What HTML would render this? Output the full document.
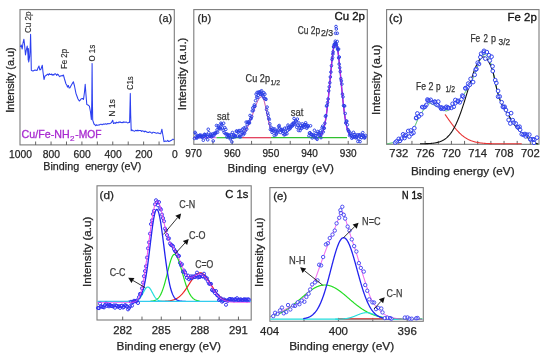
<!DOCTYPE html>
<html><head><meta charset="utf-8"><style>
html,body{margin:0;padding:0;background:#fff;width:550px;height:358px;overflow:hidden}
svg{display:block;filter:blur(0.35px)}
text{font-family:"Liberation Sans", sans-serif}
</style></head><body>
<svg width="550" height="358" viewBox="0 0 550 358">
<rect width="550" height="358" fill="#fff"/>
<rect x="20" y="9.6" width="154.3" height="135.3" fill="none" stroke="#7c7c7c" stroke-width="1.1"/>
<path d="M35.63 144.9 L35.63 141.5 M51.06 144.9 L51.06 141.5 M66.49 144.9 L66.49 141.5 M81.92 144.9 L81.92 141.5 M97.35 144.9 L97.35 141.5 M112.78 144.9 L112.78 141.5 M128.21 144.9 L128.21 141.5 M143.64 144.9 L143.64 141.5 M159.07 144.9 L159.07 141.5 " stroke="#555" stroke-width="0.9" fill="none"/>
<text x="9.04" y="157.5" font-size="10.3" fill="#262626" font-weight="normal" textLength="22.91" lengthAdjust="spacingAndGlyphs" stroke="#262626" stroke-width="0.25">1000</text>
<text x="42.76" y="157.5" font-size="10.3" fill="#262626" font-weight="normal" textLength="17.19" lengthAdjust="spacingAndGlyphs" stroke="#262626" stroke-width="0.25">800</text>
<text x="73.62" y="157.5" font-size="10.3" fill="#262626" font-weight="normal" textLength="17.19" lengthAdjust="spacingAndGlyphs" stroke="#262626" stroke-width="0.25">600</text>
<text x="104.48" y="157.5" font-size="10.3" fill="#262626" font-weight="normal" textLength="17.19" lengthAdjust="spacingAndGlyphs" stroke="#262626" stroke-width="0.25">400</text>
<text x="135.34" y="157.5" font-size="10.3" fill="#262626" font-weight="normal" textLength="17.19" lengthAdjust="spacingAndGlyphs" stroke="#262626" stroke-width="0.25">200</text>
<text x="171.94" y="157.5" font-size="10.3" fill="#262626" font-weight="normal" textLength="5.73" lengthAdjust="spacingAndGlyphs" stroke="#262626" stroke-width="0.25">0</text>
<text x="43.3" y="169.8" font-size="10.8" fill="#262626" font-weight="normal" textLength="98.02" lengthAdjust="spacingAndGlyphs" stroke="#262626" stroke-width="0.25">Binding&#160;&#160;energy (eV)</text>
<text transform="translate(14.2 112.8) rotate(-90)" x="0" y="0" font-size="10" fill="#262626" font-weight="normal" textLength="65.28" lengthAdjust="spacingAndGlyphs" stroke="#262626" stroke-width="0.25">Intensity (a.u)</text>
<text x="158.8" y="22.4" font-size="10.6" fill="#262626" font-weight="normal" textLength="13.22" lengthAdjust="spacingAndGlyphs" stroke="#262626" stroke-width="0.25">(a)</text>
<path d="M20.3 47 L21.2 45 L22.2 49 L23 43 L23.9 39.2 L24.6 45 L25.5 55 L26.3 50 L27.2 46 L28 55 L28.2 60 L28.4 48.5 L28.7 62 L29.6 57 L30.1 50 L30.6 34.2 L31 52 L31.3 70.3 L32.15 70.65 L33 71 L34 70.5 L35 70 L36 70.25 L37 70.5 L38 68 L39 66 L39.8 70 L41 69 L42.3 65.2 L43 72 L44 79.5 L45 76 L46 75.5 L47 74.59 L47.75 74.06 L48.5 75.1 L49.25 73.62 L50 74.58 L50.75 74.44 L51.5 73.97 L52.25 75.27 L53 74.42 L53.75 75.09 L54.5 73.99 L55.25 73.79 L56 74.32 L56.75 75.51 L57.5 74.12 L58.25 74.6 L59 75.8 L59.75 76.67 L60.5 75.93 L61.25 75.63 L62 76 L63.4 75 L64.5 79 L65.25 81.5 L66 84 L66.75 85 L67.5 87.11 L68.33 85.51 L69.17 87.97 L70 87.7 L71 85.85 L72 84 L72.7 82.9 L73.4 81.8 L74.5 86 L75.25 89.8 L76 93.6 L77 96.3 L78 99 L79.3 101 L80.15 100.25 L81 99.01 L81.83 98.63 L82.67 98.54 L83.5 99.4 L84.5 92 L85.2 84.3 L86 95 L86.8 104.5 L88 105 L88.7 105.55 L89.4 106.1 L90.5 112 L91.4 119.6 L91.8 100 L92.1 63.4 L92.4 100 L92.7 120.2 L94 124 L95 124.94 L95.71 125.6 L96.43 124.71 L97.14 125.22 L97.86 125.27 L98.57 124.88 L99.29 125.09 L100 124.41 L100.71 124.26 L101.43 124.32 L102.14 124.81 L102.86 124.33 L103.57 124.03 L104.29 124.26 L105 123.94 L105.71 123.67 L106.43 124.28 L107.14 124.1 L107.86 123.43 L108.57 123.81 L109.29 123.69 L110 123.6 L110.75 123.05 L111.5 122.5 L112.7 120.2 L113.5 123.51 L114.25 123.23 L115 122.55 L115.75 123.4 L116.5 122.15 L117.25 122.47 L118 122.85 L118.7 121.98 L119.4 122.39 L120.1 121.73 L120.8 122.53 L121.5 122.61 L122.2 122.3 L122.9 122.66 L123.6 121.85 L124.3 122.31 L125 122.13 L125.77 122.19 L126.53 122.11 L127.3 122.71 L128.07 122.93 L128.83 122.38 L129.6 122.5 L130.3 93.4 L130.7 115 L131.2 130.72 L131.96 129.91 L132.72 130.77 L133.48 130.7 L134.24 131.17 L135 130.93 L135.71 130.28 L136.43 130.49 L137.14 130.94 L137.86 130.14 L138.57 130.81 L139.29 130.48 L140 130.48 L140.71 130.48 L141.43 131.5 L142.14 130.71 L142.86 130.94 L143.57 131.21 L144.29 131.93 L145 130.93 L145.71 131.54 L146.43 131.78 L147.14 132.34 L147.86 132.36 L148.57 132.53 L149.29 131.84 L150 132.14 L150.71 132.17 L151.43 132.98 L152.14 133.19 L152.86 132.21 L153.57 132.35 L154.29 132.53 L155 132.64 L155.72 133.07 L156.45 133.3 L157.18 132.94 L157.9 132.68 L158.62 133.33 L159.35 133.35 L160.08 133.7 L160.8 133.7 L161.9 129.2 L162.5 133 L163.25 137 L164 141.61 L164.75 141.26 L165.5 141.02 L166.25 141.16 L167 141.24 L167.75 140.4 L168.5 141.54 L169.25 141.38 L170 141 L171 140.5 L172 140 L173 139 L174 140" fill="none" stroke="#2b3ff0" stroke-width="1.05" stroke-linejoin="round" />
<text transform="translate(31.4 33.1) rotate(-90)" x="0" y="0" font-size="9" fill="#2a2a2a" font-weight="normal" textLength="21.69" lengthAdjust="spacingAndGlyphs" stroke="#2a2a2a" stroke-width="0.15">Cu 2p</text>
<text transform="translate(66.9 69.1) rotate(-90)" x="0" y="0" font-size="9" fill="#2a2a2a" font-weight="normal" textLength="20.12" lengthAdjust="spacingAndGlyphs" stroke="#2a2a2a" stroke-width="0.15">Fe 2p</text>
<text transform="translate(95 61.6) rotate(-90)" x="0" y="0" font-size="9" fill="#2a2a2a" font-weight="normal" textLength="16.91" lengthAdjust="spacingAndGlyphs" stroke="#2a2a2a" stroke-width="0.15">O 1s</text>
<text transform="translate(115 116.8) rotate(-90)" x="0" y="0" font-size="9" fill="#2a2a2a" font-weight="normal" textLength="17.61" lengthAdjust="spacingAndGlyphs" stroke="#2a2a2a" stroke-width="0.15">N 1s</text>
<text transform="translate(132.8 90.1) rotate(-90)" x="0" y="0" font-size="9" fill="#2a2a2a" font-weight="normal" textLength="13.79" lengthAdjust="spacingAndGlyphs" stroke="#2a2a2a" stroke-width="0.15">C1s</text>
<text x="21.6" y="137.8" font-size="10.2" fill="#a82ad0" font-weight="normal" textLength="48.01" lengthAdjust="spacingAndGlyphs" stroke="#a82ad0" stroke-width="0.3">Cu/Fe-NH</text>
<text x="70" y="140.8" font-size="7.2" fill="#a82ad0" font-weight="normal" textLength="4.51" lengthAdjust="spacingAndGlyphs" stroke="#a82ad0" stroke-width="0.2">2</text>
<text x="75.3" y="137.8" font-size="10.2" fill="#a82ad0" font-weight="normal" textLength="26.2" lengthAdjust="spacingAndGlyphs" stroke="#a82ad0" stroke-width="0.3">-MOF</text>
<rect x="193.8" y="9.6" width="173.5" height="134.7" fill="none" stroke="#7c7c7c" stroke-width="1.1"/>
<path d="M212.93 144.3 L212.93 140.9 M232.25 144.3 L232.25 140.9 M251.57 144.3 L251.57 140.9 M270.9 144.3 L270.9 140.9 M290.23 144.3 L290.23 140.9 M309.55 144.3 L309.55 140.9 M328.88 144.3 L328.88 140.9 M348.2 144.3 L348.2 140.9 " stroke="#555" stroke-width="0.9" fill="none"/>
<text x="185.25" y="156.8" font-size="10" fill="#262626" font-weight="normal" textLength="16.69" lengthAdjust="spacingAndGlyphs" stroke="#262626" stroke-width="0.25">970</text>
<text x="223.9" y="156.8" font-size="10" fill="#262626" font-weight="normal" textLength="16.69" lengthAdjust="spacingAndGlyphs" stroke="#262626" stroke-width="0.25">960</text>
<text x="262.55" y="156.8" font-size="10" fill="#262626" font-weight="normal" textLength="16.69" lengthAdjust="spacingAndGlyphs" stroke="#262626" stroke-width="0.25">950</text>
<text x="301.2" y="156.8" font-size="10" fill="#262626" font-weight="normal" textLength="16.69" lengthAdjust="spacingAndGlyphs" stroke="#262626" stroke-width="0.25">940</text>
<text x="339.85" y="156.8" font-size="10" fill="#262626" font-weight="normal" textLength="16.69" lengthAdjust="spacingAndGlyphs" stroke="#262626" stroke-width="0.25">930</text>
<text x="227.6" y="172" font-size="11" fill="#262626" font-weight="normal" textLength="106.32" lengthAdjust="spacingAndGlyphs" stroke="#262626" stroke-width="0.25">Binding&#160;&#160;energy (eV)</text>
<text transform="translate(186.3 110.2) rotate(-90)" x="0" y="0" font-size="10.6" fill="#262626" font-weight="normal" textLength="72.61" lengthAdjust="spacingAndGlyphs" stroke="#262626" stroke-width="0.25">Intensity (a.u.)</text>
<text x="197.5" y="22.4" font-size="10.6" fill="#262626" font-weight="normal" textLength="13.63" lengthAdjust="spacingAndGlyphs" stroke="#262626" stroke-width="0.25">(b)</text>
<text x="334.5" y="20.3" font-size="11.3" fill="#151515" font-weight="normal" textLength="30.38" lengthAdjust="spacingAndGlyphs" stroke="#151515" stroke-width="0.35">Cu 2p</text>
<path d="M194 137.7 L216.5 137.7" fill="none" stroke="#e040e0" stroke-width="0.9" stroke-linejoin="round" />
<path d="M216.5 137.7 L242 137.7" fill="none" stroke="#30c030" stroke-width="1.2" stroke-linejoin="round" />
<path d="M242 137.7 L271 137.7" fill="none" stroke="#e03050" stroke-width="1.2" stroke-linejoin="round" />
<path d="M271 137.7 L347 137.7" fill="none" stroke="#30c030" stroke-width="1.2" stroke-linejoin="round" />
<path d="M240 136.05 L240.25 135.92 L240.5 135.79 L240.75 135.65 L241 135.5 L241.25 135.34 L241.5 135.17 L241.75 134.99 L242 134.8 L242.25 134.61 L242.5 134.4 L242.75 134.17 L243 133.94 L243.25 133.7 L243.5 133.44 L243.75 133.17 L244 132.89 L244.25 132.59 L244.5 132.28 L244.75 131.96 L245 131.62 L245.25 131.26 L245.5 130.9 L245.75 130.51 L246 130.12 L246.25 129.7 L246.5 129.28 L246.75 128.83 L247 128.37 L247.25 127.9 L247.5 127.41 L247.75 126.91 L248 126.39 L248.25 125.85 L248.5 125.3 L248.75 124.73 L249 124.16 L249.25 123.56 L249.5 122.96 L249.75 122.34 L250 121.71 L250.25 121.06 L250.5 120.41 L250.75 119.74 L251 119.07 L251.25 118.38 L251.5 117.69 L251.75 116.99 L252 116.28 L252.25 115.57 L252.5 114.85 L252.75 114.13 L253 113.41 L253.25 112.69 L253.5 111.97 L253.75 111.24 L254 110.53 L254.25 109.81 L254.5 109.1 L254.75 108.4 L255 107.71 L255.25 107.02 L255.5 106.35 L255.75 105.69 L256 105.04 L256.25 104.41 L256.5 103.79 L256.75 103.19 L257 102.61 L257.25 102.05 L257.5 101.52 L257.75 101 L258 100.51 L258.25 100.05 L258.5 99.61 L258.75 99.2 L259 98.82 L259.25 98.46 L259.5 98.14 L259.75 97.85 L260 97.59 L260.25 97.36 L260.5 97.17 L260.75 97 L261 96.88 L261.25 96.78 L261.5 96.72 L261.75 96.7 L262 96.73 L262.25 96.87 L262.5 97.1 L262.75 97.43 L263 97.86 L263.25 98.39 L263.5 99 L263.75 99.7 L264 100.48 L264.25 101.34 L264.5 102.26 L264.75 103.25 L265 104.29 L265.25 105.39 L265.5 106.52 L265.75 107.69 L266 108.89 L266.25 110.11 L266.5 111.34 L266.75 112.58 L267 113.83 L267.25 115.06 L267.5 116.29 L267.75 117.5 L268 118.69 L268.25 119.86 L268.5 120.99 L268.75 122.1 L269 123.16 L269.25 124.19 L269.5 125.17 L269.75 126.12 L270 127.02 L270.25 127.87 L270.5 128.68 L270.75 129.44 L271 130.16 L271.25 130.83 L271.5 131.46 L271.75 132.04" fill="none" stroke="#c03aa0" stroke-width="1" stroke-linejoin="round" />
<path d="M319 136.8 L319.25 136.67 L319.5 136.51 L319.75 136.34 L320 136.14 L320.25 135.93 L320.5 135.68 L320.75 135.41 L321 135.1 L321.25 134.76 L321.5 134.38 L321.75 133.96 L322 133.5 L322.25 132.98 L322.5 132.42 L322.75 131.81 L323 131.13 L323.25 130.4 L323.5 129.6 L323.75 128.73 L324 127.79 L324.25 126.77 L324.5 125.68 L324.75 124.51 L325 123.25 L325.25 121.9 L325.5 120.47 L325.75 118.95 L326 117.34 L326.25 115.63 L326.5 113.84 L326.75 111.95 L327 109.97 L327.25 107.91 L327.5 105.76 L327.75 103.53 L328 101.22 L328.25 98.84 L328.5 96.39 L328.75 93.89 L329 91.32 L329.25 88.72 L329.5 86.08 L329.75 83.41 L330 80.73 L330.25 78.04 L330.5 75.36 L330.75 72.7 L331 70.07 L331.25 67.49 L331.5 64.96 L331.75 62.5 L332 60.13 L332.25 57.85 L332.5 55.69 L332.75 53.64 L333 51.73 L333.25 49.96 L333.5 48.34 L333.75 46.9 L334 45.62 L334.25 44.53 L334.5 43.63 L334.75 42.92 L335 42.41 L335.25 42.1 L335.5 42 L335.75 42.1 L336 42.41 L336.25 42.92 L336.5 43.63 L336.75 44.53 L337 45.62 L337.25 46.9 L337.5 48.34 L337.75 49.96 L338 51.73 L338.25 53.64 L338.5 55.69 L338.75 57.85 L339 60.13 L339.25 62.5 L339.5 64.96 L339.75 67.49 L340 70.07 L340.25 72.7 L340.5 75.36 L340.75 78.04 L341 80.73 L341.25 83.41 L341.5 86.08 L341.75 88.72 L342 91.32 L342.25 93.89 L342.5 96.39 L342.75 98.84 L343 101.22 L343.25 103.53 L343.5 105.76 L343.75 107.91 L344 109.97 L344.25 111.95 L344.5 113.84 L344.75 115.63 L345 117.34 L345.25 118.95 L345.5 120.47 L345.75 121.9 L346 123.25 L346.25 124.51 L346.5 125.68 L346.75 126.77 L347 127.79 L347.25 128.73 L347.5 129.6 L347.75 130.4 L348 131.13 L348.25 131.81 L348.5 132.42 L348.75 132.98 L349 133.5 L349.25 133.96 L349.5 134.38 L349.75 134.76" fill="none" stroke="#3030e0" stroke-width="1.4" stroke-linejoin="round" />
<path d="M319 136.8 L319.25 136.67 L319.5 136.51 L319.75 136.34 L320 136.14 L320.25 135.93 L320.5 135.68 L320.75 135.41 L321 135.1 L321.25 134.76 L321.5 134.38 L321.75 133.96 L322 133.5 L322.25 132.98 L322.5 132.42 L322.75 131.81 L323 131.13 L323.25 130.4 L323.5 129.6 L323.75 128.73 L324 127.79 L324.25 126.77 L324.5 125.68 L324.75 124.51 L325 123.25 L325.25 121.9 L325.5 120.47 L325.75 118.95 L326 117.34 L326.25 115.63 L326.5 113.84 L326.75 111.95 L327 109.97 L327.25 107.91 L327.5 105.76 L327.75 103.53 L328 101.22 L328.25 98.84 L328.5 96.39 L328.75 93.89 L329 91.32 L329.25 88.72 L329.5 86.08 L329.75 83.41 L330 80.73 L330.25 78.04 L330.5 75.36 L330.75 72.7 L331 70.07 L331.25 67.49 L331.5 64.96 L331.75 62.5 L332 60.13 L332.25 57.85 L332.5 55.69 L332.75 53.64 L333 51.73 L333.25 49.96 L333.5 48.34 L333.75 46.9 L334 45.62 L334.25 44.53 L334.5 43.63 L334.75 42.92 L335 42.41 L335.25 42.1 L335.5 42 L335.75 42.1 L336 42.41 L336.25 42.92 L336.5 43.63 L336.75 44.53 L337 45.62 L337.25 46.9 L337.5 48.34 L337.75 49.96 L338 51.73 L338.25 53.64 L338.5 55.69 L338.75 57.85 L339 60.13 L339.25 62.5 L339.5 64.96 L339.75 67.49 L340 70.07 L340.25 72.7 L340.5 75.36 L340.75 78.04 L341 80.73 L341.25 83.41 L341.5 86.08 L341.75 88.72 L342 91.32 L342.25 93.89 L342.5 96.39 L342.75 98.84 L343 101.22 L343.25 103.53 L343.5 105.76 L343.75 107.91 L344 109.97 L344.25 111.95 L344.5 113.84 L344.75 115.63 L345 117.34 L345.25 118.95 L345.5 120.47 L345.75 121.9 L346 123.25 L346.25 124.51 L346.5 125.68 L346.75 126.77 L347 127.79 L347.25 128.73 L347.5 129.6 L347.75 130.4 L348 131.13 L348.25 131.81 L348.5 132.42 L348.75 132.98 L349 133.5 L349.25 133.96 L349.5 134.38 L349.75 134.76" fill="none" stroke="#e020e0" stroke-width="1" stroke-linejoin="round" />
<path d="M193.2 138.43 a1.3 1.3 0 1 0 2.6 0 a1.3 1.3 0 1 0 -2.6 0 M193.75 132.36 a1.3 1.3 0 1 0 2.6 0 a1.3 1.3 0 1 0 -2.6 0 M194.3 133.51 a1.3 1.3 0 1 0 2.6 0 a1.3 1.3 0 1 0 -2.6 0 M194.85 136.92 a1.3 1.3 0 1 0 2.6 0 a1.3 1.3 0 1 0 -2.6 0 M195.4 138.11 a1.3 1.3 0 1 0 2.6 0 a1.3 1.3 0 1 0 -2.6 0 M195.95 137.46 a1.3 1.3 0 1 0 2.6 0 a1.3 1.3 0 1 0 -2.6 0 M196.5 136.23 a1.3 1.3 0 1 0 2.6 0 a1.3 1.3 0 1 0 -2.6 0 M197.05 135.74 a1.3 1.3 0 1 0 2.6 0 a1.3 1.3 0 1 0 -2.6 0 M197.6 135.77 a1.3 1.3 0 1 0 2.6 0 a1.3 1.3 0 1 0 -2.6 0 M198.15 136.78 a1.3 1.3 0 1 0 2.6 0 a1.3 1.3 0 1 0 -2.6 0 M198.7 134.98 a1.3 1.3 0 1 0 2.6 0 a1.3 1.3 0 1 0 -2.6 0 M199.25 136.07 a1.3 1.3 0 1 0 2.6 0 a1.3 1.3 0 1 0 -2.6 0 M199.8 136.77 a1.3 1.3 0 1 0 2.6 0 a1.3 1.3 0 1 0 -2.6 0 M200.35 135.4 a1.3 1.3 0 1 0 2.6 0 a1.3 1.3 0 1 0 -2.6 0 M200.9 137.23 a1.3 1.3 0 1 0 2.6 0 a1.3 1.3 0 1 0 -2.6 0 M201.45 136.76 a1.3 1.3 0 1 0 2.6 0 a1.3 1.3 0 1 0 -2.6 0 M202 140.23 a1.3 1.3 0 1 0 2.6 0 a1.3 1.3 0 1 0 -2.6 0 M202.55 136.18 a1.3 1.3 0 1 0 2.6 0 a1.3 1.3 0 1 0 -2.6 0 M203.1 134.37 a1.3 1.3 0 1 0 2.6 0 a1.3 1.3 0 1 0 -2.6 0 M203.65 134.51 a1.3 1.3 0 1 0 2.6 0 a1.3 1.3 0 1 0 -2.6 0 M204.2 135.37 a1.3 1.3 0 1 0 2.6 0 a1.3 1.3 0 1 0 -2.6 0 M204.75 137.62 a1.3 1.3 0 1 0 2.6 0 a1.3 1.3 0 1 0 -2.6 0 M205.3 134.59 a1.3 1.3 0 1 0 2.6 0 a1.3 1.3 0 1 0 -2.6 0 M205.85 136.33 a1.3 1.3 0 1 0 2.6 0 a1.3 1.3 0 1 0 -2.6 0 M206.4 139.81 a1.3 1.3 0 1 0 2.6 0 a1.3 1.3 0 1 0 -2.6 0 M206.95 129.24 a1.3 1.3 0 1 0 2.6 0 a1.3 1.3 0 1 0 -2.6 0 M207.5 132.7 a1.3 1.3 0 1 0 2.6 0 a1.3 1.3 0 1 0 -2.6 0 M208.05 135.98 a1.3 1.3 0 1 0 2.6 0 a1.3 1.3 0 1 0 -2.6 0 M208.6 136.35 a1.3 1.3 0 1 0 2.6 0 a1.3 1.3 0 1 0 -2.6 0 M209.15 135.96 a1.3 1.3 0 1 0 2.6 0 a1.3 1.3 0 1 0 -2.6 0 M209.7 134.33 a1.3 1.3 0 1 0 2.6 0 a1.3 1.3 0 1 0 -2.6 0 M210.25 136.91 a1.3 1.3 0 1 0 2.6 0 a1.3 1.3 0 1 0 -2.6 0 M210.8 135.97 a1.3 1.3 0 1 0 2.6 0 a1.3 1.3 0 1 0 -2.6 0 M211.35 133.96 a1.3 1.3 0 1 0 2.6 0 a1.3 1.3 0 1 0 -2.6 0 M211.9 140.92 a1.3 1.3 0 1 0 2.6 0 a1.3 1.3 0 1 0 -2.6 0 M212.45 135.75 a1.3 1.3 0 1 0 2.6 0 a1.3 1.3 0 1 0 -2.6 0 M213 133.28 a1.3 1.3 0 1 0 2.6 0 a1.3 1.3 0 1 0 -2.6 0 M213.55 133.97 a1.3 1.3 0 1 0 2.6 0 a1.3 1.3 0 1 0 -2.6 0 M214.1 133.12 a1.3 1.3 0 1 0 2.6 0 a1.3 1.3 0 1 0 -2.6 0 M214.65 132.8 a1.3 1.3 0 1 0 2.6 0 a1.3 1.3 0 1 0 -2.6 0 M215.2 125.53 a1.3 1.3 0 1 0 2.6 0 a1.3 1.3 0 1 0 -2.6 0 M215.75 129.88 a1.3 1.3 0 1 0 2.6 0 a1.3 1.3 0 1 0 -2.6 0 M216.3 132.32 a1.3 1.3 0 1 0 2.6 0 a1.3 1.3 0 1 0 -2.6 0 M216.85 125.9 a1.3 1.3 0 1 0 2.6 0 a1.3 1.3 0 1 0 -2.6 0 M217.4 127.37 a1.3 1.3 0 1 0 2.6 0 a1.3 1.3 0 1 0 -2.6 0 M217.95 128.76 a1.3 1.3 0 1 0 2.6 0 a1.3 1.3 0 1 0 -2.6 0 M218.5 127.68 a1.3 1.3 0 1 0 2.6 0 a1.3 1.3 0 1 0 -2.6 0 M219.05 128.67 a1.3 1.3 0 1 0 2.6 0 a1.3 1.3 0 1 0 -2.6 0 M219.6 123.2 a1.3 1.3 0 1 0 2.6 0 a1.3 1.3 0 1 0 -2.6 0 M220.15 124.24 a1.3 1.3 0 1 0 2.6 0 a1.3 1.3 0 1 0 -2.6 0 M220.7 124.81 a1.3 1.3 0 1 0 2.6 0 a1.3 1.3 0 1 0 -2.6 0 M221.25 127.96 a1.3 1.3 0 1 0 2.6 0 a1.3 1.3 0 1 0 -2.6 0 M221.8 130.14 a1.3 1.3 0 1 0 2.6 0 a1.3 1.3 0 1 0 -2.6 0 M222.35 123.2 a1.3 1.3 0 1 0 2.6 0 a1.3 1.3 0 1 0 -2.6 0 M222.9 132.51 a1.3 1.3 0 1 0 2.6 0 a1.3 1.3 0 1 0 -2.6 0 M223.45 127.57 a1.3 1.3 0 1 0 2.6 0 a1.3 1.3 0 1 0 -2.6 0 M224 133.71 a1.3 1.3 0 1 0 2.6 0 a1.3 1.3 0 1 0 -2.6 0 M224.55 129.37 a1.3 1.3 0 1 0 2.6 0 a1.3 1.3 0 1 0 -2.6 0 M225.1 134.07 a1.3 1.3 0 1 0 2.6 0 a1.3 1.3 0 1 0 -2.6 0 M225.65 137.06 a1.3 1.3 0 1 0 2.6 0 a1.3 1.3 0 1 0 -2.6 0 M226.2 134.24 a1.3 1.3 0 1 0 2.6 0 a1.3 1.3 0 1 0 -2.6 0 M226.75 135.34 a1.3 1.3 0 1 0 2.6 0 a1.3 1.3 0 1 0 -2.6 0 M227.3 136.98 a1.3 1.3 0 1 0 2.6 0 a1.3 1.3 0 1 0 -2.6 0 M227.85 135.52 a1.3 1.3 0 1 0 2.6 0 a1.3 1.3 0 1 0 -2.6 0 M228.4 135.04 a1.3 1.3 0 1 0 2.6 0 a1.3 1.3 0 1 0 -2.6 0 M228.95 138.97 a1.3 1.3 0 1 0 2.6 0 a1.3 1.3 0 1 0 -2.6 0 M229.5 137.82 a1.3 1.3 0 1 0 2.6 0 a1.3 1.3 0 1 0 -2.6 0 M230.05 134.59 a1.3 1.3 0 1 0 2.6 0 a1.3 1.3 0 1 0 -2.6 0 M230.6 141.88 a1.3 1.3 0 1 0 2.6 0 a1.3 1.3 0 1 0 -2.6 0 M231.15 132.51 a1.3 1.3 0 1 0 2.6 0 a1.3 1.3 0 1 0 -2.6 0 M231.7 137.43 a1.3 1.3 0 1 0 2.6 0 a1.3 1.3 0 1 0 -2.6 0 M232.25 134.56 a1.3 1.3 0 1 0 2.6 0 a1.3 1.3 0 1 0 -2.6 0 M232.8 135.47 a1.3 1.3 0 1 0 2.6 0 a1.3 1.3 0 1 0 -2.6 0 M233.35 136.79 a1.3 1.3 0 1 0 2.6 0 a1.3 1.3 0 1 0 -2.6 0 M233.9 135.56 a1.3 1.3 0 1 0 2.6 0 a1.3 1.3 0 1 0 -2.6 0 M234.45 136.48 a1.3 1.3 0 1 0 2.6 0 a1.3 1.3 0 1 0 -2.6 0 M235 131.19 a1.3 1.3 0 1 0 2.6 0 a1.3 1.3 0 1 0 -2.6 0 M235.55 131.12 a1.3 1.3 0 1 0 2.6 0 a1.3 1.3 0 1 0 -2.6 0 M236.1 136.08 a1.3 1.3 0 1 0 2.6 0 a1.3 1.3 0 1 0 -2.6 0 M236.65 132.14 a1.3 1.3 0 1 0 2.6 0 a1.3 1.3 0 1 0 -2.6 0 M237.2 131.8 a1.3 1.3 0 1 0 2.6 0 a1.3 1.3 0 1 0 -2.6 0 M237.75 130.53 a1.3 1.3 0 1 0 2.6 0 a1.3 1.3 0 1 0 -2.6 0 M238.3 136.85 a1.3 1.3 0 1 0 2.6 0 a1.3 1.3 0 1 0 -2.6 0 M238.85 135.32 a1.3 1.3 0 1 0 2.6 0 a1.3 1.3 0 1 0 -2.6 0 M239.4 136.74 a1.3 1.3 0 1 0 2.6 0 a1.3 1.3 0 1 0 -2.6 0 M239.95 130.59 a1.3 1.3 0 1 0 2.6 0 a1.3 1.3 0 1 0 -2.6 0 M240.5 132.42 a1.3 1.3 0 1 0 2.6 0 a1.3 1.3 0 1 0 -2.6 0 M241.05 129.21 a1.3 1.3 0 1 0 2.6 0 a1.3 1.3 0 1 0 -2.6 0 M241.6 133.26 a1.3 1.3 0 1 0 2.6 0 a1.3 1.3 0 1 0 -2.6 0 M242.15 134.65 a1.3 1.3 0 1 0 2.6 0 a1.3 1.3 0 1 0 -2.6 0 M242.7 128.04 a1.3 1.3 0 1 0 2.6 0 a1.3 1.3 0 1 0 -2.6 0 M243.25 133.19 a1.3 1.3 0 1 0 2.6 0 a1.3 1.3 0 1 0 -2.6 0 M243.8 131.02 a1.3 1.3 0 1 0 2.6 0 a1.3 1.3 0 1 0 -2.6 0 M244.35 127.34 a1.3 1.3 0 1 0 2.6 0 a1.3 1.3 0 1 0 -2.6 0 M244.9 122.08 a1.3 1.3 0 1 0 2.6 0 a1.3 1.3 0 1 0 -2.6 0 M245.45 129.15 a1.3 1.3 0 1 0 2.6 0 a1.3 1.3 0 1 0 -2.6 0 M246 124.43 a1.3 1.3 0 1 0 2.6 0 a1.3 1.3 0 1 0 -2.6 0 M246.55 122.01 a1.3 1.3 0 1 0 2.6 0 a1.3 1.3 0 1 0 -2.6 0 M247.1 123.14 a1.3 1.3 0 1 0 2.6 0 a1.3 1.3 0 1 0 -2.6 0 M247.65 121.81 a1.3 1.3 0 1 0 2.6 0 a1.3 1.3 0 1 0 -2.6 0 M248.2 122.99 a1.3 1.3 0 1 0 2.6 0 a1.3 1.3 0 1 0 -2.6 0 M248.75 115.45 a1.3 1.3 0 1 0 2.6 0 a1.3 1.3 0 1 0 -2.6 0 M249.3 119.07 a1.3 1.3 0 1 0 2.6 0 a1.3 1.3 0 1 0 -2.6 0 M249.85 118.3 a1.3 1.3 0 1 0 2.6 0 a1.3 1.3 0 1 0 -2.6 0 M250.4 116.56 a1.3 1.3 0 1 0 2.6 0 a1.3 1.3 0 1 0 -2.6 0 M250.95 110.95 a1.3 1.3 0 1 0 2.6 0 a1.3 1.3 0 1 0 -2.6 0 M251.5 107.88 a1.3 1.3 0 1 0 2.6 0 a1.3 1.3 0 1 0 -2.6 0 M252.05 110.38 a1.3 1.3 0 1 0 2.6 0 a1.3 1.3 0 1 0 -2.6 0 M252.6 106.49 a1.3 1.3 0 1 0 2.6 0 a1.3 1.3 0 1 0 -2.6 0 M253.15 104.81 a1.3 1.3 0 1 0 2.6 0 a1.3 1.3 0 1 0 -2.6 0 M253.7 106.26 a1.3 1.3 0 1 0 2.6 0 a1.3 1.3 0 1 0 -2.6 0 M254.25 100.6 a1.3 1.3 0 1 0 2.6 0 a1.3 1.3 0 1 0 -2.6 0 M254.8 94.16 a1.3 1.3 0 1 0 2.6 0 a1.3 1.3 0 1 0 -2.6 0 M255.35 97.28 a1.3 1.3 0 1 0 2.6 0 a1.3 1.3 0 1 0 -2.6 0 M255.9 92.38 a1.3 1.3 0 1 0 2.6 0 a1.3 1.3 0 1 0 -2.6 0 M256.45 97.54 a1.3 1.3 0 1 0 2.6 0 a1.3 1.3 0 1 0 -2.6 0 M257 95.2 a1.3 1.3 0 1 0 2.6 0 a1.3 1.3 0 1 0 -2.6 0 M257.55 91.98 a1.3 1.3 0 1 0 2.6 0 a1.3 1.3 0 1 0 -2.6 0 M258.1 92.58 a1.3 1.3 0 1 0 2.6 0 a1.3 1.3 0 1 0 -2.6 0 M258.65 93.92 a1.3 1.3 0 1 0 2.6 0 a1.3 1.3 0 1 0 -2.6 0 M259.2 91.59 a1.3 1.3 0 1 0 2.6 0 a1.3 1.3 0 1 0 -2.6 0 M259.75 94.25 a1.3 1.3 0 1 0 2.6 0 a1.3 1.3 0 1 0 -2.6 0 M260.3 90.76 a1.3 1.3 0 1 0 2.6 0 a1.3 1.3 0 1 0 -2.6 0 M260.85 93.51 a1.3 1.3 0 1 0 2.6 0 a1.3 1.3 0 1 0 -2.6 0 M261.4 95.19 a1.3 1.3 0 1 0 2.6 0 a1.3 1.3 0 1 0 -2.6 0 M261.95 96.6 a1.3 1.3 0 1 0 2.6 0 a1.3 1.3 0 1 0 -2.6 0 M262.5 92.71 a1.3 1.3 0 1 0 2.6 0 a1.3 1.3 0 1 0 -2.6 0 M263.05 98.44 a1.3 1.3 0 1 0 2.6 0 a1.3 1.3 0 1 0 -2.6 0 M263.6 94.18 a1.3 1.3 0 1 0 2.6 0 a1.3 1.3 0 1 0 -2.6 0 M264.15 98.71 a1.3 1.3 0 1 0 2.6 0 a1.3 1.3 0 1 0 -2.6 0 M264.7 99.42 a1.3 1.3 0 1 0 2.6 0 a1.3 1.3 0 1 0 -2.6 0 M265.25 109.63 a1.3 1.3 0 1 0 2.6 0 a1.3 1.3 0 1 0 -2.6 0 M265.8 107.07 a1.3 1.3 0 1 0 2.6 0 a1.3 1.3 0 1 0 -2.6 0 M266.35 112.92 a1.3 1.3 0 1 0 2.6 0 a1.3 1.3 0 1 0 -2.6 0 M266.9 115.32 a1.3 1.3 0 1 0 2.6 0 a1.3 1.3 0 1 0 -2.6 0 M267.45 118.4 a1.3 1.3 0 1 0 2.6 0 a1.3 1.3 0 1 0 -2.6 0 M268 119.53 a1.3 1.3 0 1 0 2.6 0 a1.3 1.3 0 1 0 -2.6 0 M268.55 123.78 a1.3 1.3 0 1 0 2.6 0 a1.3 1.3 0 1 0 -2.6 0 M269.1 129.56 a1.3 1.3 0 1 0 2.6 0 a1.3 1.3 0 1 0 -2.6 0 M269.65 127.16 a1.3 1.3 0 1 0 2.6 0 a1.3 1.3 0 1 0 -2.6 0 M270.2 129.88 a1.3 1.3 0 1 0 2.6 0 a1.3 1.3 0 1 0 -2.6 0 M270.75 132.32 a1.3 1.3 0 1 0 2.6 0 a1.3 1.3 0 1 0 -2.6 0 M271.3 130.52 a1.3 1.3 0 1 0 2.6 0 a1.3 1.3 0 1 0 -2.6 0 M271.85 128.82 a1.3 1.3 0 1 0 2.6 0 a1.3 1.3 0 1 0 -2.6 0 M272.4 131.12 a1.3 1.3 0 1 0 2.6 0 a1.3 1.3 0 1 0 -2.6 0 M272.95 135.39 a1.3 1.3 0 1 0 2.6 0 a1.3 1.3 0 1 0 -2.6 0 M273.5 128.96 a1.3 1.3 0 1 0 2.6 0 a1.3 1.3 0 1 0 -2.6 0 M274.05 131.32 a1.3 1.3 0 1 0 2.6 0 a1.3 1.3 0 1 0 -2.6 0 M274.6 134.76 a1.3 1.3 0 1 0 2.6 0 a1.3 1.3 0 1 0 -2.6 0 M275.15 133.62 a1.3 1.3 0 1 0 2.6 0 a1.3 1.3 0 1 0 -2.6 0 M275.7 131 a1.3 1.3 0 1 0 2.6 0 a1.3 1.3 0 1 0 -2.6 0 M276.25 132.18 a1.3 1.3 0 1 0 2.6 0 a1.3 1.3 0 1 0 -2.6 0 M276.8 130.04 a1.3 1.3 0 1 0 2.6 0 a1.3 1.3 0 1 0 -2.6 0 M277.35 126.47 a1.3 1.3 0 1 0 2.6 0 a1.3 1.3 0 1 0 -2.6 0 M277.9 125.52 a1.3 1.3 0 1 0 2.6 0 a1.3 1.3 0 1 0 -2.6 0 M278.45 128.07 a1.3 1.3 0 1 0 2.6 0 a1.3 1.3 0 1 0 -2.6 0 M279 132.43 a1.3 1.3 0 1 0 2.6 0 a1.3 1.3 0 1 0 -2.6 0 M279.55 129.66 a1.3 1.3 0 1 0 2.6 0 a1.3 1.3 0 1 0 -2.6 0 M280.1 129.7 a1.3 1.3 0 1 0 2.6 0 a1.3 1.3 0 1 0 -2.6 0 M280.65 130.81 a1.3 1.3 0 1 0 2.6 0 a1.3 1.3 0 1 0 -2.6 0 M281.2 129.62 a1.3 1.3 0 1 0 2.6 0 a1.3 1.3 0 1 0 -2.6 0 M281.75 133.46 a1.3 1.3 0 1 0 2.6 0 a1.3 1.3 0 1 0 -2.6 0 M282.3 131.15 a1.3 1.3 0 1 0 2.6 0 a1.3 1.3 0 1 0 -2.6 0 M282.85 134.89 a1.3 1.3 0 1 0 2.6 0 a1.3 1.3 0 1 0 -2.6 0 M283.4 128.22 a1.3 1.3 0 1 0 2.6 0 a1.3 1.3 0 1 0 -2.6 0 M283.95 134.39 a1.3 1.3 0 1 0 2.6 0 a1.3 1.3 0 1 0 -2.6 0 M284.5 131.65 a1.3 1.3 0 1 0 2.6 0 a1.3 1.3 0 1 0 -2.6 0 M285.05 128 a1.3 1.3 0 1 0 2.6 0 a1.3 1.3 0 1 0 -2.6 0 M285.6 133.77 a1.3 1.3 0 1 0 2.6 0 a1.3 1.3 0 1 0 -2.6 0 M286.15 130.63 a1.3 1.3 0 1 0 2.6 0 a1.3 1.3 0 1 0 -2.6 0 M286.7 125.11 a1.3 1.3 0 1 0 2.6 0 a1.3 1.3 0 1 0 -2.6 0 M287.25 127.46 a1.3 1.3 0 1 0 2.6 0 a1.3 1.3 0 1 0 -2.6 0 M287.8 129.28 a1.3 1.3 0 1 0 2.6 0 a1.3 1.3 0 1 0 -2.6 0 M288.35 126.47 a1.3 1.3 0 1 0 2.6 0 a1.3 1.3 0 1 0 -2.6 0 M288.9 128.4 a1.3 1.3 0 1 0 2.6 0 a1.3 1.3 0 1 0 -2.6 0 M289.45 127.3 a1.3 1.3 0 1 0 2.6 0 a1.3 1.3 0 1 0 -2.6 0 M290 126.12 a1.3 1.3 0 1 0 2.6 0 a1.3 1.3 0 1 0 -2.6 0 M290.55 124.41 a1.3 1.3 0 1 0 2.6 0 a1.3 1.3 0 1 0 -2.6 0 M291.1 126.04 a1.3 1.3 0 1 0 2.6 0 a1.3 1.3 0 1 0 -2.6 0 M291.65 123.77 a1.3 1.3 0 1 0 2.6 0 a1.3 1.3 0 1 0 -2.6 0 M292.2 122.8 a1.3 1.3 0 1 0 2.6 0 a1.3 1.3 0 1 0 -2.6 0 M292.75 118.5 a1.3 1.3 0 1 0 2.6 0 a1.3 1.3 0 1 0 -2.6 0 M293.3 123.48 a1.3 1.3 0 1 0 2.6 0 a1.3 1.3 0 1 0 -2.6 0 M293.85 124.57 a1.3 1.3 0 1 0 2.6 0 a1.3 1.3 0 1 0 -2.6 0 M294.4 120.99 a1.3 1.3 0 1 0 2.6 0 a1.3 1.3 0 1 0 -2.6 0 M294.95 121 a1.3 1.3 0 1 0 2.6 0 a1.3 1.3 0 1 0 -2.6 0 M295.5 127.34 a1.3 1.3 0 1 0 2.6 0 a1.3 1.3 0 1 0 -2.6 0 M296.05 119.09 a1.3 1.3 0 1 0 2.6 0 a1.3 1.3 0 1 0 -2.6 0 M296.6 125.1 a1.3 1.3 0 1 0 2.6 0 a1.3 1.3 0 1 0 -2.6 0 M297.15 130.44 a1.3 1.3 0 1 0 2.6 0 a1.3 1.3 0 1 0 -2.6 0 M297.7 122.99 a1.3 1.3 0 1 0 2.6 0 a1.3 1.3 0 1 0 -2.6 0 M298.25 127.36 a1.3 1.3 0 1 0 2.6 0 a1.3 1.3 0 1 0 -2.6 0 M298.8 130.58 a1.3 1.3 0 1 0 2.6 0 a1.3 1.3 0 1 0 -2.6 0 M299.35 125.97 a1.3 1.3 0 1 0 2.6 0 a1.3 1.3 0 1 0 -2.6 0 M299.9 127.66 a1.3 1.3 0 1 0 2.6 0 a1.3 1.3 0 1 0 -2.6 0 M300.45 128.39 a1.3 1.3 0 1 0 2.6 0 a1.3 1.3 0 1 0 -2.6 0 M301 123.85 a1.3 1.3 0 1 0 2.6 0 a1.3 1.3 0 1 0 -2.6 0 M301.55 125.55 a1.3 1.3 0 1 0 2.6 0 a1.3 1.3 0 1 0 -2.6 0 M302.1 126.19 a1.3 1.3 0 1 0 2.6 0 a1.3 1.3 0 1 0 -2.6 0 M302.65 127.22 a1.3 1.3 0 1 0 2.6 0 a1.3 1.3 0 1 0 -2.6 0 M303.2 125.01 a1.3 1.3 0 1 0 2.6 0 a1.3 1.3 0 1 0 -2.6 0 M303.75 124.61 a1.3 1.3 0 1 0 2.6 0 a1.3 1.3 0 1 0 -2.6 0 M304.3 122.8 a1.3 1.3 0 1 0 2.6 0 a1.3 1.3 0 1 0 -2.6 0 M304.85 124.71 a1.3 1.3 0 1 0 2.6 0 a1.3 1.3 0 1 0 -2.6 0 M305.4 128.23 a1.3 1.3 0 1 0 2.6 0 a1.3 1.3 0 1 0 -2.6 0 M305.95 127.01 a1.3 1.3 0 1 0 2.6 0 a1.3 1.3 0 1 0 -2.6 0 M306.5 125.52 a1.3 1.3 0 1 0 2.6 0 a1.3 1.3 0 1 0 -2.6 0 M307.05 126.44 a1.3 1.3 0 1 0 2.6 0 a1.3 1.3 0 1 0 -2.6 0 M307.6 135.79 a1.3 1.3 0 1 0 2.6 0 a1.3 1.3 0 1 0 -2.6 0 M308.15 133.05 a1.3 1.3 0 1 0 2.6 0 a1.3 1.3 0 1 0 -2.6 0 M308.7 132.73 a1.3 1.3 0 1 0 2.6 0 a1.3 1.3 0 1 0 -2.6 0 M309.25 125.79 a1.3 1.3 0 1 0 2.6 0 a1.3 1.3 0 1 0 -2.6 0 M309.8 134.23 a1.3 1.3 0 1 0 2.6 0 a1.3 1.3 0 1 0 -2.6 0 M310.35 134.51 a1.3 1.3 0 1 0 2.6 0 a1.3 1.3 0 1 0 -2.6 0 M310.9 137.9 a1.3 1.3 0 1 0 2.6 0 a1.3 1.3 0 1 0 -2.6 0 M311.45 135.29 a1.3 1.3 0 1 0 2.6 0 a1.3 1.3 0 1 0 -2.6 0 M312 134.42 a1.3 1.3 0 1 0 2.6 0 a1.3 1.3 0 1 0 -2.6 0 M312.55 136.06 a1.3 1.3 0 1 0 2.6 0 a1.3 1.3 0 1 0 -2.6 0 M313.1 130.3 a1.3 1.3 0 1 0 2.6 0 a1.3 1.3 0 1 0 -2.6 0 M313.65 137.55 a1.3 1.3 0 1 0 2.6 0 a1.3 1.3 0 1 0 -2.6 0 M314.2 135.9 a1.3 1.3 0 1 0 2.6 0 a1.3 1.3 0 1 0 -2.6 0 M314.75 133.44 a1.3 1.3 0 1 0 2.6 0 a1.3 1.3 0 1 0 -2.6 0 M315.3 138.27 a1.3 1.3 0 1 0 2.6 0 a1.3 1.3 0 1 0 -2.6 0 M315.85 139.35 a1.3 1.3 0 1 0 2.6 0 a1.3 1.3 0 1 0 -2.6 0 M316.4 131.52 a1.3 1.3 0 1 0 2.6 0 a1.3 1.3 0 1 0 -2.6 0 M316.95 133.12 a1.3 1.3 0 1 0 2.6 0 a1.3 1.3 0 1 0 -2.6 0 M317.5 135.18 a1.3 1.3 0 1 0 2.6 0 a1.3 1.3 0 1 0 -2.6 0 M318.05 134.6 a1.3 1.3 0 1 0 2.6 0 a1.3 1.3 0 1 0 -2.6 0 M318.6 132.79 a1.3 1.3 0 1 0 2.6 0 a1.3 1.3 0 1 0 -2.6 0 M319.15 130.88 a1.3 1.3 0 1 0 2.6 0 a1.3 1.3 0 1 0 -2.6 0 M319.7 137.64 a1.3 1.3 0 1 0 2.6 0 a1.3 1.3 0 1 0 -2.6 0 M320.25 134.2 a1.3 1.3 0 1 0 2.6 0 a1.3 1.3 0 1 0 -2.6 0 M320.8 127.8 a1.3 1.3 0 1 0 2.6 0 a1.3 1.3 0 1 0 -2.6 0 M321.35 126.17 a1.3 1.3 0 1 0 2.6 0 a1.3 1.3 0 1 0 -2.6 0 M321.9 131.94 a1.3 1.3 0 1 0 2.6 0 a1.3 1.3 0 1 0 -2.6 0 M322.45 128.38 a1.3 1.3 0 1 0 2.6 0 a1.3 1.3 0 1 0 -2.6 0 M323 128.2 a1.3 1.3 0 1 0 2.6 0 a1.3 1.3 0 1 0 -2.6 0 M323.55 123.23 a1.3 1.3 0 1 0 2.6 0 a1.3 1.3 0 1 0 -2.6 0 M324.1 116.27 a1.3 1.3 0 1 0 2.6 0 a1.3 1.3 0 1 0 -2.6 0 M324.65 115.65 a1.3 1.3 0 1 0 2.6 0 a1.3 1.3 0 1 0 -2.6 0 M325.2 106.1 a1.3 1.3 0 1 0 2.6 0 a1.3 1.3 0 1 0 -2.6 0 M325.75 105.34 a1.3 1.3 0 1 0 2.6 0 a1.3 1.3 0 1 0 -2.6 0 M326.3 102.47 a1.3 1.3 0 1 0 2.6 0 a1.3 1.3 0 1 0 -2.6 0 M326.85 98.98 a1.3 1.3 0 1 0 2.6 0 a1.3 1.3 0 1 0 -2.6 0 M327.4 90.81 a1.3 1.3 0 1 0 2.6 0 a1.3 1.3 0 1 0 -2.6 0 M327.95 86.86 a1.3 1.3 0 1 0 2.6 0 a1.3 1.3 0 1 0 -2.6 0 M328.5 82.73 a1.3 1.3 0 1 0 2.6 0 a1.3 1.3 0 1 0 -2.6 0 M329.05 76.96 a1.3 1.3 0 1 0 2.6 0 a1.3 1.3 0 1 0 -2.6 0 M329.6 72.08 a1.3 1.3 0 1 0 2.6 0 a1.3 1.3 0 1 0 -2.6 0 M330.15 65.75 a1.3 1.3 0 1 0 2.6 0 a1.3 1.3 0 1 0 -2.6 0 M330.7 59.49 a1.3 1.3 0 1 0 2.6 0 a1.3 1.3 0 1 0 -2.6 0 M331.25 57.62 a1.3 1.3 0 1 0 2.6 0 a1.3 1.3 0 1 0 -2.6 0 M331.8 51.87 a1.3 1.3 0 1 0 2.6 0 a1.3 1.3 0 1 0 -2.6 0 M332.35 46.48 a1.3 1.3 0 1 0 2.6 0 a1.3 1.3 0 1 0 -2.6 0 M332.9 44.43 a1.3 1.3 0 1 0 2.6 0 a1.3 1.3 0 1 0 -2.6 0 M333.45 44.25 a1.3 1.3 0 1 0 2.6 0 a1.3 1.3 0 1 0 -2.6 0 M334 43.2 a1.3 1.3 0 1 0 2.6 0 a1.3 1.3 0 1 0 -2.6 0 M334.55 43.96 a1.3 1.3 0 1 0 2.6 0 a1.3 1.3 0 1 0 -2.6 0 M335.1 44.62 a1.3 1.3 0 1 0 2.6 0 a1.3 1.3 0 1 0 -2.6 0 M335.65 46.96 a1.3 1.3 0 1 0 2.6 0 a1.3 1.3 0 1 0 -2.6 0 M336.2 48.96 a1.3 1.3 0 1 0 2.6 0 a1.3 1.3 0 1 0 -2.6 0 M336.75 49.76 a1.3 1.3 0 1 0 2.6 0 a1.3 1.3 0 1 0 -2.6 0 M337.3 57.92 a1.3 1.3 0 1 0 2.6 0 a1.3 1.3 0 1 0 -2.6 0 M337.85 64.11 a1.3 1.3 0 1 0 2.6 0 a1.3 1.3 0 1 0 -2.6 0 M338.4 67.71 a1.3 1.3 0 1 0 2.6 0 a1.3 1.3 0 1 0 -2.6 0 M338.95 71.58 a1.3 1.3 0 1 0 2.6 0 a1.3 1.3 0 1 0 -2.6 0 M339.5 78.64 a1.3 1.3 0 1 0 2.6 0 a1.3 1.3 0 1 0 -2.6 0 M340.05 80.83 a1.3 1.3 0 1 0 2.6 0 a1.3 1.3 0 1 0 -2.6 0 M340.6 84.1 a1.3 1.3 0 1 0 2.6 0 a1.3 1.3 0 1 0 -2.6 0 M341.15 94.14 a1.3 1.3 0 1 0 2.6 0 a1.3 1.3 0 1 0 -2.6 0 M341.7 96.86 a1.3 1.3 0 1 0 2.6 0 a1.3 1.3 0 1 0 -2.6 0 M342.25 105.65 a1.3 1.3 0 1 0 2.6 0 a1.3 1.3 0 1 0 -2.6 0 M342.8 105.7 a1.3 1.3 0 1 0 2.6 0 a1.3 1.3 0 1 0 -2.6 0 M343.35 106.04 a1.3 1.3 0 1 0 2.6 0 a1.3 1.3 0 1 0 -2.6 0 M343.9 113.48 a1.3 1.3 0 1 0 2.6 0 a1.3 1.3 0 1 0 -2.6 0 M344.45 122.98 a1.3 1.3 0 1 0 2.6 0 a1.3 1.3 0 1 0 -2.6 0 M345 121.1 a1.3 1.3 0 1 0 2.6 0 a1.3 1.3 0 1 0 -2.6 0 M345.55 121.17 a1.3 1.3 0 1 0 2.6 0 a1.3 1.3 0 1 0 -2.6 0 M346.1 124.71 a1.3 1.3 0 1 0 2.6 0 a1.3 1.3 0 1 0 -2.6 0 M346.65 129.55 a1.3 1.3 0 1 0 2.6 0 a1.3 1.3 0 1 0 -2.6 0 M347.2 130.96 a1.3 1.3 0 1 0 2.6 0 a1.3 1.3 0 1 0 -2.6 0 M347.75 131.4 a1.3 1.3 0 1 0 2.6 0 a1.3 1.3 0 1 0 -2.6 0 M348.3 135.52 a1.3 1.3 0 1 0 2.6 0 a1.3 1.3 0 1 0 -2.6 0 M348.85 134.45 a1.3 1.3 0 1 0 2.6 0 a1.3 1.3 0 1 0 -2.6 0 M349.4 133.33 a1.3 1.3 0 1 0 2.6 0 a1.3 1.3 0 1 0 -2.6 0 M349.95 135.31 a1.3 1.3 0 1 0 2.6 0 a1.3 1.3 0 1 0 -2.6 0 M350.5 138.23 a1.3 1.3 0 1 0 2.6 0 a1.3 1.3 0 1 0 -2.6 0 M351.05 136.89 a1.3 1.3 0 1 0 2.6 0 a1.3 1.3 0 1 0 -2.6 0 M351.6 137.24 a1.3 1.3 0 1 0 2.6 0 a1.3 1.3 0 1 0 -2.6 0 M352.15 132.35 a1.3 1.3 0 1 0 2.6 0 a1.3 1.3 0 1 0 -2.6 0 M352.7 134.72 a1.3 1.3 0 1 0 2.6 0 a1.3 1.3 0 1 0 -2.6 0 M353.25 136.92 a1.3 1.3 0 1 0 2.6 0 a1.3 1.3 0 1 0 -2.6 0 M353.8 134.53 a1.3 1.3 0 1 0 2.6 0 a1.3 1.3 0 1 0 -2.6 0 M354.35 137.85 a1.3 1.3 0 1 0 2.6 0 a1.3 1.3 0 1 0 -2.6 0 M354.9 136.75 a1.3 1.3 0 1 0 2.6 0 a1.3 1.3 0 1 0 -2.6 0 M355.45 137.53 a1.3 1.3 0 1 0 2.6 0 a1.3 1.3 0 1 0 -2.6 0 M356 134.85 a1.3 1.3 0 1 0 2.6 0 a1.3 1.3 0 1 0 -2.6 0 M356.55 141.49 a1.3 1.3 0 1 0 2.6 0 a1.3 1.3 0 1 0 -2.6 0 M357.1 138.36 a1.3 1.3 0 1 0 2.6 0 a1.3 1.3 0 1 0 -2.6 0 M357.65 134.87 a1.3 1.3 0 1 0 2.6 0 a1.3 1.3 0 1 0 -2.6 0 M358.2 135.61 a1.3 1.3 0 1 0 2.6 0 a1.3 1.3 0 1 0 -2.6 0 M358.75 141.62 a1.3 1.3 0 1 0 2.6 0 a1.3 1.3 0 1 0 -2.6 0 M359.3 134.57 a1.3 1.3 0 1 0 2.6 0 a1.3 1.3 0 1 0 -2.6 0 M359.85 137.5 a1.3 1.3 0 1 0 2.6 0 a1.3 1.3 0 1 0 -2.6 0 M360.4 137.75 a1.3 1.3 0 1 0 2.6 0 a1.3 1.3 0 1 0 -2.6 0 M360.95 135.42 a1.3 1.3 0 1 0 2.6 0 a1.3 1.3 0 1 0 -2.6 0 M361.5 132.6 a1.3 1.3 0 1 0 2.6 0 a1.3 1.3 0 1 0 -2.6 0 M362.05 135.85 a1.3 1.3 0 1 0 2.6 0 a1.3 1.3 0 1 0 -2.6 0 M362.6 136.26 a1.3 1.3 0 1 0 2.6 0 a1.3 1.3 0 1 0 -2.6 0 M363.15 138.11 a1.3 1.3 0 1 0 2.6 0 a1.3 1.3 0 1 0 -2.6 0 M363.7 137.28 a1.3 1.3 0 1 0 2.6 0 a1.3 1.3 0 1 0 -2.6 0 M364.25 135.46 a1.3 1.3 0 1 0 2.6 0 a1.3 1.3 0 1 0 -2.6 0 M334.7 26.5 a1.3 1.3 0 1 0 2.6 0 a1.3 1.3 0 1 0 -2.6 0 M335 29 a1.3 1.3 0 1 0 2.6 0 a1.3 1.3 0 1 0 -2.6 0 M334.2 33.3 a1.3 1.3 0 1 0 2.6 0 a1.3 1.3 0 1 0 -2.6 0 M336 33.3 a1.3 1.3 0 1 0 2.6 0 a1.3 1.3 0 1 0 -2.6 0 M334 41.2 a1.3 1.3 0 1 0 2.6 0 a1.3 1.3 0 1 0 -2.6 0 M335.9 41.5 a1.3 1.3 0 1 0 2.6 0 a1.3 1.3 0 1 0 -2.6 0 M332.3 47 a1.3 1.3 0 1 0 2.6 0 a1.3 1.3 0 1 0 -2.6 0 M337.3 49 a1.3 1.3 0 1 0 2.6 0 a1.3 1.3 0 1 0 -2.6 0 M331.6 54 a1.3 1.3 0 1 0 2.6 0 a1.3 1.3 0 1 0 -2.6 0 M338 57 a1.3 1.3 0 1 0 2.6 0 a1.3 1.3 0 1 0 -2.6 0 " fill="none" stroke="#2a3ee6" stroke-width="0.95"/>
<text x="216.9" y="120.2" font-size="10" fill="#3c3c3c" font-weight="normal" textLength="12.49" lengthAdjust="spacingAndGlyphs" stroke="#3c3c3c" stroke-width="0.25">sat</text>
<text x="290.8" y="116.2" font-size="10" fill="#3c3c3c" font-weight="normal" textLength="12.59" lengthAdjust="spacingAndGlyphs" stroke="#3c3c3c" stroke-width="0.25">sat</text>
<text x="245.6" y="81.5" font-size="10.5" fill="#333" font-weight="normal" textLength="24.39" lengthAdjust="spacingAndGlyphs" stroke="#333" stroke-width="0.25">Cu 2p</text>
<text x="270.5" y="85" font-size="8" fill="#333" font-weight="normal" textLength="9.5" lengthAdjust="spacingAndGlyphs" stroke="#333" stroke-width="0.25">1/2</text>
<text x="297.8" y="33.9" font-size="10.5" fill="#333" font-weight="normal" textLength="22.39" lengthAdjust="spacingAndGlyphs" stroke="#333" stroke-width="0.25">Cu 2p</text>
<text x="320.9" y="36.3" font-size="8.6" fill="#333" font-weight="normal" textLength="12.1" lengthAdjust="spacingAndGlyphs" stroke="#333" stroke-width="0.25">2/3</text>
<rect x="386.6" y="9.6" width="152.4" height="134.7" fill="none" stroke="#7c7c7c" stroke-width="1.1"/>
<path d="M398.8 144.3 L398.8 140.9 M411.95 144.3 L411.95 140.9 M425.11 144.3 L425.11 140.9 M438.26 144.3 L438.26 140.9 M451.42 144.3 L451.42 140.9 M464.57 144.3 L464.57 140.9 M477.73 144.3 L477.73 140.9 M490.88 144.3 L490.88 140.9 M504.04 144.3 L504.04 140.9 M517.2 144.3 L517.2 140.9 M530.35 144.3 L530.35 140.9 " stroke="#555" stroke-width="0.9" fill="none"/>
<text x="389.36" y="157.4" font-size="11.3" fill="#262626" font-weight="normal" textLength="18.85" lengthAdjust="spacingAndGlyphs" stroke="#262626" stroke-width="0.25">732</text>
<text x="415.67" y="157.4" font-size="11.3" fill="#262626" font-weight="normal" textLength="18.85" lengthAdjust="spacingAndGlyphs" stroke="#262626" stroke-width="0.25">726</text>
<text x="441.98" y="157.4" font-size="11.3" fill="#262626" font-weight="normal" textLength="18.85" lengthAdjust="spacingAndGlyphs" stroke="#262626" stroke-width="0.25">720</text>
<text x="468.29" y="157.4" font-size="11.3" fill="#262626" font-weight="normal" textLength="18.85" lengthAdjust="spacingAndGlyphs" stroke="#262626" stroke-width="0.25">714</text>
<text x="494.6" y="157.4" font-size="11.3" fill="#262626" font-weight="normal" textLength="18.85" lengthAdjust="spacingAndGlyphs" stroke="#262626" stroke-width="0.25">708</text>
<text x="520.91" y="157.4" font-size="11.3" fill="#262626" font-weight="normal" textLength="18.85" lengthAdjust="spacingAndGlyphs" stroke="#262626" stroke-width="0.25">702</text>
<text x="410.9" y="174.6" font-size="10.8" fill="#262626" font-weight="normal" textLength="103.69" lengthAdjust="spacingAndGlyphs" stroke="#262626" stroke-width="0.25">Binding energy (eV)</text>
<text transform="translate(380.1 114.9) rotate(-90)" x="0" y="0" font-size="10.2" fill="#262626" font-weight="normal" textLength="70.28" lengthAdjust="spacingAndGlyphs" stroke="#262626" stroke-width="0.25">Intensity (a.u)</text>
<text x="389.1" y="21.7" font-size="10.8" fill="#262626" font-weight="normal" textLength="13.51" lengthAdjust="spacingAndGlyphs" stroke="#262626" stroke-width="0.35">(c)</text>
<text x="507.6" y="20.8" font-size="11.3" fill="#151515" font-weight="normal" textLength="29.12" lengthAdjust="spacingAndGlyphs" stroke="#151515" stroke-width="0.35">Fe 2p</text>
<path d="M387 143.79 L387.25 143.75 L387.5 143.72 L387.75 143.68 L388 143.65 L388.25 143.61 L388.5 143.58 L388.75 143.53 L389 143.49 L389.25 143.44 L389.5 143.39 L389.75 143.34 L390 143.3 L390.25 143.24 L390.5 143.18 L390.75 143.12 L391 143.06 L391.25 143.01 L391.5 142.95 L391.75 142.89 L392 142.83 L392.25 142.77 L392.5 142.71 L392.75 142.65 L393 142.6 L393.25 142.54 L393.5 142.48 L393.75 142.41 L394 142.35 L394.25 142.28 L394.5 142.22 L394.75 142.15 L395 142.09 L395.25 142.01 L395.5 141.94 L395.75 141.87 L396 141.8 L396.25 141.73 L396.5 141.66 L396.75 141.58 L397 141.5 L397.25 141.43 L397.5 141.35 L397.75 141.27 L398 141.19 L398.25 141.11 L398.5 141.03 L398.75 140.94 L399 140.86 L399.25 140.78 L399.5 140.69 L399.75 140.6 L400 140.51 L400.25 140.43 L400.5 140.33 L400.75 140.22 L401 140.11 L401.25 140 L401.5 139.9 L401.75 139.79 L402 139.67 L402.25 139.55 L402.5 139.42 L402.75 139.29 L403 139.17 L403.25 139.04 L403.5 138.91 L403.75 138.76 L404 138.61 L404.25 138.47 L404.5 138.32 L404.75 138.18 L405 138.03 L405.25 137.86 L405.5 137.7 L405.75 137.53 L406 137.37 L406.25 137.2 L406.5 137.03 L406.75 136.85 L407 136.67 L407.25 136.48 L407.5 136.3 L407.75 136.12 L408 135.94 L408.25 135.75 L408.5 135.57 L408.75 135.39 L409 135.21 L409.25 135.02 L409.5 134.84 L409.75 134.63 L410 134.34 L410.25 134.04 L410.5 133.75 L410.75 133.46 L411 133.16 L411.25 132.84 L411.5 132.44 L411.75 132.03 L412 131.62 L412.25 131.22 L412.5 130.81 L412.75 130.38 L413 129.86 L413.25 129.34 L413.5 128.87 L413.75 128.41 L414 127.95 L414.25 127.47 L414.5 126.9 L414.75 126.33 L415 125.8 L415.25 125.29 L415.5 124.78 L415.75 124.25 L416 123.62 L416.25 123 L416.5 122.42 L416.75 121.86 L417 121.29 L417.25 120.73 L417.5 120.16 L417.75 119.6 L418 119.08 L418.25 118.58 L418.5 118.09 L418.75 117.61 L419 117.13 L419.25 116.64 L419.5 116.21 L419.75 115.78 L420 115.38 L420.25 114.97 L420.5 114.57 L420.75 114.17 L421 113.77 L421.25 113.37 L421.5 112.98 L421.75 112.6 L422 112.22 L422.25 111.82 L422.5 111.43 L422.75 111.03 L423 110.65 L423.25 110.28 L423.5 109.9 L423.75 109.51 L424 109.12 L424.25 108.73 L424.5 108.36 L424.75 107.99 L425 107.62 L425.25 107.24 L425.5 106.86 L425.75 106.47 L426 106.18 L426.25 105.92 L426.5 105.66 L426.75 105.38 L427 105.1 L427.25 104.82 L427.5 104.64 L427.75 104.48 L428 104.32 L428.25 104.15 L428.5 103.97 L428.75 103.8 L429 103.72 L429.25 103.67 L429.5 103.61 L429.75 103.56 L430 103.5 L430.25 103.45 L430.5 103.49 L430.75 103.56 L431 103.61 L431.25 103.66 L431.5 103.7 L431.75 103.74 L432 103.88 L432.25 104.04 L432.5 104.19 L432.75 104.33 L433 104.47 L433.25 104.61 L433.5 104.74 L433.75 104.88 L434 105.01 L434.25 105.12 L434.5 105.24 L434.75 105.35 L435 105.46 L435.25 105.58 L435.5 105.68 L435.75 105.77 L436 105.87 L436.25 105.98 L436.5 106.09 L436.75 106.21 L437 106.31 L437.25 106.4 L437.5 106.5 L437.75 106.61 L438 106.73 L438.25 106.84 L438.5 106.95 L438.75 107.06 L439 107.19 L439.25 107.32 L439.5 107.46 L439.75 107.6 L440 107.73 L440.25 107.87 L440.5 108.02 L440.75 108.18 L441 108.34 L441.25 108.48 L441.5 108.63 L441.75 108.78 L442 108.94 L442.25 109.11 L442.5 109.28 L442.75 109.44 L443 109.6 L443.25 109.77 L443.5 109.93 L443.75 110.09 L444 110.24 L444.25 110.39 L444.5 110.54 L444.75 110.67 L445 110.72 L445.25 110.77 L445.5 110.82 L445.75 110.86 L446 110.89 L446.25 110.91 L446.5 110.85 L446.75 110.79 L447 110.73 L447.25 110.65 L447.5 110.58 L447.75 110.49 L448 110.32 L448.25 110.15 L448.5 109.98 L448.75 109.84 L449 109.71 L449.25 109.55 L449.5 109.32 L449.75 109.08 L450 108.85 L450.25 108.65 L450.5 108.45 L450.75 108.23 L451 107.94 L451.25 107.64 L451.5 107.34 L451.75 107.08 L452 106.82 L452.25 106.56 L452.5 106.3 L452.75 106.04 L453 105.77 L453.25 105.55 L453.5 105.32 L453.75 105.1 L454 104.87 L454.25 104.65 L454.5 104.42 L454.75 104.23 L455 104.04 L455.25 103.85 L455.5 103.66 L455.75 103.47 L456 103.28 L456.25 103.09 L456.5 102.9 L456.75 102.71 L457 102.52 L457.25 102.33 L457.5 102.14 L457.75 101.95 L458 101.76 L458.25 101.57 L458.5 101.38 L458.75 101.13 L459 100.88 L459.25 100.62 L459.5 100.37 L459.75 100.12 L460 99.87 L460.25 99.55 L460.5 99.24 L460.75 98.93 L461 98.61 L461.25 98.3 L461.5 97.98 L461.75 97.61 L462 97.23 L462.25 96.86 L462.5 96.51 L462.75 96.17 L463 95.83 L463.25 95.43 L463.5 95.03 L463.75 94.63 L464 94.26 L464.25 93.9 L464.5 93.54 L464.75 93.12 L465 92.69 L465.25 92.27 L465.5 91.88 L465.75 91.49 L466 91.1 L466.25 90.72 L466.5 90.33 L466.75 89.95 L467 89.59 L467.25 89.24 L467.5 88.84 L467.75 88.42 L468 88.01 L468.25 87.59 L468.5 87.2 L468.75 86.82 L469 86.39 L469.25 85.94 L469.5 85.5 L469.75 85.05 L470 84.6 L470.25 84.15 L470.5 83.65 L470.75 83.14 L471 82.62 L471.25 82.1 L471.5 81.59 L471.75 81.07 L472 80.5 L472.25 79.92 L472.5 79.33 L472.75 78.75 L473 78.16 L473.25 77.58 L473.5 76.94 L473.75 76.29 L474 75.63 L474.25 74.98 L474.5 74.32 L474.75 73.67 L475 73.02 L475.25 72.36 L475.5 71.71 L475.75 71.05 L476 70.4 L476.25 69.75 L476.5 69.09 L476.75 68.44 L477 67.79 L477.25 67.14 L477.5 66.48 L477.75 65.83 L478 65.18 L478.25 64.53 L478.5 63.88 L478.75 63.23 L479 62.58 L479.25 61.93 L479.5 61.28 L479.75 60.66 L480 60.16 L480.25 59.66 L480.5 59.16 L480.75 58.66 L481 58.17 L481.25 57.7 L481.5 57.35 L481.75 57 L482 56.65 L482.25 56.31 L482.5 55.96 L482.75 55.64 L483 55.45 L483.25 55.25 L483.5 55.07 L483.75 54.92 L484 54.76 L484.25 54.64 L484.5 54.63 L484.75 54.63 L485 54.64 L485.25 54.67 L485.5 54.71 L485.75 54.78 L486 54.96 L486.25 55.15 L486.5 55.35 L486.75 55.58 L487 55.81 L487.25 56.1 L487.5 56.4 L487.75 56.69 L488 57.01 L488.25 57.34 L488.5 57.68 L488.75 58.09 L489 58.49 L489.25 58.9 L489.5 59.32 L489.75 60.05 L490 60.78 L490.25 61.58 L490.5 62.37 L490.75 63.17 L491 63.97 L491.25 65 L491.5 65.87 L491.75 66.81 L492 67.75 L492.25 68.69 L492.5 69.63 L492.75 70.81 L493 71.82 L493.25 72.9 L493.5 73.99 L493.75 75.07 L494 76.15 L494.25 77.47 L494.5 78.63 L494.75 79.78 L495 80.94 L495.25 82.09 L495.5 83.21 L495.75 84.52 L496 85.66 L496.25 86.8 L496.5 87.94 L496.75 89.08 L497 90.19 L497.25 91.2 L497.5 92.04 L497.75 92.89 L498 93.73 L498.25 94.57 L498.5 95.38 L498.75 96.13 L499 96.89 L499.25 97.64 L499.5 98.4 L499.75 99.15 L500 99.87 L500.25 100.53 L500.5 101.19 L500.75 101.81 L501 102.43 L501.25 103.04 L501.5 103.62 L501.75 104.15 L502 104.68 L502.25 105.15 L502.5 105.63 L502.75 106.11 L503 106.59 L503.25 107.07 L503.5 107.55 L503.75 107.98 L504 108.41 L504.25 108.85 L504.5 109.28 L504.75 109.71 L505 110.14 L505.25 110.53 L505.5 110.91 L505.75 111.3 L506 111.68 L506.25 112.07 L506.5 112.45 L506.75 112.79 L507 113.12 L507.25 113.46 L507.5 113.8 L507.75 114.14 L508 114.47 L508.25 114.81 L508.5 115.15 L508.75 115.49 L509 115.83 L509.25 116.17 L509.5 116.5 L509.75 116.84 L510 117.18 L510.25 117.52 L510.5 117.86 L510.75 118.2 L511 118.54 L511.25 118.88 L511.5 119.22 L511.75 119.56 L512 119.9 L512.25 120.24 L512.5 120.58 L512.75 120.92 L513 121.26 L513.25 121.6 L513.5 121.94 L513.75 122.29 L514 122.63 L514.25 122.99 L514.5 123.34 L514.75 123.7 L515 124.05 L515.25 124.41 L515.5 124.77 L515.75 125.14 L516 125.51 L516.25 125.88 L516.5 126.25 L516.75 126.62 L517 126.99 L517.25 127.37 L517.5 127.75 L517.75 128.14 L518 128.52 L518.25 128.85 L518.5 129.19 L518.75 129.54 L519 129.89 L519.25 130.23 L519.5 130.58 L519.75 130.88 L520 131.18 L520.25 131.5 L520.5 131.81 L520.75 132.12 L521 132.43 L521.25 132.7 L521.5 132.96 L521.75 133.23 L522 133.49 L522.25 133.75 L522.5 134.02 L522.75 134.23 L523 134.45 L523.25 134.67 L523.5 134.88 L523.75 135.1 L524 135.31 L524.25 135.48 L524.5 135.65 L524.75 135.82 L525 135.98 L525.25 136.15 L525.5 136.32 L525.75 136.49 L526 136.66 L526.25 136.83 L526.5 136.99 L526.75 137.16 L527 137.33 L527.25 137.5 L527.5 137.67 L527.75 137.84 L528 138.01 L528.25 138.18 L528.5 138.35 L528.75 138.52 L529 138.69 L529.25 138.86 L529.5 139.03 L529.75 139.2 L530 139.37 L530.25 139.54 L530.5 139.72 L530.75 139.89 L531 140.06 L531.25 140.23 L531.5 140.4 L531.75 140.57 L532 140.75 L532.25 140.92 L532.5 141.09 L532.75 141.27 L533 141.44 L533.25 141.61 L533.5 141.78 L533.75 141.96 L534 142.13 L534.25 142.29 L534.5 142.44 L534.75 142.6 L535 142.76 L535.25 142.92 L535.5 143.08 L535.75 143.22 L536 143.36 L536.25 143.49 L536.5 143.61 L536.75 143.73 L537 143.86 L537.25 143.97 L537.5 144.08 L537.75 144.17 L538 144.25 L538.25 144.34" fill="none" stroke="#33bb55" stroke-width="1" stroke-linejoin="round" />
<path d="M445 114.37 L445.25 114.72 L445.5 115.07 L445.75 115.43 L446 115.78 L446.25 116.14 L446.5 116.5 L446.75 116.86 L447 117.21 L447.25 117.57 L447.5 117.93 L447.75 118.28 L448 118.64 L448.25 119 L448.5 119.35 L448.75 119.71 L449 120.06 L449.25 120.42 L449.5 120.77 L449.75 121.12 L450 121.47 L450.25 121.82 L450.5 122.16 L450.75 122.51 L451 122.85 L451.25 123.19 L451.5 123.53 L451.75 123.87 L452 124.21 L452.25 124.54 L452.5 124.87 L452.75 125.2 L453 125.53 L453.25 125.85 L453.5 126.18 L453.75 126.5 L454 126.81 L454.25 127.13 L454.5 127.44 L454.75 127.74 L455 128.05 L455.25 128.35 L455.5 128.65 L455.75 128.95 L456 129.24 L456.25 129.53 L456.5 129.82 L456.75 130.1 L457 130.38 L457.25 130.66 L457.5 130.93 L457.75 131.2 L458 131.47 L458.25 131.73 L458.5 131.99 L458.75 132.25 L459 132.5 L459.25 132.75 L459.5 132.99 L459.75 133.24 L460 133.47 L460.25 133.71 L460.5 133.94 L460.75 134.17 L461 134.39 L461.25 134.61 L461.5 134.83 L461.75 135.05 L462 135.26 L462.25 135.46 L462.5 135.67 L462.75 135.86 L463 136.06 L463.25 136.25 L463.5 136.44 L463.75 136.63 L464 136.81 L464.25 136.99 L464.5 137.17 L464.75 137.34 L465 137.51 L465.25 137.67 L465.5 137.84 L465.75 137.99 L466 138.15 L466.25 138.3 L466.5 138.45 L466.75 138.6 L467 138.74 L467.25 138.88 L467.5 139.02 L467.75 139.15 L468 139.29 L468.25 139.41 L468.5 139.54 L468.75 139.66 L469 139.78 L469.25 139.9 L469.5 140.01 L469.75 140.13 L470 140.24 L470.25 140.34 L470.5 140.45 L470.75 140.55 L471 140.65 L471.25 140.74 L471.5 140.84 L471.75 140.93 L472 141.02 L472.25 141.1 L472.5 141.19 L472.75 141.27 L473 141.35 L473.25 141.43 L473.5 141.51 L473.75 141.58 L474 141.65 L474.25 141.72 L474.5 141.79 L474.75 141.86 L475 141.92 L475.25 141.99 L475.5 142.05 L475.75 142.11 L476 142.16 L476.25 142.22 L476.5 142.27 L476.75 142.33 L477 142.38 L477.25 142.43 L477.5 142.47 L477.75 142.52 L478 142.57 L478.25 142.61 L478.5 142.65 L478.75 142.69 L479 142.73 L479.25 142.77 L479.5 142.81 L479.75 142.85 L480 142.88 L480.25 142.92 L480.5 142.95 L480.75 142.98 L481 143.01 L481.25 143.04 L481.5 143.07 L481.75 143.1 L482 143.12 L482.25 143.15 L482.5 143.17 L482.75 143.2 L483 143.22 L483.25 143.24 L483.5 143.27 L483.75 143.29 L484 143.31 L484.25 143.33 L484.5 143.35 L484.75 143.36 L485 143.38 L485.25 143.4 L485.5 143.42 L485.75 143.43 L486 143.45 L486.25 143.46 L486.5 143.47 L486.75 143.49 L487 143.5 L487.25 143.51 L487.5 143.53 L487.75 143.54 L488 143.55 L488.25 143.56 L488.5 143.57 L488.75 143.58 L489 143.59 L489.25 143.6 L489.5 143.61 L489.75 143.62 L490 143.62 L490.25 143.63 L490.5 143.64 L490.75 143.65 L491 143.65 L491.25 143.66 L491.5 143.67 L491.75 143.67 L492 143.68 L492.25 143.68 L492.5 143.69 L492.75 143.69 L493 143.7 L493.25 143.7 L493.5 143.71 L493.75 143.71 L494 143.72 L494.25 143.72 L494.5 143.72 L494.75 143.73 L495 143.73 L495.25 143.73 L495.5 143.74 L495.75 143.74 L496 143.74 L496.25 143.75 L496.5 143.75 L496.75 143.75 L497 143.75 L497.25 143.76 L497.5 143.76 L497.75 143.76 L498 143.76 L498.25 143.76 L498.5 143.77 L498.75 143.77 L499 143.77 L499.25 143.77 L499.5 143.77 L499.75 143.77 L500 143.77 L500.25 143.78 L500.5 143.78 L500.75 143.78 L501 143.78 L501.25 143.78 L501.5 143.78 L501.75 143.78 L502 143.78 L502.25 143.78 L502.5 143.79 L502.75 143.79 L503 143.79 L503.25 143.79 L503.5 143.79 L503.75 143.79 L504 143.79 L504.25 143.79 L504.5 143.79 L504.75 143.79 L505 143.79 L505.25 143.79 L505.5 143.79 L505.75 143.79 L506 143.79 L506.25 143.79 L506.5 143.79 L506.75 143.79 L507 143.79 L507.25 143.79 L507.5 143.8 L507.75 143.8 L508 143.8 L508.25 143.8 L508.5 143.8 L508.75 143.8 L509 143.8 L509.25 143.8 L509.5 143.8 L509.75 143.8 L510 143.8 L510.25 143.8 L510.5 143.8 L510.75 143.8 L511 143.8 L511.25 143.8 L511.5 143.8 L511.75 143.8 L512 143.8 L512.25 143.8 L512.5 143.8 L512.75 143.8 L513 143.8 L513.25 143.8 L513.5 143.8 L513.75 143.8 L514 143.8 L514.25 143.8 L514.5 143.8 L514.75 143.8 L515 143.8 L515.25 143.8 L515.5 143.8 L515.75 143.8 L516 143.8 L516.25 143.8 L516.5 143.8 L516.75 143.8 L517 143.8 L517.25 143.8 L517.5 143.8 L517.75 143.8 L518 143.8 L518.25 143.8 L518.5 143.8 L518.75 143.8 L519 143.8 L519.25 143.8 L519.5 143.8 L519.75 143.8 L520 143.8 L520.25 143.8 L520.5 143.8 L520.75 143.8 L521 143.8 L521.25 143.8 L521.5 143.8 L521.75 143.8" fill="none" stroke="#e83535" stroke-width="1.1" stroke-linejoin="round" />
<path d="M420 143.77 L420.25 143.77 L420.5 143.76 L420.75 143.76 L421 143.76 L421.25 143.76 L421.5 143.75 L421.75 143.75 L422 143.75 L422.25 143.74 L422.5 143.74 L422.75 143.74 L423 143.73 L423.25 143.73 L423.5 143.73 L423.75 143.72 L424 143.72 L424.25 143.71 L424.5 143.71 L424.75 143.7 L425 143.69 L425.25 143.69 L425.5 143.68 L425.75 143.67 L426 143.67 L426.25 143.66 L426.5 143.65 L426.75 143.64 L427 143.63 L427.25 143.62 L427.5 143.61 L427.75 143.6 L428 143.59 L428.25 143.58 L428.5 143.57 L428.75 143.56 L429 143.54 L429.25 143.53 L429.5 143.51 L429.75 143.5 L430 143.48 L430.25 143.47 L430.5 143.45 L430.75 143.43 L431 143.41 L431.25 143.39 L431.5 143.37 L431.75 143.34 L432 143.32 L432.25 143.3 L432.5 143.27 L432.75 143.24 L433 143.22 L433.25 143.19 L433.5 143.16 L433.75 143.12 L434 143.09 L434.25 143.05 L434.5 143.02 L434.75 142.98 L435 142.94 L435.25 142.9 L435.5 142.85 L435.75 142.81 L436 142.76 L436.25 142.71 L436.5 142.66 L436.75 142.61 L437 142.55 L437.25 142.49 L437.5 142.43 L437.75 142.37 L438 142.3 L438.25 142.24 L438.5 142.17 L438.75 142.09 L439 142.02 L439.25 141.94 L439.5 141.86 L439.75 141.77 L440 141.68 L440.25 141.59 L440.5 141.49 L440.75 141.4 L441 141.29 L441.25 141.19 L441.5 141.08 L441.75 140.96 L442 140.84 L442.25 140.72 L442.5 140.6 L442.75 140.47 L443 140.33 L443.25 140.19 L443.5 140.05 L443.75 139.9 L444 139.74 L444.25 139.58 L444.5 139.42 L444.75 139.25 L445 139.07 L445.25 138.89 L445.5 138.7 L445.75 138.51 L446 138.31 L446.25 138.11 L446.5 137.9 L446.75 137.68 L447 137.46 L447.25 137.23 L447.5 136.99 L447.75 136.75 L448 136.5 L448.25 136.24 L448.5 135.97 L448.75 135.7 L449 135.42 L449.25 135.14 L449.5 134.84 L449.75 134.54 L450 134.23 L450.25 133.91 L450.5 133.59 L450.75 133.25 L451 132.91 L451.25 132.56 L451.5 132.2 L451.75 131.83 L452 131.45 L452.25 131.07 L452.5 130.67 L452.75 130.27 L453 129.86 L453.25 129.44 L453.5 129.01 L453.75 128.57 L454 128.12 L454.25 127.66 L454.5 127.2 L454.75 126.72 L455 126.23 L455.25 125.74 L455.5 125.23 L455.75 124.72 L456 124.19 L456.25 123.66 L456.5 123.12 L456.75 122.57 L457 122.01 L457.25 121.43 L457.5 120.85 L457.75 120.27 L458 119.67 L458.25 119.06 L458.5 118.44 L458.75 117.82 L459 117.18 L459.25 116.54 L459.5 115.88 L459.75 115.22 L460 114.55 L460.25 113.87 L460.5 113.19 L460.75 112.49 L461 111.79 L461.25 111.08 L461.5 110.36 L461.75 109.64 L462 108.9 L462.25 108.16 L462.5 107.42 L462.75 106.67 L463 105.91 L463.25 105.14 L463.5 104.37 L463.75 103.59 L464 102.81 L464.25 102.02 L464.5 101.23 L464.75 100.44 L465 99.64 L465.25 98.83 L465.5 98.02 L465.75 97.21 L466 96.4 L466.25 95.58 L466.5 94.77 L466.75 93.95 L467 93.13 L467.25 92.3 L467.5 91.48 L467.75 90.66 L468 89.84 L468.25 89.02 L468.5 88.19 L468.75 87.38 L469 86.56 L469.25 85.74 L469.5 84.93 L469.75 84.12 L470 83.32 L470.25 82.52 L470.5 81.72 L470.75 80.93 L471 80.14 L471.25 79.36 L471.5 78.59 L471.75 77.82 L472 77.06 L472.25 76.31 L472.5 75.56 L472.75 74.83 L473 74.1 L473.25 73.39 L473.5 72.68 L473.75 71.98 L474 71.3 L474.25 70.62 L474.5 69.96 L474.75 69.31 L475 68.67 L475.25 68.05 L475.5 67.44 L475.75 66.84 L476 66.26 L476.25 65.69 L476.5 65.14 L476.75 64.6 L477 64.08 L477.25 63.57 L477.5 63.08 L477.75 62.61 L478 62.16 L478.25 61.72 L478.5 61.3 L478.75 60.9 L479 60.51 L479.25 60.15 L479.5 59.8 L479.75 59.48 L480 59.17 L480.25 58.88 L480.5 58.61 L480.75 58.37 L481 58.14 L481.25 57.93 L481.5 57.74 L481.75 57.58 L482 57.43 L482.25 57.31 L482.5 57.2 L482.75 57.12 L483 57.06 L483.25 57.02 L483.5 57 L483.75 57 L484 57.03 L484.25 57.08 L484.5 57.15 L484.75 57.25 L485 57.37 L485.25 57.51 L485.5 57.67 L485.75 57.86 L486 58.07 L486.25 58.3 L486.5 58.55 L486.75 58.83 L487 59.12 L487.25 59.44 L487.5 59.78 L487.75 60.13 L488 60.51 L488.25 60.91 L488.5 61.33 L488.75 61.76 L489 62.22 L489.25 62.69 L489.5 63.17 L489.75 63.68 L490 64.2 L490.25 64.74 L490.5 65.29 L490.75 65.86 L491 66.44 L491.25 67.04 L491.5 67.64 L491.75 68.26 L492 68.9 L492.25 69.54 L492.5 70.2 L492.75 70.92 L493 71.93 L493.25 73 L493.5 74.08 L493.75 75.16 L494 76.23 L494.25 77.55 L494.5 78.7 L494.75 79.86 L495 81.01 L495.25 82.16 L495.5 83.28 L495.75 84.58 L496 85.72 L496.25 86.86 L496.5 87.99 L496.75 89.13 L497 90.24 L497.25 91.24 L497.5 92.08 L497.75 92.93 L498 93.77 L498.25 94.61 L498.5 95.42 L498.75 96.17 L499 96.92 L499.25 97.67 L499.5 98.42 L499.75 99.18 L500 99.89 L500.25 100.55 L500.5 101.22 L500.75 101.83 L501 102.45 L501.25 103.06 L501.5 103.64 L501.75 104.17 L502 104.69 L502.25 105.17 L502.5 105.65 L502.75 106.13 L503 106.61 L503.25 107.08 L503.5 107.56 L503.75 107.99 L504 108.42 L504.25 108.86 L504.5 109.29 L504.75 109.72 L505 110.15 L505.25 110.53 L505.5 110.92 L505.75 111.3 L506 111.69 L506.25 112.07 L506.5 112.46 L506.75 112.79 L507 113.13 L507.25 113.47 L507.5 113.8 L507.75 114.14 L508 114.48 L508.25 114.82 L508.5 115.15 L508.75 115.49 L509 115.83 L509.25 116.18 L509.5 116.68 L509.75 117.17 L510 117.65 L510.25 118.12 L510.5 118.58 L510.75 119.04 L511 119.49 L511.25 119.93 L511.5 120.36 L511.75 120.78 L512 121.2 L512.25 121.61 L512.5 122.01 L512.75 122.4 L513 122.79 L513.25 123.16 L513.5 123.53 L513.75 123.9 L514 124.25 L514.25 124.6 L514.5 124.94 L514.75 125.27 L515 125.6 L515.25 125.92 L515.5 126.24 L515.75 126.54 L516 126.84 L516.25 127.14 L516.5 127.42 L516.75 127.7 L517 127.98 L517.25 128.25 L517.5 128.51 L517.75 128.77 L518 129.02 L518.25 129.27 L518.5 129.51 L518.75 129.74 L519 129.97 L519.25 130.23 L519.5 130.58 L519.75 130.88 L520 131.18 L520.25 131.5 L520.5 131.81 L520.75 132.12 L521 132.43 L521.25 132.7 L521.5 132.96 L521.75 133.23 L522 133.49 L522.25 133.75 L522.5 134.02 L522.75 134.23 L523 134.45 L523.25 134.67 L523.5 134.88 L523.75 135.1 L524 135.31 L524.25 135.48 L524.5 135.65 L524.75 135.82 L525 135.98 L525.25 136.15 L525.5 136.32 L525.75 136.49 L526 136.66 L526.25 136.83 L526.5 136.99 L526.75 137.16 L527 137.33 L527.25 137.5 L527.5 137.67 L527.75 137.84 L528 138.01 L528.25 138.18 L528.5 138.35 L528.75 138.52 L529 138.69 L529.25 138.86 L529.5 139.03 L529.75 139.2 L530 139.37 L530.25 139.54 L530.5 139.72 L530.75 139.89 L531 140.06 L531.25 140.23 L531.5 140.4 L531.75 140.58 L532 140.75 L532.25 140.92 L532.5 141.09 L532.75 141.27 L533 141.44 L533.25 141.61 L533.5 141.78 L533.75 141.96 L534 142.13 L534.25 142.29 L534.5 142.44 L534.75 142.6 L535 142.76 L535.25 142.92 L535.5 143.08 L535.75 143.22 L536 143.36 L536.25 143.49 L536.5 143.61 L536.75 143.74 L537 143.8 L537.25 143.8 L537.5 143.8 L537.75 143.8 L538 143.8 L538.25 143.8" fill="none" stroke="#111" stroke-width="1.1" stroke-linejoin="round" />
<path d="M393.42 142.61 a1.85 1.85 0 1 0 3.7 0 a1.85 1.85 0 1 0 -3.7 0 M394.69 141.38 a1.85 1.85 0 1 0 3.7 0 a1.85 1.85 0 1 0 -3.7 0 M396.89 138.88 a1.85 1.85 0 1 0 3.7 0 a1.85 1.85 0 1 0 -3.7 0 M398.1 140.83 a1.85 1.85 0 1 0 3.7 0 a1.85 1.85 0 1 0 -3.7 0 M399.7 138.6 a1.85 1.85 0 1 0 3.7 0 a1.85 1.85 0 1 0 -3.7 0 M401.26 134.32 a1.85 1.85 0 1 0 3.7 0 a1.85 1.85 0 1 0 -3.7 0 M402.73 135.73 a1.85 1.85 0 1 0 3.7 0 a1.85 1.85 0 1 0 -3.7 0 M402.69 138.03 a1.85 1.85 0 1 0 3.7 0 a1.85 1.85 0 1 0 -3.7 0 M403.82 135 a1.85 1.85 0 1 0 3.7 0 a1.85 1.85 0 1 0 -3.7 0 M406.39 130.97 a1.85 1.85 0 1 0 3.7 0 a1.85 1.85 0 1 0 -3.7 0 M407.52 136.55 a1.85 1.85 0 1 0 3.7 0 a1.85 1.85 0 1 0 -3.7 0 M408.95 130.46 a1.85 1.85 0 1 0 3.7 0 a1.85 1.85 0 1 0 -3.7 0 M409.76 133.83 a1.85 1.85 0 1 0 3.7 0 a1.85 1.85 0 1 0 -3.7 0 M411.59 132.84 a1.85 1.85 0 1 0 3.7 0 a1.85 1.85 0 1 0 -3.7 0 M412.48 128.18 a1.85 1.85 0 1 0 3.7 0 a1.85 1.85 0 1 0 -3.7 0 M414.28 118.1 a1.85 1.85 0 1 0 3.7 0 a1.85 1.85 0 1 0 -3.7 0 M414.52 117.77 a1.85 1.85 0 1 0 3.7 0 a1.85 1.85 0 1 0 -3.7 0 M415.5 113.45 a1.85 1.85 0 1 0 3.7 0 a1.85 1.85 0 1 0 -3.7 0 M416.92 116.43 a1.85 1.85 0 1 0 3.7 0 a1.85 1.85 0 1 0 -3.7 0 M419.39 114.29 a1.85 1.85 0 1 0 3.7 0 a1.85 1.85 0 1 0 -3.7 0 M420.35 107.04 a1.85 1.85 0 1 0 3.7 0 a1.85 1.85 0 1 0 -3.7 0 M421.74 107.38 a1.85 1.85 0 1 0 3.7 0 a1.85 1.85 0 1 0 -3.7 0 M423.23 106.73 a1.85 1.85 0 1 0 3.7 0 a1.85 1.85 0 1 0 -3.7 0 M424.45 104.92 a1.85 1.85 0 1 0 3.7 0 a1.85 1.85 0 1 0 -3.7 0 M425.6 99.53 a1.85 1.85 0 1 0 3.7 0 a1.85 1.85 0 1 0 -3.7 0 M425.96 100.54 a1.85 1.85 0 1 0 3.7 0 a1.85 1.85 0 1 0 -3.7 0 M427.27 100.68 a1.85 1.85 0 1 0 3.7 0 a1.85 1.85 0 1 0 -3.7 0 M428.87 99.84 a1.85 1.85 0 1 0 3.7 0 a1.85 1.85 0 1 0 -3.7 0 M430.93 102.55 a1.85 1.85 0 1 0 3.7 0 a1.85 1.85 0 1 0 -3.7 0 M432.61 102 a1.85 1.85 0 1 0 3.7 0 a1.85 1.85 0 1 0 -3.7 0 M433.12 101.63 a1.85 1.85 0 1 0 3.7 0 a1.85 1.85 0 1 0 -3.7 0 M434.74 104.62 a1.85 1.85 0 1 0 3.7 0 a1.85 1.85 0 1 0 -3.7 0 M435.98 105.25 a1.85 1.85 0 1 0 3.7 0 a1.85 1.85 0 1 0 -3.7 0 M436.37 101.62 a1.85 1.85 0 1 0 3.7 0 a1.85 1.85 0 1 0 -3.7 0 M438.74 107.36 a1.85 1.85 0 1 0 3.7 0 a1.85 1.85 0 1 0 -3.7 0 M439.34 108.71 a1.85 1.85 0 1 0 3.7 0 a1.85 1.85 0 1 0 -3.7 0 M440.25 107.71 a1.85 1.85 0 1 0 3.7 0 a1.85 1.85 0 1 0 -3.7 0 M441.88 108.83 a1.85 1.85 0 1 0 3.7 0 a1.85 1.85 0 1 0 -3.7 0 M443.83 107.77 a1.85 1.85 0 1 0 3.7 0 a1.85 1.85 0 1 0 -3.7 0 M444.52 106.78 a1.85 1.85 0 1 0 3.7 0 a1.85 1.85 0 1 0 -3.7 0 M446.1 107.47 a1.85 1.85 0 1 0 3.7 0 a1.85 1.85 0 1 0 -3.7 0 M446.84 108.14 a1.85 1.85 0 1 0 3.7 0 a1.85 1.85 0 1 0 -3.7 0 M449.52 107.89 a1.85 1.85 0 1 0 3.7 0 a1.85 1.85 0 1 0 -3.7 0 M450.75 103.82 a1.85 1.85 0 1 0 3.7 0 a1.85 1.85 0 1 0 -3.7 0 M451.86 106.77 a1.85 1.85 0 1 0 3.7 0 a1.85 1.85 0 1 0 -3.7 0 M453.4 103.24 a1.85 1.85 0 1 0 3.7 0 a1.85 1.85 0 1 0 -3.7 0 M453.49 99.98 a1.85 1.85 0 1 0 3.7 0 a1.85 1.85 0 1 0 -3.7 0 M455.96 101.59 a1.85 1.85 0 1 0 3.7 0 a1.85 1.85 0 1 0 -3.7 0 M455.98 100.79 a1.85 1.85 0 1 0 3.7 0 a1.85 1.85 0 1 0 -3.7 0 M457.89 102.3 a1.85 1.85 0 1 0 3.7 0 a1.85 1.85 0 1 0 -3.7 0 M459.66 99.31 a1.85 1.85 0 1 0 3.7 0 a1.85 1.85 0 1 0 -3.7 0 M460.46 95.59 a1.85 1.85 0 1 0 3.7 0 a1.85 1.85 0 1 0 -3.7 0 M461.32 96.47 a1.85 1.85 0 1 0 3.7 0 a1.85 1.85 0 1 0 -3.7 0 M463.69 88.16 a1.85 1.85 0 1 0 3.7 0 a1.85 1.85 0 1 0 -3.7 0 M463.56 88.3 a1.85 1.85 0 1 0 3.7 0 a1.85 1.85 0 1 0 -3.7 0 M465.64 87.32 a1.85 1.85 0 1 0 3.7 0 a1.85 1.85 0 1 0 -3.7 0 M466.38 83.56 a1.85 1.85 0 1 0 3.7 0 a1.85 1.85 0 1 0 -3.7 0 M468 84.72 a1.85 1.85 0 1 0 3.7 0 a1.85 1.85 0 1 0 -3.7 0 M468.75 78.92 a1.85 1.85 0 1 0 3.7 0 a1.85 1.85 0 1 0 -3.7 0 M471.25 82.09 a1.85 1.85 0 1 0 3.7 0 a1.85 1.85 0 1 0 -3.7 0 M472.83 74.83 a1.85 1.85 0 1 0 3.7 0 a1.85 1.85 0 1 0 -3.7 0 M473.79 69.62 a1.85 1.85 0 1 0 3.7 0 a1.85 1.85 0 1 0 -3.7 0 M474.55 69.09 a1.85 1.85 0 1 0 3.7 0 a1.85 1.85 0 1 0 -3.7 0 M475.88 62.68 a1.85 1.85 0 1 0 3.7 0 a1.85 1.85 0 1 0 -3.7 0 M477.13 63.99 a1.85 1.85 0 1 0 3.7 0 a1.85 1.85 0 1 0 -3.7 0 M478.53 57.14 a1.85 1.85 0 1 0 3.7 0 a1.85 1.85 0 1 0 -3.7 0 M479.31 53.69 a1.85 1.85 0 1 0 3.7 0 a1.85 1.85 0 1 0 -3.7 0 M481.79 52.47 a1.85 1.85 0 1 0 3.7 0 a1.85 1.85 0 1 0 -3.7 0 M482.15 50.84 a1.85 1.85 0 1 0 3.7 0 a1.85 1.85 0 1 0 -3.7 0 M483.48 58.65 a1.85 1.85 0 1 0 3.7 0 a1.85 1.85 0 1 0 -3.7 0 M484.95 52.07 a1.85 1.85 0 1 0 3.7 0 a1.85 1.85 0 1 0 -3.7 0 M487.18 55.26 a1.85 1.85 0 1 0 3.7 0 a1.85 1.85 0 1 0 -3.7 0 M487.96 60.55 a1.85 1.85 0 1 0 3.7 0 a1.85 1.85 0 1 0 -3.7 0 M489.71 56.68 a1.85 1.85 0 1 0 3.7 0 a1.85 1.85 0 1 0 -3.7 0 M490.7 66.28 a1.85 1.85 0 1 0 3.7 0 a1.85 1.85 0 1 0 -3.7 0 M490.93 71.04 a1.85 1.85 0 1 0 3.7 0 a1.85 1.85 0 1 0 -3.7 0 M493.35 80.14 a1.85 1.85 0 1 0 3.7 0 a1.85 1.85 0 1 0 -3.7 0 M494.48 82.95 a1.85 1.85 0 1 0 3.7 0 a1.85 1.85 0 1 0 -3.7 0 M496.23 90.92 a1.85 1.85 0 1 0 3.7 0 a1.85 1.85 0 1 0 -3.7 0 M496.25 96.69 a1.85 1.85 0 1 0 3.7 0 a1.85 1.85 0 1 0 -3.7 0 M497.83 96.52 a1.85 1.85 0 1 0 3.7 0 a1.85 1.85 0 1 0 -3.7 0 M499.83 102.27 a1.85 1.85 0 1 0 3.7 0 a1.85 1.85 0 1 0 -3.7 0 M501 106.83 a1.85 1.85 0 1 0 3.7 0 a1.85 1.85 0 1 0 -3.7 0 M501.73 107.14 a1.85 1.85 0 1 0 3.7 0 a1.85 1.85 0 1 0 -3.7 0 M502.82 106.76 a1.85 1.85 0 1 0 3.7 0 a1.85 1.85 0 1 0 -3.7 0 M504.11 110.03 a1.85 1.85 0 1 0 3.7 0 a1.85 1.85 0 1 0 -3.7 0 M505.95 114.18 a1.85 1.85 0 1 0 3.7 0 a1.85 1.85 0 1 0 -3.7 0 M506.8 119.92 a1.85 1.85 0 1 0 3.7 0 a1.85 1.85 0 1 0 -3.7 0 M508.47 123.48 a1.85 1.85 0 1 0 3.7 0 a1.85 1.85 0 1 0 -3.7 0 M509.27 113.12 a1.85 1.85 0 1 0 3.7 0 a1.85 1.85 0 1 0 -3.7 0 M510.9 120.16 a1.85 1.85 0 1 0 3.7 0 a1.85 1.85 0 1 0 -3.7 0 M511.8 122.6 a1.85 1.85 0 1 0 3.7 0 a1.85 1.85 0 1 0 -3.7 0 M513.86 123.46 a1.85 1.85 0 1 0 3.7 0 a1.85 1.85 0 1 0 -3.7 0 M515.67 127.11 a1.85 1.85 0 1 0 3.7 0 a1.85 1.85 0 1 0 -3.7 0 M516.21 127.22 a1.85 1.85 0 1 0 3.7 0 a1.85 1.85 0 1 0 -3.7 0 M517.69 126.67 a1.85 1.85 0 1 0 3.7 0 a1.85 1.85 0 1 0 -3.7 0 M518.25 129.78 a1.85 1.85 0 1 0 3.7 0 a1.85 1.85 0 1 0 -3.7 0 M519.89 134.19 a1.85 1.85 0 1 0 3.7 0 a1.85 1.85 0 1 0 -3.7 0 M521.56 134.73 a1.85 1.85 0 1 0 3.7 0 a1.85 1.85 0 1 0 -3.7 0 M523.06 134.01 a1.85 1.85 0 1 0 3.7 0 a1.85 1.85 0 1 0 -3.7 0 M523.78 136.34 a1.85 1.85 0 1 0 3.7 0 a1.85 1.85 0 1 0 -3.7 0 M525.05 134.65 a1.85 1.85 0 1 0 3.7 0 a1.85 1.85 0 1 0 -3.7 0 M527.48 134.62 a1.85 1.85 0 1 0 3.7 0 a1.85 1.85 0 1 0 -3.7 0 M528.61 139.46 a1.85 1.85 0 1 0 3.7 0 a1.85 1.85 0 1 0 -3.7 0 M528.6 139.08 a1.85 1.85 0 1 0 3.7 0 a1.85 1.85 0 1 0 -3.7 0 M530.99 139.2 a1.85 1.85 0 1 0 3.7 0 a1.85 1.85 0 1 0 -3.7 0 M532.09 142.8 a1.85 1.85 0 1 0 3.7 0 a1.85 1.85 0 1 0 -3.7 0 M532.45 139.59 a1.85 1.85 0 1 0 3.7 0 a1.85 1.85 0 1 0 -3.7 0 M535.07 137.67 a1.85 1.85 0 1 0 3.7 0 a1.85 1.85 0 1 0 -3.7 0 " fill="#fff" stroke="#3344ee" stroke-width="1"/>
<text x="415.9" y="89.5" font-size="10.4" fill="#333" font-weight="normal" textLength="10.02" lengthAdjust="spacingAndGlyphs" stroke="#333" stroke-width="0.25">Fe</text>
<text x="428.6" y="89.5" font-size="10.4" fill="#333" font-weight="normal" textLength="4.91" lengthAdjust="spacingAndGlyphs" stroke="#333" stroke-width="0.25">2</text>
<text x="435.9" y="89.5" font-size="10.4" fill="#333" font-weight="normal" textLength="4.61" lengthAdjust="spacingAndGlyphs" stroke="#333" stroke-width="0.25">p</text>
<text x="445.5" y="92.3" font-size="8.4" fill="#333" font-weight="normal" textLength="9.5" lengthAdjust="spacingAndGlyphs" stroke="#333" stroke-width="0.25">1/2</text>
<text x="470.4" y="42.3" font-size="10.4" fill="#333" font-weight="normal" textLength="9.82" lengthAdjust="spacingAndGlyphs" stroke="#333" stroke-width="0.25">Fe</text>
<text x="483.4" y="42.3" font-size="10.4" fill="#333" font-weight="normal" textLength="4.41" lengthAdjust="spacingAndGlyphs" stroke="#333" stroke-width="0.25">2</text>
<text x="491" y="42.3" font-size="10.4" fill="#333" font-weight="normal" textLength="5.01" lengthAdjust="spacingAndGlyphs" stroke="#333" stroke-width="0.25">p</text>
<text x="498.6" y="44.9" font-size="8.4" fill="#333" font-weight="normal" textLength="11.6" lengthAdjust="spacingAndGlyphs" stroke="#333" stroke-width="0.25">3/2</text>
<rect x="97" y="185.8" width="154.2" height="134.2" fill="none" stroke="#7c7c7c" stroke-width="1.1"/>
<path d="M122.7 320 L122.7 316.6 M141.99 320 L141.99 316.6 M161.28 320 L161.28 316.6 M180.57 320 L180.57 316.6 M199.86 320 L199.86 316.6 M219.15 320 L219.15 316.6 M238.44 320 L238.44 316.6 " stroke="#555" stroke-width="0.9" fill="none"/>
<text x="113.26" y="333.7" font-size="11.3" fill="#262626" font-weight="normal" textLength="18.85" lengthAdjust="spacingAndGlyphs" stroke="#262626" stroke-width="0.25">282</text>
<text x="151.84" y="333.7" font-size="11.3" fill="#262626" font-weight="normal" textLength="18.85" lengthAdjust="spacingAndGlyphs" stroke="#262626" stroke-width="0.25">285</text>
<text x="190.42" y="333.7" font-size="11.3" fill="#262626" font-weight="normal" textLength="18.85" lengthAdjust="spacingAndGlyphs" stroke="#262626" stroke-width="0.25">288</text>
<text x="229" y="333.7" font-size="11.3" fill="#262626" font-weight="normal" textLength="18.85" lengthAdjust="spacingAndGlyphs" stroke="#262626" stroke-width="0.25">291</text>
<text x="116.6" y="350.3" font-size="11.2" fill="#262626" font-weight="normal" textLength="104.39" lengthAdjust="spacingAndGlyphs" stroke="#262626" stroke-width="0.25">Binding energy (eV)</text>
<text transform="translate(90.9 287) rotate(-90)" x="0" y="0" font-size="10.8" fill="#262626" font-weight="normal" textLength="70.38" lengthAdjust="spacingAndGlyphs" stroke="#262626" stroke-width="0.25">Intensity (a.u)</text>
<text x="99.5" y="198.5" font-size="11" fill="#262626" font-weight="normal" textLength="14.43" lengthAdjust="spacingAndGlyphs" stroke="#262626" stroke-width="0.25">(d)</text>
<text x="225.2" y="197.6" font-size="11.3" fill="#151515" font-weight="normal" textLength="23.11" lengthAdjust="spacingAndGlyphs" stroke="#151515" stroke-width="0.3">C 1s</text>
<path d="M150.25 301.28 L150.5 301.26 L150.75 301.24 L151 301.22 L151.25 301.2 L151.5 301.18 L151.75 301.15 L152 301.12 L152.25 301.09 L152.5 301.05 L152.75 301.01 L153 300.96 L153.25 300.91 L153.5 300.86 L153.75 300.79 L154 300.73 L154.25 300.65 L154.5 300.57 L154.75 300.49 L155 300.39 L155.25 300.29 L155.5 300.17 L155.75 300.05 L156 299.91 L156.25 299.77 L156.5 299.61 L156.75 299.44 L157 299.26 L157.25 299.06 L157.5 298.85 L157.75 298.62 L158 298.38 L158.25 298.12 L158.5 297.84 L158.75 297.54 L159 297.22 L159.25 296.88 L159.5 296.52 L159.75 296.14 L160 295.74 L160.25 295.31 L160.5 294.86 L160.75 294.38 L161 293.88 L161.25 293.35 L161.5 292.8 L161.75 292.22 L162 291.61 L162.25 290.98 L162.5 290.32 L162.75 289.63 L163 288.92 L163.25 288.18 L163.5 287.42 L163.75 286.63 L164 285.81 L164.25 284.97 L164.5 284.11 L164.75 283.23 L165 282.32 L165.25 281.4 L165.5 280.46 L165.75 279.5 L166 278.52 L166.25 277.54 L166.5 276.54 L166.75 275.53 L167 274.52 L167.25 273.5 L167.5 272.49 L167.75 271.47 L168 270.46 L168.25 269.45 L168.5 268.45 L168.75 267.47 L169 266.5 L169.25 265.54 L169.5 264.61 L169.75 263.71 L170 262.83 L170.25 261.97 L170.5 261.16 L170.75 260.37 L171 259.63 L171.25 258.93 L171.5 258.27 L171.75 257.65 L172 257.08 L172.25 256.57 L172.5 256.1 L172.75 255.69 L173 255.33 L173.25 255.03 L173.5 254.79 L173.75 254.6 L174 254.48 L174.25 254.41 L174.5 254.4 L174.75 254.44 L175 254.53 L175.25 254.66 L175.5 254.84 L175.75 255.06 L176 255.33 L176.25 255.64 L176.5 255.99 L176.75 256.38 L177 256.82 L177.25 257.29 L177.5 257.8 L177.75 258.35 L178 258.93 L178.25 259.54 L178.5 260.18 L178.75 260.86 L179 261.56 L179.25 262.29 L179.5 263.04 L179.75 263.82 L180 264.61 L180.25 265.43 L180.5 266.26 L180.75 267.1 L181 267.96 L181.25 268.82 L181.5 269.7 L181.75 270.58 L182 271.47 L182.25 272.36 L182.5 273.25 L182.75 274.14 L183 275.03 L183.25 275.91 L183.5 276.79 L183.75 277.66 L184 278.52 L184.25 279.38 L184.5 280.22 L184.75 281.05 L185 281.86 L185.25 282.66 L185.5 283.45 L185.75 284.22 L186 284.97 L186.25 285.71 L186.5 286.43 L186.75 287.12 L187 287.8 L187.25 288.46 L187.5 289.1 L187.75 289.72 L188 290.32 L188.25 290.9 L188.5 291.46 L188.75 291.99 L189 292.51 L189.25 293.01 L189.5 293.48 L189.75 293.94 L190 294.38 L190.25 294.8 L190.5 295.2 L190.75 295.58 L191 295.94 L191.25 296.29 L191.5 296.61 L191.75 296.93 L192 297.22 L192.25 297.5 L192.5 297.76 L192.75 298.01 L193 298.25 L193.25 298.47 L193.5 298.68 L193.75 298.88 L194 299.06 L194.25 299.24 L194.5 299.4 L194.75 299.55 L195 299.69 L195.25 299.83 L195.5 299.95 L195.75 300.06 L196 300.17 L196.25 300.27 L196.5 300.36 L196.75 300.45 L197 300.53 L197.25 300.6 L197.5 300.67 L197.75 300.74 L198 300.79 L198.25 300.85 L198.5 300.9 L198.75 300.94 L199 300.98 L199.25 301.02 L199.5 301.06 L199.75 301.09" fill="none" stroke="#22dd22" stroke-width="1.2" stroke-linejoin="round" />
<path d="M160.25 301.36 L160.5 301.36 L160.75 301.35 L161 301.35 L161.25 301.35 L161.5 301.34 L161.75 301.34 L162 301.33 L162.25 301.33 L162.5 301.32 L162.75 301.31 L163 301.31 L163.25 301.3 L163.5 301.29 L163.75 301.28 L164 301.27 L164.25 301.26 L164.5 301.25 L164.75 301.24 L165 301.23 L165.25 301.22 L165.5 301.2 L165.75 301.19 L166 301.17 L166.25 301.16 L166.5 301.14 L166.75 301.12 L167 301.1 L167.25 301.08 L167.5 301.06 L167.75 301.03 L168 301.01 L168.25 300.98 L168.5 300.95 L168.75 300.92 L169 300.89 L169.25 300.85 L169.5 300.82 L169.75 300.78 L170 300.74 L170.25 300.7 L170.5 300.65 L170.75 300.61 L171 300.56 L171.25 300.5 L171.5 300.45 L171.75 300.39 L172 300.33 L172.25 300.27 L172.5 300.2 L172.75 300.13 L173 300.06 L173.25 299.98 L173.5 299.9 L173.75 299.81 L174 299.72 L174.25 299.63 L174.5 299.53 L174.75 299.43 L175 299.33 L175.25 299.22 L175.5 299.1 L175.75 298.98 L176 298.86 L176.25 298.73 L176.5 298.59 L176.75 298.45 L177 298.31 L177.25 298.16 L177.5 298 L177.75 297.84 L178 297.67 L178.25 297.49 L178.5 297.31 L178.75 297.13 L179 296.94 L179.25 296.74 L179.5 296.53 L179.75 296.32 L180 296.1 L180.25 295.88 L180.5 295.65 L180.75 295.41 L181 295.17 L181.25 294.91 L181.5 294.66 L181.75 294.39 L182 294.12 L182.25 293.85 L182.5 293.56 L182.75 293.27 L183 292.98 L183.25 292.67 L183.5 292.37 L183.75 292.05 L184 291.73 L184.25 291.4 L184.5 291.07 L184.75 290.73 L185 290.39 L185.25 290.04 L185.5 289.69 L185.75 289.33 L186 288.97 L186.25 288.6 L186.5 288.23 L186.75 287.86 L187 287.48 L187.25 287.1 L187.5 286.71 L187.75 286.33 L188 285.94 L188.25 285.55 L188.5 285.16 L188.75 284.76 L189 284.37 L189.25 283.97 L189.5 283.58 L189.75 283.19 L190 282.79 L190.25 282.4 L190.5 282.01 L190.75 281.63 L191 281.24 L191.25 280.86 L191.5 280.48 L191.75 280.11 L192 279.74 L192.25 279.37 L192.5 279.01 L192.75 278.66 L193 278.31 L193.25 277.97 L193.5 277.64 L193.75 277.32 L194 277 L194.25 276.69 L194.5 276.39 L194.75 276.1 L195 275.82 L195.25 275.55 L195.5 275.3 L195.75 275.05 L196 274.81 L196.25 274.59 L196.5 274.37 L196.75 274.17 L197 273.98 L197.25 273.81 L197.5 273.65 L197.75 273.5 L198 273.37 L198.25 273.25 L198.5 273.14 L198.75 273.05 L199 272.97 L199.25 272.91 L199.5 272.86 L199.75 272.82 L200 272.8 L200.25 272.8 L200.5 272.81 L200.75 272.84 L201 272.88 L201.25 272.94 L201.5 273.02 L201.75 273.11 L202 273.22 L202.25 273.34 L202.5 273.48 L202.75 273.63 L203 273.8 L203.25 273.98 L203.5 274.18 L203.75 274.39 L204 274.61 L204.25 274.85 L204.5 275.1 L204.75 275.36 L205 275.64 L205.25 275.92 L205.5 276.22 L205.75 276.53 L206 276.85 L206.25 277.17 L206.5 277.51 L206.75 277.86 L207 278.21 L207.25 278.57 L207.5 278.94 L207.75 279.32 L208 279.7 L208.25 280.08 L208.5 280.47 L208.75 280.87 L209 281.27 L209.25 281.67 L209.5 282.08 L209.75 282.49 L210 282.9 L210.25 283.31 L210.5 283.72 L210.75 284.14 L211 284.55 L211.25 284.96 L211.5 285.37 L211.75 285.78 L212 286.19 L212.25 286.6 L212.5 287 L212.75 287.4 L213 287.8 L213.25 288.19 L213.5 288.58 L213.75 288.96 L214 289.34 L214.25 289.72 L214.5 290.09 L214.75 290.45 L215 290.81 L215.25 291.16 L215.5 291.51 L215.75 291.85 L216 292.18 L216.25 292.51 L216.5 292.83 L216.75 293.14 L217 293.45 L217.25 293.75 L217.5 294.04 L217.75 294.32 L218 294.6 L218.25 294.87 L218.5 295.14 L218.75 295.39 L219 295.64 L219.25 295.88 L219.5 296.12 L219.75 296.35 L220 296.57 L220.25 296.78 L220.5 296.99 L220.75 297.19 L221 297.38 L221.25 297.57 L221.5 297.75 L221.75 297.92 L222 298.09 L222.25 298.25 L222.5 298.4 L222.75 298.55 L223 298.69 L223.25 298.83 L223.5 298.96 L223.75 299.09 L224 299.21 L224.25 299.32 L224.5 299.44 L224.75 299.54 L225 299.64 L225.25 299.74 L225.5 299.83 L225.75 299.92 L226 300 L226.25 300.08 L226.5 300.16 L226.75 300.23 L227 300.3 L227.25 300.36 L227.5 300.43 L227.75 300.48 L228 300.54 L228.25 300.59 L228.5 300.64 L228.75 300.69 L229 300.74 L229.25 300.78 L229.5 300.82 L229.75 300.85 L230 300.89 L230.25 300.92 L230.5 300.96 L230.75 300.98 L231 301.01 L231.25 301.04 L231.5 301.06 L231.75 301.09 L232 301.11 L232.25 301.13 L232.5 301.15 L232.75 301.17 L233 301.18 L233.25 301.2 L233.5 301.21 L233.75 301.23 L234 301.24 L234.25 301.25 L234.5 301.26 L234.75 301.27 L235 301.28 L235.25 301.29 L235.5 301.3 L235.75 301.31 L236 301.31 L236.25 301.32 L236.5 301.33 L236.75 301.33 L237 301.34 L237.25 301.34 L237.5 301.35 L237.75 301.35 L238 301.36 L238.25 301.36 L238.5 301.36 L238.75 301.37 L239 301.37 L239.25 301.37 L239.5 301.37 L239.75 301.38 L240 301.38 L240.25 301.38 L240.5 301.38 L240.75 301.38 L241 301.38 L241.25 301.39 L241.5 301.39 L241.75 301.39 L242 301.39 L242.25 301.39 L242.5 301.39 L242.75 301.39 L243 301.39 L243.25 301.39 L243.5 301.39 L243.75 301.39 L244 301.4 L244.25 301.4 L244.5 301.4 L244.75 301.4" fill="none" stroke="#ee2222" stroke-width="1.2" stroke-linejoin="round" />
<path d="M128.25 301.39 L128.5 301.39 L128.75 301.39 L129 301.38 L129.25 301.38 L129.5 301.38 L129.75 301.37 L130 301.37 L130.25 301.36 L130.5 301.36 L130.75 301.35 L131 301.34 L131.25 301.34 L131.5 301.33 L131.75 301.32 L132 301.3 L132.25 301.29 L132.5 301.27 L132.75 301.25 L133 301.23 L133.25 301.21 L133.5 301.18 L133.75 301.15 L134 301.12 L134.25 301.08 L134.5 301.04 L134.75 300.99 L135 300.94 L135.25 300.88 L135.5 300.81 L135.75 300.74 L136 300.66 L136.25 300.57 L136.5 300.47 L136.75 300.35 L137 300.23 L137.25 300.1 L137.5 299.95 L137.75 299.78 L138 299.6 L138.25 299.41 L138.5 299.19 L138.75 298.96 L139 298.7 L139.25 298.42 L139.5 298.12 L139.75 297.79 L140 297.43 L140.25 297.05 L140.5 296.63 L140.75 296.18 L141 295.7 L141.25 295.18 L141.5 294.62 L141.75 294.02 L142 293.38 L142.25 292.7 L142.5 291.97 L142.75 291.19 L143 290.37 L143.25 289.5 L143.5 288.57 L143.75 287.6 L144 286.57 L144.25 285.48 L144.5 284.34 L144.75 283.14 L145 281.89 L145.25 280.58 L145.5 279.21 L145.75 277.79 L146 276.31 L146.25 274.77 L146.5 273.18 L146.75 271.53 L147 269.83 L147.25 268.09 L147.5 266.29 L147.75 264.45 L148 262.57 L148.25 260.65 L148.5 258.69 L148.75 256.7 L149 254.68 L149.25 252.64 L149.5 250.58 L149.75 248.51 L150 246.43 L150.25 244.35 L150.5 242.27 L150.75 240.2 L151 238.15 L151.25 236.12 L151.5 234.12 L151.75 232.15 L152 230.22 L152.25 228.35 L152.5 226.52 L152.75 224.76 L153 223.07 L153.25 221.45 L153.5 219.91 L153.75 218.46 L154 217.09 L154.25 215.83 L154.5 214.66 L154.75 213.61 L155 212.66 L155.25 211.83 L155.5 211.12 L155.75 210.52 L156 210.05 L156.25 209.71 L156.5 209.49 L156.75 209.4 L157 209.44 L157.25 209.59 L157.5 209.86 L157.75 210.24 L158 210.74 L158.25 211.35 L158.5 212.07 L158.75 212.9 L159 213.83 L159.25 214.87 L159.5 216 L159.75 217.22 L160 218.53 L160.25 219.92 L160.5 221.39 L160.75 222.94 L161 224.56 L161.25 226.23 L161.5 227.97 L161.75 229.75 L162 231.58 L162.25 233.45 L162.5 235.36 L162.75 237.29 L163 239.25 L163.25 241.22 L163.5 243.21 L163.75 245.2 L164 247.19 L164.25 249.18 L164.5 251.16 L164.75 253.13 L165 255.08 L165.25 257 L165.5 258.9 L165.75 260.77 L166 262.61 L166.25 264.41 L166.5 266.18 L166.75 267.9 L167 269.58 L167.25 271.21 L167.5 272.8 L167.75 274.33 L168 275.82 L168.25 277.26 L168.5 278.64 L168.75 279.97 L169 281.25 L169.25 282.48 L169.5 283.66 L169.75 284.78 L170 285.85 L170.25 286.88 L170.5 287.85 L170.75 288.77 L171 289.65 L171.25 290.47 L171.5 291.26 L171.75 292 L172 292.69 L172.25 293.35 L172.5 293.96 L172.75 294.54 L173 295.08 L173.25 295.58 L173.5 296.06 L173.75 296.5 L174 296.9 L174.25 297.29 L174.5 297.64 L174.75 297.97 L175 298.27 L175.25 298.55 L175.5 298.81 L175.75 299.04 L176 299.26 L176.25 299.46 L176.5 299.65 L176.75 299.82 L177 299.97 L177.25 300.11 L177.5 300.24 L177.75 300.36 L178 300.46 L178.25 300.56 L178.5 300.65 L178.75 300.73 L179 300.8 L179.25 300.86 L179.5 300.92 L179.75 300.97 L180 301.02 L180.25 301.06 L180.5 301.1 L180.75 301.14 L181 301.17 L181.25 301.19 L181.5 301.22 L181.75 301.24 L182 301.26 L182.25 301.28 L182.5 301.29 L182.75 301.3 L183 301.32 L183.25 301.33 L183.5 301.34 L183.75 301.34 L184 301.35 L184.25 301.36 L184.5 301.36 L184.75 301.37 L185 301.37 L185.25 301.38 L185.5 301.38 L185.75 301.38" fill="none" stroke="#2222ee" stroke-width="1.3" stroke-linejoin="round" />
<path d="M128.25 301.4 L128.5 301.4 L128.75 301.4 L129 301.4 L129.25 301.4 L129.5 301.39 L129.75 301.39 L130 301.39 L130.25 301.39 L130.5 301.39 L130.75 301.39 L131 301.38 L131.25 301.38 L131.5 301.37 L131.75 301.37 L132 301.36 L132.25 301.35 L132.5 301.34 L132.75 301.33 L133 301.32 L133.25 301.3 L133.5 301.29 L133.75 301.26 L134 301.24 L134.25 301.21 L134.5 301.18 L134.75 301.14 L135 301.1 L135.25 301.05 L135.5 301 L135.75 300.93 L136 300.86 L136.25 300.78 L136.5 300.7 L136.75 300.6 L137 300.49 L137.25 300.36 L137.5 300.23 L137.75 300.08 L138 299.91 L138.25 299.73 L138.5 299.53 L138.75 299.32 L139 299.09 L139.25 298.84 L139.5 298.57 L139.75 298.29 L140 297.98 L140.25 297.66 L140.5 297.31 L140.75 296.95 L141 296.57 L141.25 296.17 L141.5 295.76 L141.75 295.34 L142 294.9 L142.25 294.45 L142.5 293.99 L142.75 293.52 L143 293.05 L143.25 292.57 L143.5 292.1 L143.75 291.63 L144 291.16 L144.25 290.71 L144.5 290.27 L144.75 289.84 L145 289.44 L145.25 289.05 L145.5 288.69 L145.75 288.36 L146 288.06 L146.25 287.79 L146.5 287.56 L146.75 287.37 L147 287.22 L147.25 287.1 L147.5 287.03 L147.75 287 L148 287.01 L148.25 287.07 L148.5 287.17 L148.75 287.3 L149 287.48 L149.25 287.7 L149.5 287.95 L149.75 288.24 L150 288.56 L150.25 288.9 L150.5 289.28 L150.75 289.68 L151 290.09 L151.25 290.53 L151.5 290.98 L151.75 291.44 L152 291.91 L152.25 292.38 L152.5 292.86 L152.75 293.33 L153 293.8 L153.25 294.26 L153.5 294.72 L153.75 295.16 L154 295.59 L154.25 296.01 L154.5 296.41 L154.75 296.8 L155 297.17 L155.25 297.52 L155.5 297.85 L155.75 298.17 L156 298.46 L156.25 298.74 L156.5 298.99 L156.75 299.23 L157 299.45 L157.25 299.65 L157.5 299.84 L157.75 300.01 L158 300.17 L158.25 300.31 L158.5 300.44 L158.75 300.55 L159 300.66 L159.25 300.75 L159.5 300.83 L159.75 300.91 L160 300.97 L160.25 301.03 L160.5 301.08 L160.75 301.13 L161 301.17 L161.25 301.2 L161.5 301.23 L161.75 301.26 L162 301.28 L162.25 301.3 L162.5 301.31 L162.75 301.33 L163 301.34 L163.25 301.35 L163.5 301.36 L163.75 301.36 L164 301.37 L164.25 301.38 L164.5 301.38 L164.75 301.38 L165 301.39 L165.25 301.39 L165.5 301.39 L165.75 301.39 L166 301.39 L166.25 301.4 L166.5 301.4 L166.75 301.4 L167 301.4 L167.25 301.4 L167.5 301.4 L167.75 301.4 L168 301.4 L168.25 301.4 L168.5 301.4 L168.75 301.4 L169 301.4 L169.25 301.4 L169.5 301.4 L169.75 301.4" fill="none" stroke="#22dddd" stroke-width="1.2" stroke-linejoin="round" />
<path d="M97.5 301.4 L250.8 301.4" fill="none" stroke="#33ccee" stroke-width="1.2" stroke-linejoin="round" />
<path d="M96.45 307.93 a1.55 1.55 0 1 0 3.1 0 a1.55 1.55 0 1 0 -3.1 0 M97.45 308.18 a1.55 1.55 0 1 0 3.1 0 a1.55 1.55 0 1 0 -3.1 0 M98.45 303.67 a1.55 1.55 0 1 0 3.1 0 a1.55 1.55 0 1 0 -3.1 0 M99.45 306.21 a1.55 1.55 0 1 0 3.1 0 a1.55 1.55 0 1 0 -3.1 0 M100.45 306.78 a1.55 1.55 0 1 0 3.1 0 a1.55 1.55 0 1 0 -3.1 0 M101.45 307.02 a1.55 1.55 0 1 0 3.1 0 a1.55 1.55 0 1 0 -3.1 0 M102.45 307.4 a1.55 1.55 0 1 0 3.1 0 a1.55 1.55 0 1 0 -3.1 0 M103.45 305.02 a1.55 1.55 0 1 0 3.1 0 a1.55 1.55 0 1 0 -3.1 0 M104.45 303.6 a1.55 1.55 0 1 0 3.1 0 a1.55 1.55 0 1 0 -3.1 0 M105.45 305.89 a1.55 1.55 0 1 0 3.1 0 a1.55 1.55 0 1 0 -3.1 0 M106.45 304.49 a1.55 1.55 0 1 0 3.1 0 a1.55 1.55 0 1 0 -3.1 0 M107.45 306.32 a1.55 1.55 0 1 0 3.1 0 a1.55 1.55 0 1 0 -3.1 0 M108.45 304.88 a1.55 1.55 0 1 0 3.1 0 a1.55 1.55 0 1 0 -3.1 0 M109.45 305.88 a1.55 1.55 0 1 0 3.1 0 a1.55 1.55 0 1 0 -3.1 0 M110.45 306.09 a1.55 1.55 0 1 0 3.1 0 a1.55 1.55 0 1 0 -3.1 0 M111.45 306.38 a1.55 1.55 0 1 0 3.1 0 a1.55 1.55 0 1 0 -3.1 0 M112.45 305.34 a1.55 1.55 0 1 0 3.1 0 a1.55 1.55 0 1 0 -3.1 0 M113.45 307.71 a1.55 1.55 0 1 0 3.1 0 a1.55 1.55 0 1 0 -3.1 0 M114.45 305.37 a1.55 1.55 0 1 0 3.1 0 a1.55 1.55 0 1 0 -3.1 0 M115.45 305.99 a1.55 1.55 0 1 0 3.1 0 a1.55 1.55 0 1 0 -3.1 0 M116.45 306.79 a1.55 1.55 0 1 0 3.1 0 a1.55 1.55 0 1 0 -3.1 0 M117.45 306.18 a1.55 1.55 0 1 0 3.1 0 a1.55 1.55 0 1 0 -3.1 0 M118.45 307.91 a1.55 1.55 0 1 0 3.1 0 a1.55 1.55 0 1 0 -3.1 0 M119.45 306.01 a1.55 1.55 0 1 0 3.1 0 a1.55 1.55 0 1 0 -3.1 0 M120.45 305.65 a1.55 1.55 0 1 0 3.1 0 a1.55 1.55 0 1 0 -3.1 0 M121.45 307.52 a1.55 1.55 0 1 0 3.1 0 a1.55 1.55 0 1 0 -3.1 0 M122.45 306.83 a1.55 1.55 0 1 0 3.1 0 a1.55 1.55 0 1 0 -3.1 0 M123.45 305.17 a1.55 1.55 0 1 0 3.1 0 a1.55 1.55 0 1 0 -3.1 0 M124.45 305.61 a1.55 1.55 0 1 0 3.1 0 a1.55 1.55 0 1 0 -3.1 0 M125.45 306.47 a1.55 1.55 0 1 0 3.1 0 a1.55 1.55 0 1 0 -3.1 0 M126.45 309.4 a1.55 1.55 0 1 0 3.1 0 a1.55 1.55 0 1 0 -3.1 0 M127.45 308.02 a1.55 1.55 0 1 0 3.1 0 a1.55 1.55 0 1 0 -3.1 0 M128.45 306.2 a1.55 1.55 0 1 0 3.1 0 a1.55 1.55 0 1 0 -3.1 0 M129.45 301.78 a1.55 1.55 0 1 0 3.1 0 a1.55 1.55 0 1 0 -3.1 0 M130.45 305.69 a1.55 1.55 0 1 0 3.1 0 a1.55 1.55 0 1 0 -3.1 0 M131.45 302.12 a1.55 1.55 0 1 0 3.1 0 a1.55 1.55 0 1 0 -3.1 0 M132.45 300.77 a1.55 1.55 0 1 0 3.1 0 a1.55 1.55 0 1 0 -3.1 0 M133.45 301.2 a1.55 1.55 0 1 0 3.1 0 a1.55 1.55 0 1 0 -3.1 0 M134.45 301.32 a1.55 1.55 0 1 0 3.1 0 a1.55 1.55 0 1 0 -3.1 0 M135.45 300.43 a1.55 1.55 0 1 0 3.1 0 a1.55 1.55 0 1 0 -3.1 0 M136.45 303 a1.55 1.55 0 1 0 3.1 0 a1.55 1.55 0 1 0 -3.1 0 M137.45 297.13 a1.55 1.55 0 1 0 3.1 0 a1.55 1.55 0 1 0 -3.1 0 M138.45 293.92 a1.55 1.55 0 1 0 3.1 0 a1.55 1.55 0 1 0 -3.1 0 M139.45 293.8 a1.55 1.55 0 1 0 3.1 0 a1.55 1.55 0 1 0 -3.1 0 M140.45 288.35 a1.55 1.55 0 1 0 3.1 0 a1.55 1.55 0 1 0 -3.1 0 M141.45 282.57 a1.55 1.55 0 1 0 3.1 0 a1.55 1.55 0 1 0 -3.1 0 M142.45 276.21 a1.55 1.55 0 1 0 3.1 0 a1.55 1.55 0 1 0 -3.1 0 M143.45 271.06 a1.55 1.55 0 1 0 3.1 0 a1.55 1.55 0 1 0 -3.1 0 M144.45 266.33 a1.55 1.55 0 1 0 3.1 0 a1.55 1.55 0 1 0 -3.1 0 M145.45 257.57 a1.55 1.55 0 1 0 3.1 0 a1.55 1.55 0 1 0 -3.1 0 M146.45 248.37 a1.55 1.55 0 1 0 3.1 0 a1.55 1.55 0 1 0 -3.1 0 M147.45 242.39 a1.55 1.55 0 1 0 3.1 0 a1.55 1.55 0 1 0 -3.1 0 M148.45 233.69 a1.55 1.55 0 1 0 3.1 0 a1.55 1.55 0 1 0 -3.1 0 M149.45 224.08 a1.55 1.55 0 1 0 3.1 0 a1.55 1.55 0 1 0 -3.1 0 M150.45 220.38 a1.55 1.55 0 1 0 3.1 0 a1.55 1.55 0 1 0 -3.1 0 M151.45 214.14 a1.55 1.55 0 1 0 3.1 0 a1.55 1.55 0 1 0 -3.1 0 M152.45 210.8 a1.55 1.55 0 1 0 3.1 0 a1.55 1.55 0 1 0 -3.1 0 M153.45 204.34 a1.55 1.55 0 1 0 3.1 0 a1.55 1.55 0 1 0 -3.1 0 M154.45 200.27 a1.55 1.55 0 1 0 3.1 0 a1.55 1.55 0 1 0 -3.1 0 M155.45 202.2 a1.55 1.55 0 1 0 3.1 0 a1.55 1.55 0 1 0 -3.1 0 M156.45 205.33 a1.55 1.55 0 1 0 3.1 0 a1.55 1.55 0 1 0 -3.1 0 M157.45 202.11 a1.55 1.55 0 1 0 3.1 0 a1.55 1.55 0 1 0 -3.1 0 M158.45 208.44 a1.55 1.55 0 1 0 3.1 0 a1.55 1.55 0 1 0 -3.1 0 M159.45 209.54 a1.55 1.55 0 1 0 3.1 0 a1.55 1.55 0 1 0 -3.1 0 M160.45 214.6 a1.55 1.55 0 1 0 3.1 0 a1.55 1.55 0 1 0 -3.1 0 M161.45 218.09 a1.55 1.55 0 1 0 3.1 0 a1.55 1.55 0 1 0 -3.1 0 M162.45 221.28 a1.55 1.55 0 1 0 3.1 0 a1.55 1.55 0 1 0 -3.1 0 M163.45 228.6 a1.55 1.55 0 1 0 3.1 0 a1.55 1.55 0 1 0 -3.1 0 M164.45 230.48 a1.55 1.55 0 1 0 3.1 0 a1.55 1.55 0 1 0 -3.1 0 M165.45 235.03 a1.55 1.55 0 1 0 3.1 0 a1.55 1.55 0 1 0 -3.1 0 M166.45 238.72 a1.55 1.55 0 1 0 3.1 0 a1.55 1.55 0 1 0 -3.1 0 M167.45 238.39 a1.55 1.55 0 1 0 3.1 0 a1.55 1.55 0 1 0 -3.1 0 M168.45 243.52 a1.55 1.55 0 1 0 3.1 0 a1.55 1.55 0 1 0 -3.1 0 M169.45 244.93 a1.55 1.55 0 1 0 3.1 0 a1.55 1.55 0 1 0 -3.1 0 M170.45 245.34 a1.55 1.55 0 1 0 3.1 0 a1.55 1.55 0 1 0 -3.1 0 M171.45 246.2 a1.55 1.55 0 1 0 3.1 0 a1.55 1.55 0 1 0 -3.1 0 M172.45 249.15 a1.55 1.55 0 1 0 3.1 0 a1.55 1.55 0 1 0 -3.1 0 M173.45 250.99 a1.55 1.55 0 1 0 3.1 0 a1.55 1.55 0 1 0 -3.1 0 M174.45 251.83 a1.55 1.55 0 1 0 3.1 0 a1.55 1.55 0 1 0 -3.1 0 M175.45 254.42 a1.55 1.55 0 1 0 3.1 0 a1.55 1.55 0 1 0 -3.1 0 M176.45 256.24 a1.55 1.55 0 1 0 3.1 0 a1.55 1.55 0 1 0 -3.1 0 M177.45 255.89 a1.55 1.55 0 1 0 3.1 0 a1.55 1.55 0 1 0 -3.1 0 M178.45 262.87 a1.55 1.55 0 1 0 3.1 0 a1.55 1.55 0 1 0 -3.1 0 M179.45 265.24 a1.55 1.55 0 1 0 3.1 0 a1.55 1.55 0 1 0 -3.1 0 M180.45 264.32 a1.55 1.55 0 1 0 3.1 0 a1.55 1.55 0 1 0 -3.1 0 M181.45 271.85 a1.55 1.55 0 1 0 3.1 0 a1.55 1.55 0 1 0 -3.1 0 M182.45 270.56 a1.55 1.55 0 1 0 3.1 0 a1.55 1.55 0 1 0 -3.1 0 M183.45 272.13 a1.55 1.55 0 1 0 3.1 0 a1.55 1.55 0 1 0 -3.1 0 M184.45 275.09 a1.55 1.55 0 1 0 3.1 0 a1.55 1.55 0 1 0 -3.1 0 M185.45 277.85 a1.55 1.55 0 1 0 3.1 0 a1.55 1.55 0 1 0 -3.1 0 M186.45 275.54 a1.55 1.55 0 1 0 3.1 0 a1.55 1.55 0 1 0 -3.1 0 M187.45 279.3 a1.55 1.55 0 1 0 3.1 0 a1.55 1.55 0 1 0 -3.1 0 M188.45 277.85 a1.55 1.55 0 1 0 3.1 0 a1.55 1.55 0 1 0 -3.1 0 M189.45 276.37 a1.55 1.55 0 1 0 3.1 0 a1.55 1.55 0 1 0 -3.1 0 M190.45 278.21 a1.55 1.55 0 1 0 3.1 0 a1.55 1.55 0 1 0 -3.1 0 M191.45 276.37 a1.55 1.55 0 1 0 3.1 0 a1.55 1.55 0 1 0 -3.1 0 M192.45 277.13 a1.55 1.55 0 1 0 3.1 0 a1.55 1.55 0 1 0 -3.1 0 M193.45 277.01 a1.55 1.55 0 1 0 3.1 0 a1.55 1.55 0 1 0 -3.1 0 M194.45 275.3 a1.55 1.55 0 1 0 3.1 0 a1.55 1.55 0 1 0 -3.1 0 M195.45 272.6 a1.55 1.55 0 1 0 3.1 0 a1.55 1.55 0 1 0 -3.1 0 M196.45 277.48 a1.55 1.55 0 1 0 3.1 0 a1.55 1.55 0 1 0 -3.1 0 M197.45 277.04 a1.55 1.55 0 1 0 3.1 0 a1.55 1.55 0 1 0 -3.1 0 M198.45 276.96 a1.55 1.55 0 1 0 3.1 0 a1.55 1.55 0 1 0 -3.1 0 M199.45 274.79 a1.55 1.55 0 1 0 3.1 0 a1.55 1.55 0 1 0 -3.1 0 M200.45 276.16 a1.55 1.55 0 1 0 3.1 0 a1.55 1.55 0 1 0 -3.1 0 M201.45 276.62 a1.55 1.55 0 1 0 3.1 0 a1.55 1.55 0 1 0 -3.1 0 M202.45 273.72 a1.55 1.55 0 1 0 3.1 0 a1.55 1.55 0 1 0 -3.1 0 M203.45 276.82 a1.55 1.55 0 1 0 3.1 0 a1.55 1.55 0 1 0 -3.1 0 M204.45 278.64 a1.55 1.55 0 1 0 3.1 0 a1.55 1.55 0 1 0 -3.1 0 M205.45 278.35 a1.55 1.55 0 1 0 3.1 0 a1.55 1.55 0 1 0 -3.1 0 M206.45 281.47 a1.55 1.55 0 1 0 3.1 0 a1.55 1.55 0 1 0 -3.1 0 M207.45 283.63 a1.55 1.55 0 1 0 3.1 0 a1.55 1.55 0 1 0 -3.1 0 M208.45 283.88 a1.55 1.55 0 1 0 3.1 0 a1.55 1.55 0 1 0 -3.1 0 M209.45 283.87 a1.55 1.55 0 1 0 3.1 0 a1.55 1.55 0 1 0 -3.1 0 M210.45 289.98 a1.55 1.55 0 1 0 3.1 0 a1.55 1.55 0 1 0 -3.1 0 M211.45 290.65 a1.55 1.55 0 1 0 3.1 0 a1.55 1.55 0 1 0 -3.1 0 M212.45 290.93 a1.55 1.55 0 1 0 3.1 0 a1.55 1.55 0 1 0 -3.1 0 M213.45 293.04 a1.55 1.55 0 1 0 3.1 0 a1.55 1.55 0 1 0 -3.1 0 M214.45 291.04 a1.55 1.55 0 1 0 3.1 0 a1.55 1.55 0 1 0 -3.1 0 M215.45 295.03 a1.55 1.55 0 1 0 3.1 0 a1.55 1.55 0 1 0 -3.1 0 M216.45 295.87 a1.55 1.55 0 1 0 3.1 0 a1.55 1.55 0 1 0 -3.1 0 M217.45 299.9 a1.55 1.55 0 1 0 3.1 0 a1.55 1.55 0 1 0 -3.1 0 M218.45 298.98 a1.55 1.55 0 1 0 3.1 0 a1.55 1.55 0 1 0 -3.1 0 M219.45 298.37 a1.55 1.55 0 1 0 3.1 0 a1.55 1.55 0 1 0 -3.1 0 M220.45 301.65 a1.55 1.55 0 1 0 3.1 0 a1.55 1.55 0 1 0 -3.1 0 M221.45 300.86 a1.55 1.55 0 1 0 3.1 0 a1.55 1.55 0 1 0 -3.1 0 M222.45 299.45 a1.55 1.55 0 1 0 3.1 0 a1.55 1.55 0 1 0 -3.1 0 M223.45 300.16 a1.55 1.55 0 1 0 3.1 0 a1.55 1.55 0 1 0 -3.1 0 M224.45 304.77 a1.55 1.55 0 1 0 3.1 0 a1.55 1.55 0 1 0 -3.1 0 M225.45 300.46 a1.55 1.55 0 1 0 3.1 0 a1.55 1.55 0 1 0 -3.1 0 M226.45 300.78 a1.55 1.55 0 1 0 3.1 0 a1.55 1.55 0 1 0 -3.1 0 M227.45 299.31 a1.55 1.55 0 1 0 3.1 0 a1.55 1.55 0 1 0 -3.1 0 M228.45 298.91 a1.55 1.55 0 1 0 3.1 0 a1.55 1.55 0 1 0 -3.1 0 M229.45 299.85 a1.55 1.55 0 1 0 3.1 0 a1.55 1.55 0 1 0 -3.1 0 M230.45 299.19 a1.55 1.55 0 1 0 3.1 0 a1.55 1.55 0 1 0 -3.1 0 M231.45 299.61 a1.55 1.55 0 1 0 3.1 0 a1.55 1.55 0 1 0 -3.1 0 M232.45 300.34 a1.55 1.55 0 1 0 3.1 0 a1.55 1.55 0 1 0 -3.1 0 M233.45 299.28 a1.55 1.55 0 1 0 3.1 0 a1.55 1.55 0 1 0 -3.1 0 M234.45 299.54 a1.55 1.55 0 1 0 3.1 0 a1.55 1.55 0 1 0 -3.1 0 M235.45 298.18 a1.55 1.55 0 1 0 3.1 0 a1.55 1.55 0 1 0 -3.1 0 M236.45 300.1 a1.55 1.55 0 1 0 3.1 0 a1.55 1.55 0 1 0 -3.1 0 M237.45 300.06 a1.55 1.55 0 1 0 3.1 0 a1.55 1.55 0 1 0 -3.1 0 M238.45 299.51 a1.55 1.55 0 1 0 3.1 0 a1.55 1.55 0 1 0 -3.1 0 M239.45 299.44 a1.55 1.55 0 1 0 3.1 0 a1.55 1.55 0 1 0 -3.1 0 M240.45 300.07 a1.55 1.55 0 1 0 3.1 0 a1.55 1.55 0 1 0 -3.1 0 M241.45 300.03 a1.55 1.55 0 1 0 3.1 0 a1.55 1.55 0 1 0 -3.1 0 M242.45 299.27 a1.55 1.55 0 1 0 3.1 0 a1.55 1.55 0 1 0 -3.1 0 M243.45 299.73 a1.55 1.55 0 1 0 3.1 0 a1.55 1.55 0 1 0 -3.1 0 M244.45 299.39 a1.55 1.55 0 1 0 3.1 0 a1.55 1.55 0 1 0 -3.1 0 M245.45 300.38 a1.55 1.55 0 1 0 3.1 0 a1.55 1.55 0 1 0 -3.1 0 M246.45 299.3 a1.55 1.55 0 1 0 3.1 0 a1.55 1.55 0 1 0 -3.1 0 M247.45 299.65 a1.55 1.55 0 1 0 3.1 0 a1.55 1.55 0 1 0 -3.1 0 " fill="none" stroke="#3030f0" stroke-width="0.95"/>
<path d="M97.5 302.4 L97.75 302.4 L98 302.4 L98.25 302.4 L98.5 302.4 L98.75 302.4 L99 302.4 L99.25 302.4 L99.5 302.4 L99.75 302.4 L100 302.4 L100.25 302.4 L100.5 302.4 L100.75 302.4 L101 302.4 L101.25 302.4 L101.5 302.4 L101.75 302.4 L102 302.4 L102.25 302.4 L102.5 302.4 L102.75 302.4 L103 302.4 L103.25 302.4 L103.5 302.4 L103.75 302.4 L104 302.4 L104.25 302.4 L104.5 302.4 L104.75 302.4 L105 302.4 L105.25 302.4 L105.5 302.4 L105.75 302.4 L106 302.4 L106.25 302.4 L106.5 302.4 L106.75 302.4 L107 302.4 L107.25 302.4 L107.5 302.4 L107.75 302.4 L108 302.4 L108.25 302.4 L108.5 302.4 L108.75 302.4 L109 302.4 L109.25 302.4 L109.5 302.4 L109.75 302.4 L110 302.4 L110.25 302.4 L110.5 302.4 L110.75 302.4 L111 302.4 L111.25 302.4 L111.5 302.4 L111.75 302.4 L112 302.4 L112.25 302.4 L112.5 302.4 L112.75 302.4 L113 302.4 L113.25 302.4 L113.5 302.4 L113.75 302.4 L114 302.4 L114.25 302.4 L114.5 302.4 L114.75 302.4 L115 302.4 L115.25 302.4 L115.5 302.4 L115.75 302.4 L116 302.4 L116.25 302.4 L116.5 302.4 L116.75 302.4 L117 302.4 L117.25 302.4 L117.5 302.4 L117.75 302.4 L118 302.4 L118.25 302.4 L118.5 302.4 L118.75 302.4 L119 302.4 L119.25 302.4 L119.5 302.4 L119.75 302.4 L120 302.4 L120.25 302.4 L120.5 302.4 L120.75 302.4 L121 302.4 L121.25 302.4 L121.5 302.4 L121.75 302.4 L122 302.4 L122.25 302.4 L122.5 302.4 L122.75 302.4 L123 302.4 L123.25 302.4 L123.5 302.4 L123.75 302.4 L124 302.4 L124.25 302.4 L124.5 302.4 L124.75 302.4 L125 302.4 L125.25 302.4 L125.5 302.4 L125.75 302.4 L126 302.4 L126.25 302.4 L126.5 302.4 L126.75 302.4 L127 302.39 L127.25 302.39 L127.5 302.39 L127.75 302.39 L128 302.39 L128.25 302.39 L128.5 302.39 L128.75 302.38 L129 302.38 L129.25 302.38 L129.5 302.37 L129.75 302.37 L130 302.36 L130.25 302.36 L130.5 302.35 L130.75 302.34 L131 302.33 L131.25 302.32 L131.5 302.3 L131.75 302.29 L132 302.27 L132.25 302.24 L132.5 302.22 L132.75 302.19 L133 302.16 L133.25 302.12 L133.5 302.08 L133.75 302.03 L134 301.97 L134.25 301.9 L134.5 301.83 L134.75 301.75 L135 301.66 L135.25 301.55 L135.5 301.43 L135.75 301.3 L136 301.15 L136.25 300.98 L136.5 300.8 L136.75 300.59 L137 300.36 L137.25 300.11 L137.5 299.83 L137.75 299.53 L138 299.19 L138.25 298.82 L138.5 298.41 L138.75 297.97 L139 297.5 L139.25 296.98 L139.5 296.41 L139.75 295.81 L140 295.16 L140.25 294.46 L140.5 293.71 L140.75 292.91 L141 292.06 L141.25 291.15 L141.5 290.19 L141.75 289.18 L142 288.11 L142.25 286.99 L142.5 285.81 L142.75 284.57 L143 283.28 L143.25 281.94 L143.5 280.55 L143.75 279.1 L144 277.6 L144.25 276.06 L144.5 274.47 L144.75 272.84 L145 271.16 L145.25 269.45 L145.5 267.7 L145.75 265.92 L146 264.11 L146.25 262.27 L146.5 260.4 L146.75 258.51 L147 256.61 L147.25 254.69 L147.5 252.75 L147.75 250.81 L148 248.86 L148.25 246.91 L148.5 244.95 L148.75 243 L149 241.06 L149.25 239.12 L149.5 237.2 L149.75 235.29 L150 233.4 L150.25 231.53 L150.5 229.68 L150.75 227.86 L151 226.07 L151.25 224.32 L151.5 222.6 L151.75 220.92 L152 219.29 L152.25 217.71 L152.5 216.18 L152.75 214.7 L153 213.28 L153.25 211.92 L153.5 210.63 L153.75 209.41 L154 208.27 L154.25 207.19 L154.5 206.2 L154.75 205.29 L155 204.46 L155.25 203.72 L155.5 203.07 L155.75 202.51 L156 202.04 L156.25 201.66 L156.5 201.38 L156.75 201.19 L157 201.1 L157.25 201.08 L157.5 201.15 L157.75 201.29 L158 201.52 L158.25 201.82 L158.5 202.19 L158.75 202.64 L159 203.16 L159.25 203.75 L159.5 204.4 L159.75 205.1 L160 205.87 L160.25 206.69 L160.5 207.55 L160.75 208.46 L161 209.41 L161.25 210.4 L161.5 211.42 L161.75 212.47 L162 213.55 L162.25 214.64 L162.5 215.75 L162.75 216.87 L163 218 L163.25 219.14 L163.5 220.27 L163.75 221.41 L164 222.54 L164.25 223.65 L164.5 224.76 L164.75 225.85 L165 226.93 L165.25 227.98 L165.5 229.01 L165.75 230.02 L166 231 L166.25 231.95 L166.5 232.87 L166.75 233.76 L167 234.62 L167.25 235.45 L167.5 236.24 L167.75 237 L168 237.73 L168.25 238.43 L168.5 239.09 L168.75 239.71 L169 240.31 L169.25 240.88 L169.5 241.42 L169.75 241.93 L170 242.41 L170.25 242.87 L170.5 243.31 L170.75 243.73 L171 244.13 L171.25 244.52 L171.5 244.89 L171.75 245.25 L172 245.61 L172.25 245.96 L172.5 246.31 L172.75 246.66 L173 247.02 L173.25 247.37 L173.5 247.74 L173.75 248.12 L174 248.5 L174.25 248.91 L174.5 249.32 L174.75 249.75 L175 250.17 L175.25 250.61 L175.5 251.05 L175.75 251.5 L176 251.96 L176.25 252.43 L176.5 252.92 L176.75 253.41 L177 253.92 L177.25 254.44 L177.5 254.97 L177.75 255.51 L178 256.07 L178.25 256.64 L178.5 257.22 L178.75 257.81 L179 258.4 L179.25 259.01 L179.5 259.63 L179.75 260.25 L180 260.88 L180.25 261.51 L180.5 262.15 L180.75 262.78 L181 263.42 L181.25 264.06 L181.5 264.69 L181.75 265.33 L182 265.95 L182.25 266.57 L182.5 267.18 L182.75 267.78 L183 268.38 L183.25 268.96 L183.5 269.52 L183.75 270.08 L184 270.61 L184.25 271.13 L184.5 271.64 L184.75 272.12 L185 272.59 L185.25 273.03 L185.5 273.46 L185.75 273.86 L186 274.25 L186.25 274.61 L186.5 274.95 L186.75 275.27 L187 275.56 L187.25 275.83 L187.5 276.08 L187.75 276.31 L188 276.52 L188.25 276.7 L188.5 276.86 L188.75 277 L189 277.13 L189.25 277.23 L189.5 277.31 L189.75 277.37 L190 277.41 L190.25 277.44 L190.5 277.45 L190.75 277.44 L191 277.42 L191.25 277.39 L191.5 277.34 L191.75 277.28 L192 277.2 L192.25 277.12 L192.5 277.03 L192.75 276.93 L193 276.82 L193.25 276.71 L193.5 276.59 L193.75 276.46 L194 276.33 L194.25 276.2 L194.5 276.07 L194.75 275.93 L195 275.8 L195.25 275.67 L195.5 275.53 L195.75 275.4 L196 275.28 L196.25 275.16 L196.5 275.04 L196.75 274.93 L197 274.82 L197.25 274.72 L197.5 274.63 L197.75 274.55 L198 274.48 L198.25 274.41 L198.5 274.36 L198.75 274.31 L199 274.28 L199.25 274.25 L199.5 274.24 L199.75 274.24 L200 274.25 L200.25 274.27 L200.5 274.3 L200.75 274.35 L201 274.41 L201.25 274.49 L201.5 274.58 L201.75 274.68 L202 274.8 L202.25 274.93 L202.5 275.08 L202.75 275.24 L203 275.41 L203.25 275.6 L203.5 275.8 L203.75 276.01 L204 276.23 L204.25 276.47 L204.5 276.72 L204.75 276.98 L205 277.25 L205.25 277.53 L205.5 277.83 L205.75 278.13 L206 278.44 L206.25 278.76 L206.5 279.09 L206.75 279.43 L207 279.78 L207.25 280.13 L207.5 280.49 L207.75 280.86 L208 281.23 L208.25 281.61 L208.5 281.99 L208.75 282.38 L209 282.77 L209.25 283.16 L209.5 283.56 L209.75 283.96 L210 284.36 L210.25 284.76 L210.5 285.16 L210.75 285.57 L211 285.97 L211.25 286.37 L211.5 286.77 L211.75 287.17 L212 287.57 L212.25 287.97 L212.5 288.36 L212.75 288.75 L213 289.14 L213.25 289.52 L213.5 289.9 L213.75 290.27 L214 290.64 L214.25 291.01 L214.5 291.37 L214.75 291.72 L215 292.07 L215.25 292.42 L215.5 292.75 L215.75 293.09 L216 293.41 L216.25 293.73 L216.5 294.04 L216.75 294.35 L217 294.65 L217.25 294.94 L217.5 295.22 L217.75 295.5 L218 295.77 L218.25 296.04 L218.5 296.29 L218.75 296.54 L219 296.79 L219.25 297.02 L219.5 297.25 L219.75 297.47 L220 297.69 L220.25 297.9 L220.5 298.1 L220.75 298.29 L221 298.48 L221.25 298.66 L221.5 298.84 L221.75 299.01 L222 299.17 L222.25 299.33 L222.5 299.48 L222.75 299.62 L223 299.76 L223.25 299.89 L223.5 300.02 L223.75 300.15 L224 300.26 L224.25 300.38 L224.5 300.48 L224.75 300.59 L225 300.69 L225.25 300.78 L225.5 300.87 L225.75 300.96 L226 301.04 L226.25 301.12 L226.5 301.19 L226.75 301.26 L227 301.33 L227.25 301.39 L227.5 301.45 L227.75 301.51 L228 301.56 L228.25 301.61 L228.5 301.66 L228.75 301.71 L229 301.75 L229.25 301.79 L229.5 301.83 L229.75 301.87 L230 301.9 L230.25 301.94 L230.5 301.97 L230.75 302 L231 302.02 L231.25 302.05 L231.5 302.07 L231.75 302.09 L232 302.12 L232.25 302.14 L232.5 302.15 L232.75 302.17 L233 302.19 L233.25 302.2 L233.5 302.22 L233.75 302.23 L234 302.24 L234.25 302.25 L234.5 302.27 L234.75 302.28 L235 302.29 L235.25 302.29 L235.5 302.3 L235.75 302.31 L236 302.32 L236.25 302.32 L236.5 302.33 L236.75 302.33 L237 302.34 L237.25 302.34 L237.5 302.35 L237.75 302.35 L238 302.36 L238.25 302.36 L238.5 302.36 L238.75 302.37 L239 302.37 L239.25 302.37 L239.5 302.37 L239.75 302.38 L240 302.38 L240.25 302.38 L240.5 302.38 L240.75 302.38 L241 302.39 L241.25 302.39 L241.5 302.39 L241.75 302.39 L242 302.39 L242.25 302.39 L242.5 302.39 L242.75 302.39 L243 302.39 L243.25 302.39 L243.5 302.39 L243.75 302.39 L244 302.4 L244.25 302.4 L244.5 302.4 L244.75 302.4 L245 302.4 L245.25 302.4 L245.5 302.4 L245.75 302.4 L246 302.4 L246.25 302.4 L246.5 302.4 L246.75 302.4 L247 302.4 L247.25 302.4 L247.5 302.4 L247.75 302.4 L248 302.4 L248.25 302.4 L248.5 302.4 L248.75 302.4 L249 302.4 L249.25 302.4 L249.5 302.4 L249.75 302.4 L250 302.4 L250.25 302.4 L250.5 302.4" fill="none" stroke="#f040f0" stroke-width="1" stroke-linejoin="round" />
<path d="M163.5 234.4 L177.57 217.62" stroke="#111" stroke-width="0.85"/>
<path d="M181.1 213.4 L179.79 219.48 L175.34 215.75 Z" fill="#111"/>
<path d="M175.2 253.7 L184.99 242.96" stroke="#111" stroke-width="0.85"/>
<path d="M188.7 238.9 L187.14 244.92 L182.85 241.01 Z" fill="#111"/>
<path d="M145.3 287.7 L132.95 280.48" stroke="#111" stroke-width="0.85"/>
<path d="M128.2 277.7 L134.41 277.97 L131.48 282.98 Z" fill="#111"/>
<text x="179.2" y="207.8" font-size="10.4" fill="#3c3c3c" font-weight="normal" textLength="15.92" lengthAdjust="spacingAndGlyphs" stroke="#3c3c3c" stroke-width="0.25">C-N</text>
<text x="189.1" y="238.6" font-size="10.4" fill="#3c3c3c" font-weight="normal" textLength="16.48" lengthAdjust="spacingAndGlyphs" stroke="#3c3c3c" stroke-width="0.25">C-O</text>
<text x="195.2" y="268.2" font-size="10.4" fill="#3c3c3c" font-weight="normal" textLength="18.09" lengthAdjust="spacingAndGlyphs" stroke="#3c3c3c" stroke-width="0.25">C=O</text>
<text x="109.7" y="276" font-size="10.4" fill="#3c3c3c" font-weight="normal" textLength="15.82" lengthAdjust="spacingAndGlyphs" stroke="#3c3c3c" stroke-width="0.25">C-C</text>
<rect x="269.9" y="187.6" width="153.4" height="133.7" fill="none" stroke="#7c7c7c" stroke-width="1.1"/>
<path d="M304 321.3 L304 317.9 M338.4 321.3 L338.4 317.9 M372.8 321.3 L372.8 317.9 M407.2 321.3 L407.2 317.9 " stroke="#555" stroke-width="0.9" fill="none"/>
<text x="260" y="334.8" font-size="11.5" fill="#262626" font-weight="normal" textLength="19.19" lengthAdjust="spacingAndGlyphs" stroke="#262626" stroke-width="0.25">404</text>
<text x="328.8" y="334.8" font-size="11.5" fill="#262626" font-weight="normal" textLength="19.19" lengthAdjust="spacingAndGlyphs" stroke="#262626" stroke-width="0.25">400</text>
<text x="397.6" y="334.8" font-size="11.5" fill="#262626" font-weight="normal" textLength="19.19" lengthAdjust="spacingAndGlyphs" stroke="#262626" stroke-width="0.25">396</text>
<text x="289.2" y="350.3" font-size="11.3" fill="#262626" font-weight="normal" textLength="105.09" lengthAdjust="spacingAndGlyphs" stroke="#262626" stroke-width="0.25">Binding energy (eV)</text>
<text transform="translate(263.1 287) rotate(-90)" x="0" y="0" font-size="10.8" fill="#262626" font-weight="normal" textLength="69.58" lengthAdjust="spacingAndGlyphs" stroke="#262626" stroke-width="0.25">Intensity (a.u)</text>
<text x="273.2" y="199.8" font-size="11" fill="#262626" font-weight="normal" textLength="13.93" lengthAdjust="spacingAndGlyphs" stroke="#262626" stroke-width="0.3">(e)</text>
<text x="402.1" y="199" font-size="11.4" fill="#151515" font-weight="normal" textLength="6.52" lengthAdjust="spacingAndGlyphs" stroke="#151515" stroke-width="0.45">N</text>
<text x="411.4" y="199" font-size="11.4" fill="#151515" font-weight="normal" textLength="10.61" lengthAdjust="spacingAndGlyphs" stroke="#151515" stroke-width="0.45">1s</text>
<path d="M270.3 319.2 L422.5 319.2" fill="none" stroke="#22dddd" stroke-width="1.2" stroke-linejoin="round" />
<path d="M338 318.9 L392 318.9" fill="none" stroke="#ee2222" stroke-width="1.2" stroke-linejoin="round" />
<path d="M270.25 316.62 L270.5 316.55 L270.75 316.49 L271 316.43 L271.25 316.36 L271.5 316.3 L271.75 316.23 L272 316.16 L272.25 316.09 L272.5 316.02 L272.75 315.94 L273 315.87 L273.25 315.79 L273.5 315.72 L273.75 315.64 L274 315.56 L274.25 315.48 L274.5 315.4 L274.75 315.31 L275 315.23 L275.25 315.14 L275.5 315.05 L275.75 314.96 L276 314.87 L276.25 314.78 L276.5 314.69 L276.75 314.59 L277 314.49 L277.25 314.4 L277.5 314.3 L277.75 314.19 L278 314.09 L278.25 313.99 L278.5 313.88 L278.75 313.77 L279 313.66 L279.25 313.55 L279.5 313.44 L279.75 313.33 L280 313.21 L280.25 313.09 L280.5 312.97 L280.75 312.85 L281 312.73 L281.25 312.61 L281.5 312.48 L281.75 312.36 L282 312.23 L282.25 312.1 L282.5 311.96 L282.75 311.83 L283 311.7 L283.25 311.56 L283.5 311.42 L283.75 311.28 L284 311.14 L284.25 310.99 L284.5 310.85 L284.75 310.7 L285 310.55 L285.25 310.4 L285.5 310.25 L285.75 310.1 L286 309.94 L286.25 309.79 L286.5 309.63 L286.75 309.47 L287 309.31 L287.25 309.14 L287.5 308.98 L287.75 308.81 L288 308.64 L288.25 308.47 L288.5 308.3 L288.75 308.13 L289 307.96 L289.25 307.78 L289.5 307.61 L289.75 307.43 L290 307.25 L290.25 307.07 L290.5 306.88 L290.75 306.7 L291 306.51 L291.25 306.33 L291.5 306.14 L291.75 305.95 L292 305.76 L292.25 305.57 L292.5 305.37 L292.75 305.18 L293 304.98 L293.25 304.79 L293.5 304.59 L293.75 304.39 L294 304.19 L294.25 303.99 L294.5 303.79 L294.75 303.58 L295 303.38 L295.25 303.17 L295.5 302.97 L295.75 302.76 L296 302.55 L296.25 302.34 L296.5 302.14 L296.75 301.93 L297 301.71 L297.25 301.5 L297.5 301.29 L297.75 301.08 L298 300.87 L298.25 300.65 L298.5 300.44 L298.75 300.22 L299 300.01 L299.25 299.79 L299.5 299.58 L299.75 299.36 L300 299.15 L300.25 298.93 L300.5 298.72 L300.75 298.5 L301 298.28 L301.25 298.07 L301.5 297.85 L301.75 297.64 L302 297.42 L302.25 297.2 L302.5 296.99 L302.75 296.78 L303 296.56 L303.25 296.35 L303.5 296.13 L303.75 295.92 L304 295.71 L304.25 295.5 L304.5 295.28 L304.75 295.07 L305 294.87 L305.25 294.66 L305.5 294.45 L305.75 294.24 L306 294.04 L306.25 293.83 L306.5 293.63 L306.75 293.42 L307 293.22 L307.25 293.02 L307.5 292.82 L307.75 292.63 L308 292.43 L308.25 292.24 L308.5 292.04 L308.75 291.85 L309 291.66 L309.25 291.48 L309.5 291.29 L309.75 291.1 L310 290.92 L310.25 290.74 L310.5 290.56 L310.75 290.39 L311 290.21 L311.25 290.04 L311.5 289.87 L311.75 289.7 L312 289.53 L312.25 289.37 L312.5 289.21 L312.75 289.05 L313 288.89 L313.25 288.74 L313.5 288.59 L313.75 288.44 L314 288.29 L314.25 288.15 L314.5 288.01 L314.75 287.87 L315 287.74 L315.25 287.6 L315.5 287.47 L315.75 287.35 L316 287.22 L316.25 287.1 L316.5 286.99 L316.75 286.87 L317 286.76 L317.25 286.65 L317.5 286.55 L317.75 286.44 L318 286.35 L318.25 286.25 L318.5 286.16 L318.75 286.07 L319 285.98 L319.25 285.9 L319.5 285.82 L319.75 285.75 L320 285.68 L320.25 285.61 L320.5 285.54 L320.75 285.48 L321 285.43 L321.25 285.37 L321.5 285.32 L321.75 285.28 L322 285.23 L322.25 285.19 L322.5 285.16 L322.75 285.12 L323 285.1 L323.25 285.07 L323.5 285.05 L323.75 285.03 L324 285.02 L324.25 285.01 L324.5 285 L324.75 285 L325 285 L325.25 285.01 L325.5 285.01 L325.75 285.03 L326 285.04 L326.25 285.06 L326.5 285.09 L326.75 285.11 L327 285.14 L327.25 285.18 L327.5 285.22 L327.75 285.26 L328 285.3 L328.25 285.35 L328.5 285.4 L328.75 285.46 L329 285.52 L329.25 285.58 L329.5 285.65 L329.75 285.72 L330 285.79 L330.25 285.87 L330.5 285.95 L330.75 286.04 L331 286.12 L331.25 286.21 L331.5 286.31 L331.75 286.4 L332 286.5 L332.25 286.61 L332.5 286.72 L332.75 286.83 L333 286.94 L333.25 287.06 L333.5 287.17 L333.75 287.3 L334 287.42 L334.25 287.55 L334.5 287.68 L334.75 287.82 L335 287.95 L335.25 288.09 L335.5 288.24 L335.75 288.38 L336 288.53 L336.25 288.68 L336.5 288.83 L336.75 288.99 L337 289.15 L337.25 289.31 L337.5 289.47 L337.75 289.63 L338 289.8 L338.25 289.97 L338.5 290.14 L338.75 290.32 L339 290.49 L339.25 290.67 L339.5 290.85 L339.75 291.03 L340 291.21 L340.25 291.4 L340.5 291.59 L340.75 291.78 L341 291.97 L341.25 292.16 L341.5 292.35 L341.75 292.55 L342 292.75 L342.25 292.94 L342.5 293.14 L342.75 293.34 L343 293.55 L343.25 293.75 L343.5 293.95 L343.75 294.16 L344 294.37 L344.25 294.57 L344.5 294.78 L344.75 294.99 L345 295.2 L345.25 295.41 L345.5 295.62 L345.75 295.84 L346 296.05 L346.25 296.26 L346.5 296.47 L346.75 296.69 L347 296.9 L347.25 297.12 L347.5 297.33 L347.75 297.55 L348 297.77 L348.25 297.98 L348.5 298.2 L348.75 298.41 L349 298.63 L349.25 298.85 L349.5 299.06 L349.75 299.28 L350 299.49 L350.25 299.71 L350.5 299.92 L350.75 300.14 L351 300.35 L351.25 300.57 L351.5 300.78 L351.75 300.99 L352 301.21 L352.25 301.42 L352.5 301.63 L352.75 301.84 L353 302.05 L353.25 302.26 L353.5 302.47 L353.75 302.68 L354 302.88 L354.25 303.09 L354.5 303.3 L354.75 303.5 L355 303.7 L355.25 303.91 L355.5 304.11 L355.75 304.31 L356 304.51 L356.25 304.71 L356.5 304.9 L356.75 305.1 L357 305.3 L357.25 305.49 L357.5 305.68 L357.75 305.87 L358 306.06 L358.25 306.25 L358.5 306.44 L358.75 306.63 L359 306.81 L359.25 306.99 L359.5 307.17 L359.75 307.36 L360 307.53 L360.25 307.71 L360.5 307.89 L360.75 308.06 L361 308.24 L361.25 308.41 L361.5 308.58 L361.75 308.75 L362 308.91 L362.25 309.08 L362.5 309.24 L362.75 309.4 L363 309.56 L363.25 309.72 L363.5 309.88 L363.75 310.04 L364 310.19 L364.25 310.34 L364.5 310.49 L364.75 310.64 L365 310.79 L365.25 310.94 L365.5 311.08 L365.75 311.22 L366 311.36 L366.25 311.5 L366.5 311.64 L366.75 311.78 L367 311.91 L367.25 312.04 L367.5 312.17 L367.75 312.3 L368 312.43 L368.25 312.56 L368.5 312.68 L368.75 312.81 L369 312.93 L369.25 313.05 L369.5 313.16 L369.75 313.28 L370 313.39 L370.25 313.51 L370.5 313.62 L370.75 313.73 L371 313.84 L371.25 313.94 L371.5 314.05 L371.75 314.15 L372 314.26 L372.25 314.36 L372.5 314.45 L372.75 314.55 L373 314.65 L373.25 314.74 L373.5 314.84 L373.75 314.93 L374 315.02 L374.25 315.11 L374.5 315.19 L374.75 315.28 L375 315.36 L375.25 315.45 L375.5 315.53 L375.75 315.61 L376 315.69 L376.25 315.76 L376.5 315.84 L376.75 315.91 L377 315.99 L377.25 316.06 L377.5 316.13 L377.75 316.2 L378 316.27 L378.25 316.34 L378.5 316.4 L378.75 316.47 L379 316.53 L379.25 316.59 L379.5 316.65 L379.75 316.71 L380 316.77 L380.25 316.83 L380.5 316.89 L380.75 316.94 L381 317 L381.25 317.05 L381.5 317.1 L381.75 317.15 L382 317.2 L382.25 317.25 L382.5 317.3 L382.75 317.35 L383 317.39 L383.25 317.44 L383.5 317.48 L383.75 317.53 L384 317.57 L384.25 317.61 L384.5 317.65 L384.75 317.69 L385 317.73 L385.25 317.77 L385.5 317.8 L385.75 317.84 L386 317.88 L386.25 317.91 L386.5 317.94 L386.75 317.98 L387 318.01 L387.25 318.04 L387.5 318.07 L387.75 318.1 L388 318.13 L388.25 318.16 L388.5 318.19 L388.75 318.22 L389 318.24 L389.25 318.27 L389.5 318.3 L389.75 318.32 L390 318.35 L390.25 318.37 L390.5 318.39 L390.75 318.42 L391 318.44 L391.25 318.46 L391.5 318.48 L391.75 318.5 L392 318.52 L392.25 318.54 L392.5 318.56 L392.75 318.58 L393 318.6 L393.25 318.61 L393.5 318.63 L393.75 318.65 L394 318.66 L394.25 318.68 L394.5 318.7 L394.75 318.71 L395 318.73 L395.25 318.74 L395.5 318.75 L395.75 318.77 L396 318.78 L396.25 318.79 L396.5 318.81 L396.75 318.82 L397 318.83 L397.25 318.84 L397.5 318.85 L397.75 318.86 L398 318.87 L398.25 318.88 L398.5 318.89 L398.75 318.9 L399 318.91 L399.25 318.92 L399.5 318.93 L399.75 318.94 L400 318.95 L400.25 318.96 L400.5 318.96 L400.75 318.97 L401 318.98 L401.25 318.99 L401.5 318.99 L401.75 319 L402 319.01 L402.25 319.01 L402.5 319.02 L402.75 319.02 L403 319.03 L403.25 319.04 L403.5 319.04 L403.75 319.05 L404 319.05 L404.25 319.06 L404.5 319.06 L404.75 319.07 L405 319.07 L405.25 319.08 L405.5 319.08 L405.75 319.08 L406 319.09 L406.25 319.09 L406.5 319.1 L406.75 319.1 L407 319.1 L407.25 319.11 L407.5 319.11 L407.75 319.11 L408 319.12 L408.25 319.12 L408.5 319.12 L408.75 319.12 L409 319.13 L409.25 319.13 L409.5 319.13 L409.75 319.13 L410 319.14 L410.25 319.14 L410.5 319.14 L410.75 319.14 L411 319.15 L411.25 319.15 L411.5 319.15 L411.75 319.15 L412 319.15 L412.25 319.16 L412.5 319.16 L412.75 319.16 L413 319.16 L413.25 319.16 L413.5 319.16 L413.75 319.16 L414 319.17 L414.25 319.17 L414.5 319.17 L414.75 319.17 L415 319.17 L415.25 319.17 L415.5 319.17 L415.75 319.17 L416 319.17 L416.25 319.18 L416.5 319.18 L416.75 319.18 L417 319.18 L417.25 319.18 L417.5 319.18 L417.75 319.18 L418 319.18 L418.25 319.18 L418.5 319.18 L418.75 319.18 L419 319.18 L419.25 319.19 L419.5 319.19 L419.75 319.19 L420 319.19 L420.25 319.19 L420.5 319.19 L420.75 319.19 L421 319.19 L421.25 319.19 L421.5 319.19 L421.75 319.19 L422 319.19 L422.25 319.19" fill="none" stroke="#22dd22" stroke-width="1.2" stroke-linejoin="round" />
<path d="M335.25 319.17 L335.5 319.17 L335.75 319.16 L336 319.16 L336.25 319.16 L336.5 319.15 L336.75 319.15 L337 319.15 L337.25 319.14 L337.5 319.14 L337.75 319.13 L338 319.13 L338.25 319.12 L338.5 319.11 L338.75 319.11 L339 319.1 L339.25 319.09 L339.5 319.08 L339.75 319.07 L340 319.06 L340.25 319.05 L340.5 319.04 L340.75 319.03 L341 319.02 L341.25 319 L341.5 318.99 L341.75 318.98 L342 318.96 L342.25 318.94 L342.5 318.93 L342.75 318.91 L343 318.89 L343.25 318.87 L343.5 318.84 L343.75 318.82 L344 318.8 L344.25 318.77 L344.5 318.74 L344.75 318.72 L345 318.69 L345.25 318.65 L345.5 318.62 L345.75 318.59 L346 318.55 L346.25 318.51 L346.5 318.48 L346.75 318.43 L347 318.39 L347.25 318.35 L347.5 318.3 L347.75 318.25 L348 318.2 L348.25 318.15 L348.5 318.1 L348.75 318.04 L349 317.99 L349.25 317.93 L349.5 317.86 L349.75 317.8 L350 317.74 L350.25 317.67 L350.5 317.6 L350.75 317.53 L351 317.45 L351.25 317.38 L351.5 317.3 L351.75 317.22 L352 317.14 L352.25 317.06 L352.5 316.97 L352.75 316.88 L353 316.8 L353.25 316.71 L353.5 316.61 L353.75 316.52 L354 316.43 L354.25 316.33 L354.5 316.23 L354.75 316.14 L355 316.04 L355.25 315.94 L355.5 315.83 L355.75 315.73 L356 315.63 L356.25 315.53 L356.5 315.42 L356.75 315.32 L357 315.22 L357.25 315.11 L357.5 315.01 L357.75 314.91 L358 314.8 L358.25 314.7 L358.5 314.6 L358.75 314.5 L359 314.4 L359.25 314.3 L359.5 314.21 L359.75 314.11 L360 314.02 L360.25 313.93 L360.5 313.84 L360.75 313.75 L361 313.67 L361.25 313.59 L361.5 313.51 L361.75 313.43 L362 313.36 L362.25 313.29 L362.5 313.23 L362.75 313.16 L363 313.1 L363.25 313.05 L363.5 313 L363.75 312.95 L364 312.9 L364.25 312.86 L364.5 312.83 L364.75 312.8 L365 312.77 L365.25 312.75 L365.5 312.73 L365.75 312.72 L366 312.71 L366.25 312.7 L366.5 312.7 L366.75 312.7 L367 312.71 L367.25 312.73 L367.5 312.74 L367.75 312.77 L368 312.79 L368.25 312.82 L368.5 312.86 L368.75 312.9 L369 312.94 L369.25 312.99 L369.5 313.04 L369.75 313.09 L370 313.15 L370.25 313.21 L370.5 313.28 L370.75 313.35 L371 313.42 L371.25 313.49 L371.5 313.57 L371.75 313.65 L372 313.74 L372.25 313.82 L372.5 313.91 L372.75 314 L373 314.09 L373.25 314.19 L373.5 314.28 L373.75 314.38 L374 314.48 L374.25 314.58 L374.5 314.68 L374.75 314.78 L375 314.89 L375.25 314.99 L375.5 315.09 L375.75 315.2 L376 315.3 L376.25 315.4 L376.5 315.51 L376.75 315.61 L377 315.71 L377.25 315.81 L377.5 315.92 L377.75 316.02 L378 316.12 L378.25 316.21 L378.5 316.31 L378.75 316.41 L379 316.5 L379.25 316.6 L379.5 316.69 L379.75 316.78 L380 316.87 L380.25 316.95 L380.5 317.04 L380.75 317.12 L381 317.2 L381.25 317.28 L381.5 317.36 L381.75 317.44 L382 317.51 L382.25 317.58 L382.5 317.65 L382.75 317.72 L383 317.79 L383.25 317.85 L383.5 317.91 L383.75 317.97 L384 318.03 L384.25 318.09 L384.5 318.14 L384.75 318.19 L385 318.24 L385.25 318.29 L385.5 318.34 L385.75 318.38 L386 318.43 L386.25 318.47 L386.5 318.51 L386.75 318.54 L387 318.58 L387.25 318.62 L387.5 318.65 L387.75 318.68 L388 318.71 L388.25 318.74 L388.5 318.77 L388.75 318.79 L389 318.82 L389.25 318.84 L389.5 318.86 L389.75 318.88 L390 318.9 L390.25 318.92 L390.5 318.94 L390.75 318.96 L391 318.97 L391.25 318.99 L391.5 319 L391.75 319.02 L392 319.03 L392.25 319.04 L392.5 319.05 L392.75 319.06 L393 319.07 L393.25 319.08 L393.5 319.09 L393.75 319.1 L394 319.1 L394.25 319.11 L394.5 319.12 L394.75 319.12 L395 319.13 L395.25 319.14 L395.5 319.14 L395.75 319.15 L396 319.15 L396.25 319.15 L396.5 319.16 L396.75 319.16 L397 319.16 L397.25 319.17 L397.5 319.17 L397.75 319.17 L398 319.17 L398.25 319.18 L398.5 319.18 L398.75 319.18 L399 319.18 L399.25 319.18 L399.5 319.18 L399.75 319.19" fill="none" stroke="#22dddd" stroke-width="1.1" stroke-linejoin="round" />
<path d="M303.25 318.63 L303.5 318.6 L303.75 318.56 L304 318.52 L304.25 318.48 L304.5 318.43 L304.75 318.39 L305 318.34 L305.25 318.28 L305.5 318.23 L305.75 318.17 L306 318.11 L306.25 318.05 L306.5 317.98 L306.75 317.91 L307 317.83 L307.25 317.75 L307.5 317.67 L307.75 317.59 L308 317.5 L308.25 317.4 L308.5 317.3 L308.75 317.2 L309 317.09 L309.25 316.97 L309.5 316.86 L309.75 316.73 L310 316.6 L310.25 316.46 L310.5 316.32 L310.75 316.17 L311 316.02 L311.25 315.86 L311.5 315.69 L311.75 315.51 L312 315.33 L312.25 315.14 L312.5 314.94 L312.75 314.74 L313 314.52 L313.25 314.3 L313.5 314.07 L313.75 313.83 L314 313.58 L314.25 313.32 L314.5 313.05 L314.75 312.77 L315 312.48 L315.25 312.19 L315.5 311.88 L315.75 311.56 L316 311.23 L316.25 310.89 L316.5 310.53 L316.75 310.17 L317 309.79 L317.25 309.41 L317.5 309.01 L317.75 308.59 L318 308.17 L318.25 307.73 L318.5 307.28 L318.75 306.82 L319 306.34 L319.25 305.85 L319.5 305.35 L319.75 304.84 L320 304.31 L320.25 303.76 L320.5 303.21 L320.75 302.64 L321 302.05 L321.25 301.45 L321.5 300.84 L321.75 300.22 L322 299.58 L322.25 298.92 L322.5 298.25 L322.75 297.57 L323 296.88 L323.25 296.17 L323.5 295.45 L323.75 294.71 L324 293.96 L324.25 293.2 L324.5 292.43 L324.75 291.64 L325 290.84 L325.25 290.03 L325.5 289.21 L325.75 288.38 L326 287.53 L326.25 286.68 L326.5 285.81 L326.75 284.93 L327 284.05 L327.25 283.15 L327.5 282.25 L327.75 281.34 L328 280.42 L328.25 279.49 L328.5 278.56 L328.75 277.62 L329 276.68 L329.25 275.73 L329.5 274.77 L329.75 273.81 L330 272.85 L330.25 271.89 L330.5 270.93 L330.75 269.96 L331 269 L331.25 268.03 L331.5 267.07 L331.75 266.11 L332 265.15 L332.25 264.19 L332.5 263.24 L332.75 262.3 L333 261.36 L333.25 260.43 L333.5 259.5 L333.75 258.59 L334 257.68 L334.25 256.78 L334.5 255.9 L334.75 255.03 L335 254.17 L335.25 253.32 L335.5 252.49 L335.75 251.67 L336 250.87 L336.25 250.09 L336.5 249.32 L336.75 248.57 L337 247.84 L337.25 247.14 L337.5 246.45 L337.75 245.78 L338 245.14 L338.25 244.52 L338.5 243.92 L338.75 243.35 L339 242.8 L339.25 242.27 L339.5 241.78 L339.75 241.3 L340 240.86 L340.25 240.44 L340.5 240.06 L340.75 239.7 L341 239.36 L341.25 239.06 L341.5 238.79 L341.75 238.55 L342 238.33 L342.25 238.15 L342.5 238 L342.75 237.88 L343 237.79 L343.25 237.73 L343.5 237.7 L343.75 237.71 L344 237.74 L344.25 237.79 L344.5 237.88 L344.75 238 L345 238.14 L345.25 238.31 L345.5 238.5 L345.75 238.73 L346 238.98 L346.25 239.26 L346.5 239.56 L346.75 239.89 L347 240.24 L347.25 240.63 L347.5 241.03 L347.75 241.46 L348 241.92 L348.25 242.39 L348.5 242.9 L348.75 243.42 L349 243.97 L349.25 244.53 L349.5 245.12 L349.75 245.73 L350 246.36 L350.25 247.01 L350.5 247.68 L350.75 248.37 L351 249.07 L351.25 249.79 L351.5 250.53 L351.75 251.28 L352 252.04 L352.25 252.82 L352.5 253.62 L352.75 254.43 L353 255.24 L353.25 256.07 L353.5 256.92 L353.75 257.77 L354 258.63 L354.25 259.49 L354.5 260.37 L354.75 261.25 L355 262.14 L355.25 263.04 L355.5 263.94 L355.75 264.84 L356 265.75 L356.25 266.66 L356.5 267.57 L356.75 268.49 L357 269.4 L357.25 270.32 L357.5 271.23 L357.75 272.15 L358 273.06 L358.25 273.97 L358.5 274.88 L358.75 275.78 L359 276.68 L359.25 277.58 L359.5 278.47 L359.75 279.35 L360 280.23 L360.25 281.11 L360.5 281.97 L360.75 282.83 L361 283.68 L361.25 284.53 L361.5 285.36 L361.75 286.19 L362 287.01 L362.25 287.81 L362.5 288.61 L362.75 289.4 L363 290.18 L363.25 290.94 L363.5 291.7 L363.75 292.45 L364 293.18 L364.25 293.9 L364.5 294.61 L364.75 295.31 L365 296 L365.25 296.67 L365.5 297.34 L365.75 297.99 L366 298.63 L366.25 299.25 L366.5 299.87 L366.75 300.47 L367 301.06 L367.25 301.63 L367.5 302.2 L367.75 302.75 L368 303.29 L368.25 303.81 L368.5 304.33 L368.75 304.83 L369 305.32 L369.25 305.8 L369.5 306.26 L369.75 306.71 L370 307.16 L370.25 307.59 L370.5 308.01 L370.75 308.41 L371 308.81 L371.25 309.19 L371.5 309.57 L371.75 309.93 L372 310.28 L372.25 310.63 L372.5 310.96 L372.75 311.28 L373 311.59 L373.25 311.89 L373.5 312.19 L373.75 312.47 L374 312.74 L374.25 313.01 L374.5 313.26 L374.75 313.51 L375 313.75 L375.25 313.98 L375.5 314.2 L375.75 314.42 L376 314.63 L376.25 314.82 L376.5 315.02 L376.75 315.2 L377 315.38 L377.25 315.55 L377.5 315.72 L377.75 315.88 L378 316.03 L378.25 316.18 L378.5 316.32 L378.75 316.45 L379 316.58 L379.25 316.71 L379.5 316.83 L379.75 316.94 L380 317.05 L380.25 317.15 L380.5 317.26 L380.75 317.35 L381 317.44 L381.25 317.53 L381.5 317.62 L381.75 317.7 L382 317.77 L382.25 317.85 L382.5 317.92 L382.75 317.98 L383 318.05 L383.25 318.11 L383.5 318.17 L383.75 318.22 L384 318.27 L384.25 318.32 L384.5 318.37 L384.75 318.42 L385 318.46 L385.25 318.5 L385.5 318.54 L385.75 318.58 L386 318.61 L386.25 318.65 L386.5 318.68 L386.75 318.71 L387 318.74 L387.25 318.76 L387.5 318.79 L387.75 318.81 L388 318.83 L388.25 318.86 L388.5 318.88 L388.75 318.9 L389 318.91 L389.25 318.93 L389.5 318.95 L389.75 318.96 L390 318.98 L390.25 318.99 L390.5 319 L390.75 319.02 L391 319.03 L391.25 319.04 L391.5 319.05 L391.75 319.06" fill="none" stroke="#2222ee" stroke-width="1.3" stroke-linejoin="round" />
<path d="M270.25 316.84 L270.5 316.76 L270.75 316.67 L271 316.58 L271.25 316.49 L271.5 316.4 L271.75 316.27 L272 316.13 L272.25 316 L272.5 315.87 L272.75 315.73 L273 315.6 L273.25 315.47 L273.5 315.33 L273.75 315.2 L274 315.07 L274.25 314.93 L274.5 314.8 L274.75 314.67 L275 314.54 L275.25 314.41 L275.5 314.28 L275.75 314.15 L276 314.02 L276.25 313.89 L276.5 313.76 L276.75 313.63 L277 313.51 L277.25 313.38 L277.5 313.25 L277.75 313.12 L278 313 L278.25 312.88 L278.5 312.75 L278.75 312.62 L279 312.5 L279.25 312.38 L279.5 312.25 L279.75 312.12 L280 312 L280.25 311.88 L280.5 311.75 L280.75 311.62 L281 311.5 L281.25 311.38 L281.5 311.25 L281.75 311.12 L282 311 L282.25 310.88 L282.5 310.75 L282.75 310.62 L283 310.5 L283.25 310.38 L283.5 310.25 L283.75 310.12 L284 310 L284.25 309.88 L284.5 309.75 L284.75 309.62 L285 309.5 L285.25 309.38 L285.5 309.25 L285.75 309.12 L286 309 L286.25 308.88 L286.5 308.75 L286.75 308.62 L287 308.5 L287.25 308.38 L287.5 308.25 L287.75 308.12 L288 308 L288.25 307.88 L288.5 307.75 L288.75 307.62 L289 307.5 L289.25 307.38 L289.5 307.25 L289.75 307.12 L290 307 L290.25 306.88 L290.5 306.75 L290.75 306.62 L291 306.5 L291.25 306.38 L291.5 306.25 L291.75 306.12 L292 306 L292.25 305.88 L292.5 305.75 L292.75 305.62 L293 305.5 L293.25 305.38 L293.5 305.25 L293.75 305.12 L294 305 L294.25 304.88 L294.5 304.75 L294.75 304.62 L295 304.5 L295.25 304.38 L295.5 304.25 L295.75 304.12 L296 304 L296.25 303.88 L296.5 303.75 L296.75 303.62 L297 303.5 L297.25 303.38 L297.5 303.25 L297.75 303.12 L298 303 L298.25 302.88 L298.5 302.75 L298.75 302.57 L299 302.38 L299.25 302.2 L299.5 302.02 L299.75 301.83 L300 301.65 L300.25 301.41 L300.5 301.17 L300.75 300.93 L301 300.68 L301.25 300.44 L301.5 300.2 L301.75 299.9 L302 299.6 L302.25 299.3 L302.5 299 L302.75 298.7 L303 298.4 L303.25 298.1 L303.5 297.8 L303.75 297.5 L304 297.2 L304.25 296.9 L304.5 296.6 L304.75 296.3 L305 296 L305.25 295.7 L305.5 295.4 L305.75 295.1 L306 294.8 L306.25 294.5 L306.5 294.2 L306.75 293.9 L307 293.6 L307.25 293.3 L307.5 293 L307.75 292.7 L308 292.4 L308.25 292.1 L308.5 291.8 L308.75 291.43 L309 291.07 L309.25 290.7 L309.5 290.33 L309.75 289.97 L310 289.6 L310.25 289.17 L310.5 288.73 L310.75 288.3 L311 287.87 L311.25 287.43 L311.5 287 L311.75 286.5 L312 286 L312.25 285.5 L312.5 285 L312.75 284.5 L313 284 L313.25 283.5 L313.5 283 L313.75 282.43 L314 281.86 L314.25 281.29 L314.5 280.72 L314.75 280.15 L315 279.58 L315.25 278.94 L315.5 278.31 L315.75 277.67 L316 277.03 L316.25 276.39 L316.5 275.75 L316.75 275.04 L317 274.33 L317.25 273.62 L317.5 272.92 L317.75 272.21 L318 271.5 L318.25 270.79 L318.5 270.08 L318.75 269.38 L319 268.67 L319.25 267.96 L319.5 267.25 L319.75 266.55 L320 265.86 L320.25 265.16 L320.5 264.47 L320.75 263.77 L321 263.08 L321.25 262.39 L321.5 261.71 L321.75 261.03 L322 260.34 L322.25 259.66 L322.5 258.98 L322.75 258.31 L323 257.64 L323.25 256.97 L323.5 256.3 L323.75 255.63 L324 254.95 L324.25 254.28 L324.5 253.61 L324.75 252.94 L325 252.27 L325.25 251.6 L325.5 250.93 L325.75 250.26 L326 249.59 L326.25 248.94 L326.5 248.3 L326.75 247.65 L327 247.01 L327.25 246.37 L327.5 245.73 L327.75 245.1 L328 244.49 L328.25 243.88 L328.5 243.26 L328.75 242.65 L329 242.04 L329.25 241.44 L329.5 240.86 L329.75 240.27 L330 239.69 L330.25 239.1 L330.5 238.52 L330.75 237.94 L331 237.35 L331.25 236.77 L331.5 236.18 L331.75 235.6 L332 235.01 L332.25 234.43 L332.5 233.84 L332.75 233.26 L333 232.68 L333.25 232.09 L333.5 231.51 L333.75 230.9 L334 230.29 L334.25 229.68 L334.5 229.07 L334.75 228.46 L335 227.85 L335.25 227.22 L335.5 226.58 L335.75 225.95 L336 225.32 L336.25 224.68 L336.5 224.05 L336.75 223.39 L337 222.73 L337.25 222.07 L337.5 221.41 L337.75 220.75 L338 220.09 L338.25 219.44 L338.5 218.78 L338.75 218.12 L339 217.46 L339.25 216.8 L339.5 216.14 L339.75 215.48 L340 214.82 L340.25 214.17 L340.5 213.51 L340.75 212.85 L341 212.39 L341.25 212.24 L341.5 212.08 L341.75 211.93 L342 211.77 L342.25 211.62 L342.5 211.66 L342.75 212.01 L343 212.36 L343.25 212.71 L343.5 213.06 L343.75 213.4 L344 213.95 L344.25 214.81 L344.5 215.66 L344.75 216.51 L345 217.36 L345.25 218.22 L345.5 219.07 L345.75 219.92 L346 220.77 L346.25 221.63 L346.5 222.48 L346.75 223.33 L347 224.18 L347.25 225.03 L347.5 225.89 L347.75 226.7 L348 227.52 L348.25 228.33 L348.5 229.15 L348.75 229.96 L349 230.77 L349.25 231.55 L349.5 232.33 L349.75 233.11 L350 233.88 L350.25 234.66 L350.5 235.44 L350.75 236.18 L351 236.92 L351.25 237.65 L351.5 238.39 L351.75 239.13 L352 239.87 L352.25 240.61 L352.5 241.35 L352.75 242.09 L353 242.83 L353.25 243.57 L353.5 244.31 L353.75 245.05 L354 245.79 L354.25 246.53 L354.5 247.27 L354.75 248.03 L355 248.8 L355.25 249.58 L355.5 250.35 L355.75 251.13 L356 251.91 L356.25 252.7 L356.5 253.51 L356.75 254.33 L357 255.14 L357.25 255.95 L357.5 256.76 L357.75 257.59 L358 258.44 L358.25 259.29 L358.5 260.14 L358.75 260.98 L359 261.83 L359.25 262.68 L359.5 263.53 L359.75 264.37 L360 265.22 L360.25 266.07 L360.5 266.92 L360.75 267.74 L361 268.57 L361.25 269.39 L361.5 270.22 L361.75 271.04 L362 271.87 L362.25 272.67 L362.5 273.47 L362.75 274.28 L363 275.08 L363.25 275.88 L363.5 276.69 L363.75 277.47 L364 278.25 L364.25 279.03 L364.5 279.81 L364.75 280.59 L365 281.38 L365.25 282.16 L365.5 282.94 L365.75 283.72 L366 284.5 L366.25 285.28 L366.5 286.06 L366.75 286.84 L367 287.62 L367.25 288.41 L367.5 289.19 L367.75 289.97 L368 290.75 L368.25 291.53 L368.5 292.31 L368.75 292.97 L369 293.63 L369.25 294.29 L369.5 294.95 L369.75 295.61 L370 296.27 L370.25 296.81 L370.5 297.35 L370.75 297.89 L371 298.42 L371.25 298.96 L371.5 299.5 L371.75 299.92 L372 300.33 L372.25 300.75 L372.5 301.17 L372.75 301.58 L373 302 L373.25 302.42 L373.5 302.83 L373.75 303.25 L374 303.67 L374.25 304.08 L374.5 304.5 L374.75 304.86 L375 305.22 L375.25 305.58 L375.5 305.94 L375.75 306.31 L376 306.67 L376.25 306.97 L376.5 307.28 L376.75 307.58 L377 307.89 L377.25 308.19 L377.5 308.5 L377.75 308.75 L378 309 L378.25 309.25 L378.5 309.5 L378.75 309.75 L379 310 L379.25 310.25 L379.5 310.5 L379.75 310.75 L380 311 L380.25 311.25 L380.5 311.5 L380.75 311.71 L381 311.93 L381.25 312.14 L381.5 312.35 L381.75 312.57 L382 312.78 L382.25 312.96 L382.5 313.14 L382.75 313.31 L383 313.49 L383.25 313.67 L383.5 313.84 L383.75 313.98 L384 314.12 L384.25 314.27 L384.5 314.41 L384.75 314.55 L385 314.69 L385.25 314.83 L385.5 314.97 L385.75 315.11 L386 315.25 L386.25 315.39 L386.5 315.53 L386.75 315.67 L387 315.81 L387.25 315.95 L387.5 316.09 L387.75 316.23 L388 316.38 L388.25 316.52 L388.5 316.66 L388.75 316.76 L389 316.87 L389.25 316.97 L389.5 317.08 L389.75 317.19 L390 317.29 L390.25 317.37 L390.5 317.44 L390.75 317.51 L391 317.58 L391.25 317.65 L391.5 317.72 L391.75 317.76 L392 317.8 L392.25 317.84 L392.5 317.88 L392.75 317.91 L393 317.95 L393.25 317.99 L393.5 318.03 L393.75 318.06 L394 318.1 L394.25 318.14 L394.5 318.18 L394.75 318.21 L395 318.25 L395.25 318.29 L395.5 318.32 L395.75 318.36 L396 318.4 L396.25 318.44 L396.5 318.47 L396.75 318.51 L397 318.55 L397.25 318.59 L397.5 318.62 L397.75 318.66 L398 318.7 L398.25 318.74 L398.5 318.78 L398.75 318.8 L399 318.83 L399.25 318.85 L399.5 318.88 L399.75 318.91 L400 318.93 L400.25 318.95 L400.5 318.96 L400.75 318.98 L401 318.99 L401.25 319 L401.5 319.02 L401.75 319.02 L402 319.03 L402.25 319.03 L402.5 319.03 L402.75 319.04 L403 319.04 L403.25 319.04 L403.5 319.05 L403.75 319.05 L404 319.05 L404.25 319.06 L404.5 319.06 L404.75 319.06 L405 319.07 L405.25 319.07 L405.5 319.07 L405.75 319.07 L406 319.08 L406.25 319.08 L406.5 319.08 L406.75 319.09 L407 319.09 L407.25 319.09 L407.5 319.1 L407.75 319.1 L408 319.1 L408.25 319.11 L408.5 319.11 L408.75 319.11 L409 319.12 L409.25 319.12 L409.5 319.12 L409.75 319.13 L410 319.13 L410.25 319.13 L410.5 319.14 L410.75 319.14 L411 319.14 L411.25 319.15 L411.5 319.15 L411.75 319.15 L412 319.16 L412.25 319.16 L412.5 319.16 L412.75 319.17 L413 319.17 L413.25 319.17 L413.5 319.18 L413.75 319.18 L414 319.18 L414.25 319.19 L414.5 319.19 L414.75 319.19 L415 319.2 L415.25 319.2 L415.5 319.2 L415.75 319.21 L416 319.21 L416.25 319.21 L416.5 319.22 L416.75 319.22 L417 319.22 L417.25 319.22 L417.5 319.23 L417.75 319.23 L418 319.23 L418.25 319.24 L418.5 319.24 L418.75 319.24 L419 319.25 L419.25 319.25 L419.5 319.25 L419.75 319.26 L420 319.26 L420.25 319.26 L420.5 319.27 L420.75 319.27 L421 319.27 L421.25 319.28 L421.5 319.28 L421.75 319.28 L422 319.28 L422.25 319.29" fill="none" stroke="#ee44ee" stroke-width="1" stroke-linejoin="round" />
<path d="M271.55 316.14 a1.7 1.7 0 1 0 3.4 0 a1.7 1.7 0 1 0 -3.4 0 M273.4 312.78 a1.7 1.7 0 1 0 3.4 0 a1.7 1.7 0 1 0 -3.4 0 M275.84 313.87 a1.7 1.7 0 1 0 3.4 0 a1.7 1.7 0 1 0 -3.4 0 M278.32 310.37 a1.7 1.7 0 1 0 3.4 0 a1.7 1.7 0 1 0 -3.4 0 M280.3 307.56 a1.7 1.7 0 1 0 3.4 0 a1.7 1.7 0 1 0 -3.4 0 M282.05 313.33 a1.7 1.7 0 1 0 3.4 0 a1.7 1.7 0 1 0 -3.4 0 M284.58 312.07 a1.7 1.7 0 1 0 3.4 0 a1.7 1.7 0 1 0 -3.4 0 M286.34 305.06 a1.7 1.7 0 1 0 3.4 0 a1.7 1.7 0 1 0 -3.4 0 M288.6 309.51 a1.7 1.7 0 1 0 3.4 0 a1.7 1.7 0 1 0 -3.4 0 M291.56 305.64 a1.7 1.7 0 1 0 3.4 0 a1.7 1.7 0 1 0 -3.4 0 M293.39 305.88 a1.7 1.7 0 1 0 3.4 0 a1.7 1.7 0 1 0 -3.4 0 M296.09 302.29 a1.7 1.7 0 1 0 3.4 0 a1.7 1.7 0 1 0 -3.4 0 M297.71 304.23 a1.7 1.7 0 1 0 3.4 0 a1.7 1.7 0 1 0 -3.4 0 M300.08 300.59 a1.7 1.7 0 1 0 3.4 0 a1.7 1.7 0 1 0 -3.4 0 M302.69 301.77 a1.7 1.7 0 1 0 3.4 0 a1.7 1.7 0 1 0 -3.4 0 M304.68 296.98 a1.7 1.7 0 1 0 3.4 0 a1.7 1.7 0 1 0 -3.4 0 M306.91 293.79 a1.7 1.7 0 1 0 3.4 0 a1.7 1.7 0 1 0 -3.4 0 M308.45 289.5 a1.7 1.7 0 1 0 3.4 0 a1.7 1.7 0 1 0 -3.4 0 M310.44 284.45 a1.7 1.7 0 1 0 3.4 0 a1.7 1.7 0 1 0 -3.4 0 M313.2 282.43 a1.7 1.7 0 1 0 3.4 0 a1.7 1.7 0 1 0 -3.4 0 M315.82 280.32 a1.7 1.7 0 1 0 3.4 0 a1.7 1.7 0 1 0 -3.4 0 M317.44 264.76 a1.7 1.7 0 1 0 3.4 0 a1.7 1.7 0 1 0 -3.4 0 M319.41 265.44 a1.7 1.7 0 1 0 3.4 0 a1.7 1.7 0 1 0 -3.4 0 M321.43 257.03 a1.7 1.7 0 1 0 3.4 0 a1.7 1.7 0 1 0 -3.4 0 M324.22 244.42 a1.7 1.7 0 1 0 3.4 0 a1.7 1.7 0 1 0 -3.4 0 M326.14 243.26 a1.7 1.7 0 1 0 3.4 0 a1.7 1.7 0 1 0 -3.4 0 M328.07 238.07 a1.7 1.7 0 1 0 3.4 0 a1.7 1.7 0 1 0 -3.4 0 M330.82 234.6 a1.7 1.7 0 1 0 3.4 0 a1.7 1.7 0 1 0 -3.4 0 M333.08 230.59 a1.7 1.7 0 1 0 3.4 0 a1.7 1.7 0 1 0 -3.4 0 M334.89 223.36 a1.7 1.7 0 1 0 3.4 0 a1.7 1.7 0 1 0 -3.4 0 M337.51 217.81 a1.7 1.7 0 1 0 3.4 0 a1.7 1.7 0 1 0 -3.4 0 M339.14 213.09 a1.7 1.7 0 1 0 3.4 0 a1.7 1.7 0 1 0 -3.4 0 M342.05 214.82 a1.7 1.7 0 1 0 3.4 0 a1.7 1.7 0 1 0 -3.4 0 M343.42 218.58 a1.7 1.7 0 1 0 3.4 0 a1.7 1.7 0 1 0 -3.4 0 M345.97 226.61 a1.7 1.7 0 1 0 3.4 0 a1.7 1.7 0 1 0 -3.4 0 M347.81 230.62 a1.7 1.7 0 1 0 3.4 0 a1.7 1.7 0 1 0 -3.4 0 M350.1 239.4 a1.7 1.7 0 1 0 3.4 0 a1.7 1.7 0 1 0 -3.4 0 M352.44 246.14 a1.7 1.7 0 1 0 3.4 0 a1.7 1.7 0 1 0 -3.4 0 M354.67 251.52 a1.7 1.7 0 1 0 3.4 0 a1.7 1.7 0 1 0 -3.4 0 M357.18 263.14 a1.7 1.7 0 1 0 3.4 0 a1.7 1.7 0 1 0 -3.4 0 M359.13 267.96 a1.7 1.7 0 1 0 3.4 0 a1.7 1.7 0 1 0 -3.4 0 M362.1 271.57 a1.7 1.7 0 1 0 3.4 0 a1.7 1.7 0 1 0 -3.4 0 M363.54 285.03 a1.7 1.7 0 1 0 3.4 0 a1.7 1.7 0 1 0 -3.4 0 M365.54 290.76 a1.7 1.7 0 1 0 3.4 0 a1.7 1.7 0 1 0 -3.4 0 M367.51 299.4 a1.7 1.7 0 1 0 3.4 0 a1.7 1.7 0 1 0 -3.4 0 M370.68 302.39 a1.7 1.7 0 1 0 3.4 0 a1.7 1.7 0 1 0 -3.4 0 M372.39 302.54 a1.7 1.7 0 1 0 3.4 0 a1.7 1.7 0 1 0 -3.4 0 M374.3 309.13 a1.7 1.7 0 1 0 3.4 0 a1.7 1.7 0 1 0 -3.4 0 M376.32 307.81 a1.7 1.7 0 1 0 3.4 0 a1.7 1.7 0 1 0 -3.4 0 M379.59 308.5 a1.7 1.7 0 1 0 3.4 0 a1.7 1.7 0 1 0 -3.4 0 M380.81 312.4 a1.7 1.7 0 1 0 3.4 0 a1.7 1.7 0 1 0 -3.4 0 M383.08 318.11 a1.7 1.7 0 1 0 3.4 0 a1.7 1.7 0 1 0 -3.4 0 M385.73 317.71 a1.7 1.7 0 1 0 3.4 0 a1.7 1.7 0 1 0 -3.4 0 M388.27 318.08 a1.7 1.7 0 1 0 3.4 0 a1.7 1.7 0 1 0 -3.4 0 M389.74 318.7 a1.7 1.7 0 1 0 3.4 0 a1.7 1.7 0 1 0 -3.4 0 M403.18 317.53 a1.7 1.7 0 1 0 3.4 0 a1.7 1.7 0 1 0 -3.4 0 M405.77 317.42 a1.7 1.7 0 1 0 3.4 0 a1.7 1.7 0 1 0 -3.4 0 M407.77 318.7 a1.7 1.7 0 1 0 3.4 0 a1.7 1.7 0 1 0 -3.4 0 M410.02 318.7 a1.7 1.7 0 1 0 3.4 0 a1.7 1.7 0 1 0 -3.4 0 M414.49 318.25 a1.7 1.7 0 1 0 3.4 0 a1.7 1.7 0 1 0 -3.4 0 M415.93 318 a1.7 1.7 0 1 0 3.4 0 a1.7 1.7 0 1 0 -3.4 0 M340.6 206.8 a1.7 1.7 0 1 0 3.4 0 a1.7 1.7 0 1 0 -3.4 0 M338.7 210.2 a1.7 1.7 0 1 0 3.4 0 a1.7 1.7 0 1 0 -3.4 0 " fill="#fff" stroke="#3f3ff0" stroke-width="0.9"/>
<path d="M343.5 237.7 L354.7 226.58" stroke="#111" stroke-width="0.85"/>
<path d="M358.6 222.7 L356.74 228.63 L352.65 224.52 Z" fill="#111"/>
<path d="M322.6 285.1 L304.41 270.71" stroke="#111" stroke-width="0.85"/>
<path d="M300.1 267.3 L306.21 268.44 L302.61 272.99 Z" fill="#111"/>
<path d="M374 309 L381.01 301.27" stroke="#111" stroke-width="0.85"/>
<path d="M384.7 297.2 L383.15 303.22 L378.86 299.33 Z" fill="#111"/>
<text x="362.1" y="224.7" font-size="10.4" fill="#3c3c3c" font-weight="normal" textLength="18.49" lengthAdjust="spacingAndGlyphs" stroke="#3c3c3c" stroke-width="0.25">N=C</text>
<text x="288.9" y="263.7" font-size="10.4" fill="#3c3c3c" font-weight="normal" textLength="16.62" lengthAdjust="spacingAndGlyphs" stroke="#3c3c3c" stroke-width="0.25">N-H</text>
<text x="386.5" y="297" font-size="10.4" fill="#3c3c3c" font-weight="normal" textLength="15.82" lengthAdjust="spacingAndGlyphs" stroke="#3c3c3c" stroke-width="0.25">C-N</text>
</svg>
</body></html>
